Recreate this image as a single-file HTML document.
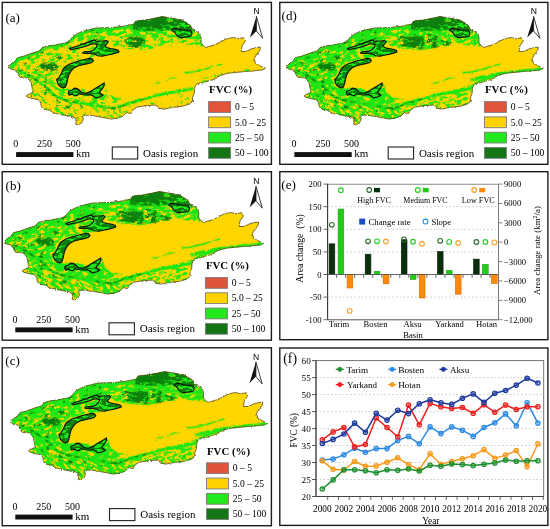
<!DOCTYPE html>
<html><head><meta charset="utf-8"><title>FVC figure</title>
<style>html,body{margin:0;padding:0;background:#fff;} body{width:550px;height:529px;overflow:hidden;} svg{display:block;}</style>
</head><body>
<svg width="550" height="529" viewBox="0 0 550 529">
<rect width="550" height="529" fill="#fff"/>
<rect x="2.2" y="2.4" width="269.2" height="161.9" fill="none" stroke="#1c1c1c" stroke-width="1.4"/>
<rect x="279.8" y="2.4" width="268.1" height="161.9" fill="none" stroke="#1c1c1c" stroke-width="1.4"/>
<rect x="2.2" y="171.7" width="269.2" height="168.5" fill="none" stroke="#1c1c1c" stroke-width="1.4"/>
<rect x="279.8" y="171.7" width="268.1" height="168.0" fill="none" stroke="#1c1c1c" stroke-width="1.4"/>
<rect x="2.2" y="347.8" width="269.2" height="177.9" fill="none" stroke="#1c1c1c" stroke-width="1.4"/>
<rect x="279.8" y="348.0" width="268.1" height="177.4" fill="none" stroke="#1c1c1c" stroke-width="1.4"/>
<defs><filter id="rough" x="-3%" y="-5%" width="106%" height="110%"><feTurbulence type="fractalNoise" baseFrequency="0.45" numOctaves="2" seed="2" result="t"/><feDisplacementMap in="SourceGraphic" in2="t" scale="2.4" xChannelSelector="R" yChannelSelector="G"/></filter>
<clipPath id="mclip" clipPathUnits="userSpaceOnUse"><polygon points="8.4,67.9 9.5,65.6 12.0,63.0 15.2,61.1 17.5,57.7 24.3,56.0 28.8,54.3 32.2,53.1 39.0,50.9 42.4,47.5 48.1,45.8 53.8,45.2 59.4,44.1 65.0,43.0 67.2,42.1 70.5,39.6 72.9,36.4 77.0,33.9 81.9,31.5 88.5,29.8 95.0,28.2 98.7,27.9 111.8,27.5 122.7,26.4 133.6,24.2 135.8,20.9 146.7,19.8 157.6,17.6 162.0,16.5 172.9,18.3 181.6,19.8 187.1,23.1 190.4,25.3 192.6,29.6 196.2,31.4 200.3,33.8 201.1,37.9 201.1,42.7 203.5,45.9 205.9,47.5 210.7,45.9 216.3,44.3 222.0,41.1 226.8,38.7 233.2,37.5 238.0,38.7 244.4,37.9 245.3,41.1 242.0,45.9 241.2,51.5 246.1,51.5 250.9,49.1 255.7,47.5 260.5,47.2 259.7,50.7 256.5,54.7 254.1,58.7 255.7,63.6 260.5,66.0 265.3,68.4 262.1,70.0 254.1,70.8 244.4,71.6 236.4,72.4 228.4,73.2 222.0,74.8 217.1,77.2 213.1,79.6 207.5,81.2 202.7,82.8 198.0,83.6 196.0,84.5 194.5,88.5 194.2,93.5 192.5,97.5 192.5,101.5 189.1,104.2 181.8,106.4 172.7,107.3 163.6,109.1 158.2,108.2 156.4,105.1 147.3,105.5 136.4,107.3 131.8,110.9 130.9,113.6 126.4,112.7 123.6,115.5 118.2,118.2 110.9,119.1 105.1,117.9 98.6,116.7 92.0,115.6 85.5,115.1 82.2,116.7 83.0,120.0 81.4,123.3 78.1,124.9 75.6,124.1 76.5,121.6 75.6,118.4 72.4,116.7 65.8,115.6 59.3,114.3 52.7,112.6 49.5,110.2 44.5,109.4 41.3,106.9 40.5,102.0 38.0,99.5 33.1,98.7 27.4,97.1 26.5,95.5 29.8,93.8 33.1,92.2 32.2,88.3 31.1,82.6 27.7,78.1 24.0,77.8 19.7,77.2 17.5,73.6 16.3,70.2 11.5,69.3"/></clipPath>
<filter id="s30" x="0" y="0" width="1" height="1" color-interpolation-filters="sRGB" filterUnits="objectBoundingBox">
<feTurbulence type="fractalNoise" baseFrequency="0.42" numOctaves="2" seed="3" result="n"/>
<feColorMatrix in="n" type="matrix" values="0 0 0 0 0  0 0 0 0 0  0 0 0 0 0  1 0 0 0 0" result="na"/>
<feComponentTransfer in="na" result="m"><feFuncA type="linear" slope="30" intercept="-16.30"/></feComponentTransfer>
<feComposite in="SourceGraphic" in2="m" operator="in"/>
</filter>
<filter id="s45" x="0" y="0" width="1" height="1" color-interpolation-filters="sRGB" filterUnits="objectBoundingBox">
<feTurbulence type="fractalNoise" baseFrequency="0.42" numOctaves="2" seed="5" result="n"/>
<feColorMatrix in="n" type="matrix" values="0 0 0 0 0  0 0 0 0 0  0 0 0 0 0  1 0 0 0 0" result="na"/>
<feComponentTransfer in="na" result="m"><feFuncA type="linear" slope="30" intercept="-14.80"/></feComponentTransfer>
<feComposite in="SourceGraphic" in2="m" operator="in"/>
</filter>
<filter id="s60" x="0" y="0" width="1" height="1" color-interpolation-filters="sRGB" filterUnits="objectBoundingBox">
<feTurbulence type="fractalNoise" baseFrequency="0.42" numOctaves="2" seed="7" result="n"/>
<feColorMatrix in="n" type="matrix" values="0 0 0 0 0  0 0 0 0 0  0 0 0 0 0  1 0 0 0 0" result="na"/>
<feComponentTransfer in="na" result="m"><feFuncA type="linear" slope="30" intercept="-13.60"/></feComponentTransfer>
<feComposite in="SourceGraphic" in2="m" operator="in"/>
</filter>
<filter id="s75" x="0" y="0" width="1" height="1" color-interpolation-filters="sRGB" filterUnits="objectBoundingBox">
<feTurbulence type="fractalNoise" baseFrequency="0.42" numOctaves="2" seed="9" result="n"/>
<feColorMatrix in="n" type="matrix" values="0 0 0 0 0  0 0 0 0 0  0 0 0 0 0  1 0 0 0 0" result="na"/>
<feComponentTransfer in="na" result="m"><feFuncA type="linear" slope="30" intercept="-12.40"/></feComponentTransfer>
<feComposite in="SourceGraphic" in2="m" operator="in"/>
</filter>
<filter id="d40" x="0" y="0" width="1" height="1" color-interpolation-filters="sRGB" filterUnits="objectBoundingBox">
<feTurbulence type="fractalNoise" baseFrequency="0.3" numOctaves="2" seed="11" result="n"/>
<feColorMatrix in="n" type="matrix" values="0 0 0 0 0  0 0 0 0 0  0 0 0 0 0  1 0 0 0 0" result="na"/>
<feComponentTransfer in="na" result="m"><feFuncA type="linear" slope="30" intercept="-15.40"/></feComponentTransfer>
<feComposite in="SourceGraphic" in2="m" operator="in"/>
</filter>
<filter id="d25" x="0" y="0" width="1" height="1" color-interpolation-filters="sRGB" filterUnits="objectBoundingBox">
<feTurbulence type="fractalNoise" baseFrequency="0.3" numOctaves="2" seed="13" result="n"/>
<feColorMatrix in="n" type="matrix" values="0 0 0 0 0  0 0 0 0 0  0 0 0 0 0  1 0 0 0 0" result="na"/>
<feComponentTransfer in="na" result="m"><feFuncA type="linear" slope="30" intercept="-16.60"/></feComponentTransfer>
<feComposite in="SourceGraphic" in2="m" operator="in"/>
</filter></defs>
<g transform="translate(0,0)"><g filter="url(#rough)">
<polygon points="8.4,67.9 9.5,65.6 12.0,63.0 15.2,61.1 17.5,57.7 24.3,56.0 28.8,54.3 32.2,53.1 39.0,50.9 42.4,47.5 48.1,45.8 53.8,45.2 59.4,44.1 65.0,43.0 67.2,42.1 70.5,39.6 72.9,36.4 77.0,33.9 81.9,31.5 88.5,29.8 95.0,28.2 98.7,27.9 111.8,27.5 122.7,26.4 133.6,24.2 135.8,20.9 146.7,19.8 157.6,17.6 162.0,16.5 172.9,18.3 181.6,19.8 187.1,23.1 190.4,25.3 192.6,29.6 196.2,31.4 200.3,33.8 201.1,37.9 201.1,42.7 203.5,45.9 205.9,47.5 210.7,45.9 216.3,44.3 222.0,41.1 226.8,38.7 233.2,37.5 238.0,38.7 244.4,37.9 245.3,41.1 242.0,45.9 241.2,51.5 246.1,51.5 250.9,49.1 255.7,47.5 260.5,47.2 259.7,50.7 256.5,54.7 254.1,58.7 255.7,63.6 260.5,66.0 265.3,68.4 262.1,70.0 254.1,70.8 244.4,71.6 236.4,72.4 228.4,73.2 222.0,74.8 217.1,77.2 213.1,79.6 207.5,81.2 202.7,82.8 198.0,83.6 196.0,84.5 194.5,88.5 194.2,93.5 192.5,97.5 192.5,101.5 189.1,104.2 181.8,106.4 172.7,107.3 163.6,109.1 158.2,108.2 156.4,105.1 147.3,105.5 136.4,107.3 131.8,110.9 130.9,113.6 126.4,112.7 123.6,115.5 118.2,118.2 110.9,119.1 105.1,117.9 98.6,116.7 92.0,115.6 85.5,115.1 82.2,116.7 83.0,120.0 81.4,123.3 78.1,124.9 75.6,124.1 76.5,121.6 75.6,118.4 72.4,116.7 65.8,115.6 59.3,114.3 52.7,112.6 49.5,110.2 44.5,109.4 41.3,106.9 40.5,102.0 38.0,99.5 33.1,98.7 27.4,97.1 26.5,95.5 29.8,93.8 33.1,92.2 32.2,88.3 31.1,82.6 27.7,78.1 24.0,77.8 19.7,77.2 17.5,73.6 16.3,70.2 11.5,69.3" fill="#ffd600"/>
<g clip-path="url(#mclip)">
<polygon points="-3.4,49.7 9.4,43.8 26.2,41.4 42.7,39.9 63.2,42.1 74.3,40.8 86.1,37.6 102.2,40.3 101.5,53.9 97.3,56.6 88.1,55.4 79.6,55.5 71.1,55.6 63.7,58.2 56.4,60.9 46.3,59.3 31.8,55.1 16.7,52.8 6.0,53.2" transform="rotate(-20.0 55.7 50.1)" fill="#1ee614" filter="url(#sp0)"/>
<polygon points="1.6,63.7 12.3,62.4 23.0,61.1 38.3,62.1 53.0,65.0 63.2,65.7 70.0,63.4 63.0,73.9 57.1,80.6 52.6,89.8 52.0,95.8 44.5,96.9 35.6,91.4 30.6,82.9 26.6,74.5 15.6,69.5" transform="rotate(-15.0 39.9 74.9)" fill="#1ee614" filter="url(#sp1)"/>
<g transform="rotate(-20.0 58.6 44.5)" filter="url(#sp2)"><polyline points="-0.5,50.1 3.2,49.7 7.1,48.4 11.6,45.7 15.9,43.3 20.9,43.9 27.9,43.8 30.8,43.1 38.6,43.4 41.7,41.9 47.7,42.3 54.4,43.0 61.6,44.7 67.5,45.2 71.5,44.0 74.8,41.8 79.5,40.8 84.9,40.3 91.7,40.9 98.4,41.6 102.0,42.6 114.4,46.7 125.0,49.4 136.0,51.1" fill="none" stroke="#1ee614" stroke-width="6" stroke-linecap="round" stroke-linejoin="round"/></g>
<polygon points="66.7,51.0 73.8,47.7 82.3,46.9 98.5,48.1 100.8,55.0 99.3,60.8 92.0,60.9 84.0,59.8 73.8,59.1 66.5,59.2 59.4,62.5" transform="rotate(-15.0 81.5 55.5)" fill="#1ee614" filter="url(#sp3)"/>
<polygon points="55.1,94.4 59.4,95.3 69.1,92.8 78.8,90.2 88.9,89.5 97.6,83.1 102.8,79.6 106.8,86.8 113.9,90.1 118.8,92.9 112.1,98.8 102.7,102.4 82.9,105.6 67.4,105.6 57.6,100.0" transform="rotate(15.0 87.6 93.8)" fill="#1ee614" filter="url(#sp4)"/>
<polygon points="-6.3,108.2 10.7,106.8 20.7,103.8 25.8,117.2 40.0,115.2 47.4,121.1 64.9,116.8 83.9,109.3 92.4,113.3 96.4,101.1 114.3,91.9 124.7,80.4 114.0,73.1 96.1,82.3 78.2,91.5 63.5,96.3 52.9,98.4 41.3,98.8 31.0,95.9 21.1,95.2 5.2,98.4" transform="rotate(33.0 58.0 100.7)" fill="#1ee614" filter="url(#sp5)"/>
<polygon points="107.9,121.5 134.3,113.1 149.5,113.2 151.3,100.3 130.9,101.5 115.6,102.3 100.5,102.2" transform="rotate(-8.0 127.1 107.7)" fill="#1ee614" filter="url(#sp6)"/>
<polygon points="150.5,89.1 171.1,89.5 192.0,88.8 203.2,85.6 207.5,88.9 200.6,95.3 193.6,110.0 156.3,106.2 147.1,101.7" transform="rotate(-15.0 180.2 95.0)" fill="#1ee614" filter="url(#sp7)"/>
<g transform="rotate(-10.0 102.6 94.5)" filter="url(#sp8)"><polyline points="24.0,56.3 37.2,65.9 48.1,77.1 55.5,87.7 68.8,95.5 86.3,101.4 100.2,106.6 112.4,110.5 125.0,108.1 142.6,106.1 162.8,104.4 179.4,104.5 191.7,104.2" fill="none" stroke="#1ee614" stroke-width="3.0" stroke-linecap="round" stroke-linejoin="round"/></g>
<g transform="rotate(-10.0 223.4 76.9)" filter="url(#sp9)"><polyline points="190.4,83.0 202.0,77.1 220.9,73.9 240.7,74.5 262.8,75.8" fill="none" stroke="#1ee614" stroke-width="2.6" stroke-linecap="round" stroke-linejoin="round"/></g>
<g transform="rotate(30.0 51.4 83.5)" filter="url(#sp10)"><polyline points="30.0,82.9 39.7,81.5 52.1,84.8 62.8,85.0 72.3,83.5" fill="none" stroke="#1ee614" stroke-width="2.2" stroke-linecap="round" stroke-linejoin="round"/></g>
<g transform="rotate(-5.0 114.1 98.1)" filter="url(#sp11)"><polyline points="102.5,95.8 115.0,98.7 124.9,99.9" fill="none" stroke="#1ee614" stroke-width="1.5" stroke-linecap="round" stroke-linejoin="round"/></g>
<g transform="rotate(-12.0 163.4 81.3)" filter="url(#sp12)"><polyline points="149.3,83.1 163.7,80.9 177.1,79.8" fill="none" stroke="#1ee614" stroke-width="1.6" stroke-linecap="round" stroke-linejoin="round"/></g>
<g transform="rotate(-12.0 202.3 69.3)" filter="url(#sp13)"><polyline points="184.6,69.3 194.3,70.2 207.6,69.6 222.7,68.2" fill="none" stroke="#1ee614" stroke-width="1.6" stroke-linecap="round" stroke-linejoin="round"/></g>
<polygon points="70.3,26.3 95.5,22.6 135.7,19.7 145.3,28.2 172.3,28.6 186.1,31.3 195.1,32.8 202.8,38.2 202.5,43.2 179.7,40.0 159.7,39.0 139.8,36.9 119.9,34.9 99.9,33.8 84.8,35.0 71.7,36.4" transform="rotate(-3.0 141.3 32.9)" fill="#1ee614" filter="url(#sp14)"/>
<polygon points="85.3,34.8 100.4,33.5 120.4,34.6 140.3,36.6 160.2,38.7 180.2,39.7 203.0,42.9 204.7,50.0 194.7,48.5 179.9,45.7 159.7,47.7 144.6,49.9 124.7,47.8 109.9,43.0 100.1,39.5" transform="rotate(-3.0 147.2 42.2)" fill="#1ee614" filter="url(#sp15)"/>
<polygon points="127.8,28.1 133.7,22.6 136.1,19.4 147.0,18.9 158.0,17.3 162.5,16.4 173.3,18.8 181.9,20.7 187.2,24.3 190.4,26.7 192.3,31.1 195.6,33.7 184.6,34.1 169.7,31.3 149.7,31.3 134.7,30.5" transform="rotate(-3.0 164.0 25.3)" fill="#1ee614" filter="url(#sp16)"/>
<g transform="rotate(-8.0 230.3 73.4)" filter="url(#sp17)"><polyline points="193.4,74.9 204.7,73.4 214.9,72.9 230.1,72.5 245.2,73.1 258.3,73.4 265.3,73.4" fill="none" stroke="#1ee614" stroke-width="3.4" stroke-linecap="round" stroke-linejoin="round"/></g>
<g transform="rotate(60.0 197.5 35.2)" filter="url(#sp18)"><polyline points="187.5,38.1 194.4,34.1 199.9,32.6 208.2,36.2" fill="none" stroke="#1ee614" stroke-width="3.0" stroke-linecap="round" stroke-linejoin="round"/></g>
<polygon points="133.0,24.4 136.5,15.6 160.6,13.9 178.5,15.8 192.1,23.5 194.7,31.7 185.7,32.2 171.8,29.5 159.7,30.8 144.7,29.6 132.8,28.4" transform="rotate(-3.0 162.7 25.0)" fill="#0c7f0c" filter="url(#sp19)"/>
<polygon points="132.8,25.0 136.3,16.2 160.4,14.4 166.3,15.8 168.0,22.9 164.7,27.2 149.7,27.4 134.7,27.1" transform="rotate(-3.0 151.6 22.0)" fill="#0c7f0c" filter="url(#sp20)"/>
<polygon points="124.5,38.0 131.0,36.1 140.8,37.9 146.2,41.9 144.2,47.6 134.9,48.0 126.4,44.5" transform="rotate(-10.0 135.4 42.0)" fill="#0c7f0c" filter="url(#sp21)"/>

<polygon points="39.2,64.3 42.6,62.3 47.7,62.2 52.6,63.6 57.2,65.9 57.7,69.0 54.2,71.5 48.2,71.2 42.5,68.9" transform="rotate(-10.0 49.1 66.5)" fill="#0c7f0c" filter="url(#sp22)"/>
<polygon points="-3.4,49.7 9.4,43.8 26.2,41.4 42.7,39.9 63.2,42.1 74.3,40.8 86.1,37.6 102.2,40.3 101.5,53.9 97.3,56.6 88.1,55.4 79.6,55.5 71.1,55.6 63.7,58.2 56.4,60.9 46.3,59.3 31.8,55.1 16.7,52.8 6.0,53.2" transform="rotate(-20.0 55.7 50.1)" fill="#0c7f0c" filter="url(#sp23)"/>
<polygon points="1.6,63.7 12.3,62.4 23.0,61.1 38.3,62.1 53.0,65.0 63.2,65.7 70.0,63.4 63.0,73.9 57.1,80.6 52.6,89.8 52.0,95.8 44.5,96.9 35.6,91.4 30.6,82.9 26.6,74.5 15.6,69.5" transform="rotate(-15.0 39.9 74.9)" fill="#0c7f0c" filter="url(#sp24)"/>
<polygon points="-6.3,108.2 10.7,106.8 20.7,103.8 25.8,117.2 40.0,115.2 47.4,121.1 64.9,116.8 83.9,109.3 92.4,113.3 96.4,101.1 114.3,91.9 124.7,80.4 114.0,73.1 96.1,82.3 78.2,91.5 63.5,96.3 52.9,98.4 41.3,98.8 31.0,95.9 21.1,95.2 5.2,98.4" transform="rotate(33.0 58.0 100.7)" fill="#0c7f0c" filter="url(#sp25)"/>
<g transform="rotate(-5.0 79.8 95.5)" filter="url(#sp26)"><polyline points="21.0,65.3 34.9,73.7 46.8,83.9 55.0,93.8 69.0,100.5 86.9,104.8 101.2,108.7 113.7,111.6 126.1,108.1 143.4,104.6" fill="none" stroke="#0c7f0c" stroke-width="1.4" stroke-linecap="round" stroke-linejoin="round"/></g>
</g>
<polygon points="8.4,67.9 9.5,65.6 12.0,63.0 15.2,61.1 17.5,57.7 24.3,56.0 28.8,54.3 32.2,53.1 39.0,50.9 42.4,47.5 48.1,45.8 53.8,45.2 59.4,44.1 65.0,43.0 67.2,42.1 70.5,39.6 72.9,36.4 77.0,33.9 81.9,31.5 88.5,29.8 95.0,28.2 98.7,27.9 111.8,27.5 122.7,26.4 133.6,24.2 135.8,20.9 146.7,19.8 157.6,17.6 162.0,16.5 172.9,18.3 181.6,19.8 187.1,23.1 190.4,25.3 192.6,29.6 196.2,31.4 200.3,33.8 201.1,37.9 201.1,42.7 203.5,45.9 205.9,47.5 210.7,45.9 216.3,44.3 222.0,41.1 226.8,38.7 233.2,37.5 238.0,38.7 244.4,37.9 245.3,41.1 242.0,45.9 241.2,51.5 246.1,51.5 250.9,49.1 255.7,47.5 260.5,47.2 259.7,50.7 256.5,54.7 254.1,58.7 255.7,63.6 260.5,66.0 265.3,68.4 262.1,70.0 254.1,70.8 244.4,71.6 236.4,72.4 228.4,73.2 222.0,74.8 217.1,77.2 213.1,79.6 207.5,81.2 202.7,82.8 198.0,83.6 196.0,84.5 194.5,88.5 194.2,93.5 192.5,97.5 192.5,101.5 189.1,104.2 181.8,106.4 172.7,107.3 163.6,109.1 158.2,108.2 156.4,105.1 147.3,105.5 136.4,107.3 131.8,110.9 130.9,113.6 126.4,112.7 123.6,115.5 118.2,118.2 110.9,119.1 105.1,117.9 98.6,116.7 92.0,115.6 85.5,115.1 82.2,116.7 83.0,120.0 81.4,123.3 78.1,124.9 75.6,124.1 76.5,121.6 75.6,118.4 72.4,116.7 65.8,115.6 59.3,114.3 52.7,112.6 49.5,110.2 44.5,109.4 41.3,106.9 40.5,102.0 38.0,99.5 33.1,98.7 27.4,97.1 26.5,95.5 29.8,93.8 33.1,92.2 32.2,88.3 31.1,82.6 27.7,78.1 24.0,77.8 19.7,77.2 17.5,73.6 16.3,70.2 11.5,69.3" fill="none" stroke="#5a4a22" stroke-width="0.8" stroke-linejoin="round"/>
</g>
<polygon points="69.4,48.6 75.9,46.5 82.4,44.3 87.9,42.1 92.3,40.5 94.4,39.9 96.6,41.5 98.8,41.0 103.2,41.0 106.4,40.5 108.1,41.5 107.0,43.7 105.3,45.4 106.4,47.5 110.8,48.6 115.2,49.2 118.4,50.3 119.0,51.9 116.3,53.0 111.9,54.1 106.4,55.2 102.1,56.3 97.7,55.7 94.4,54.1 90.1,53.5 84.6,53.5 82.4,53.0 84.1,51.9 90.1,51.4 93.9,49.7 96.6,47.0 97.2,44.8 94.4,43.7 91.2,44.3 86.8,45.9 81.4,47.5 75.9,48.6 71.0,49.7" fill="#0c7f0c"/>
<polygon points="69.4,48.6 75.9,46.5 82.4,44.3 87.9,42.1 92.3,40.5 94.4,39.9 96.6,41.5 98.8,41.0 103.2,41.0 106.4,40.5 108.1,41.5 107.0,43.7 105.3,45.4 106.4,47.5 110.8,48.6 115.2,49.2 118.4,50.3 119.0,51.9 116.3,53.0 111.9,54.1 106.4,55.2 102.1,56.3 97.7,55.7 94.4,54.1 90.1,53.5 84.6,53.5 82.4,53.0 84.1,51.9 90.1,51.4 93.9,49.7 96.6,47.0 97.2,44.8 94.4,43.7 91.2,44.3 86.8,45.9 81.4,47.5 75.9,48.6 71.0,49.7" fill="#1ee614" filter="url(#sp63)"/>
<polygon points="69.4,48.6 75.9,46.5 82.4,44.3 87.9,42.1 92.3,40.5 94.4,39.9 96.6,41.5 98.8,41.0 103.2,41.0 106.4,40.5 108.1,41.5 107.0,43.7 105.3,45.4 106.4,47.5 110.8,48.6 115.2,49.2 118.4,50.3 119.0,51.9 116.3,53.0 111.9,54.1 106.4,55.2 102.1,56.3 97.7,55.7 94.4,54.1 90.1,53.5 84.6,53.5 82.4,53.0 84.1,51.9 90.1,51.4 93.9,49.7 96.6,47.0 97.2,44.8 94.4,43.7 91.2,44.3 86.8,45.9 81.4,47.5 75.9,48.6 71.0,49.7" fill="none" stroke="#101010" stroke-width="1.15" stroke-linejoin="round"/>
<polygon points="92.2,58.7 93.5,60.7 91.8,62.4 87.7,63.6 82.8,64.8 77.9,66.0 73.8,68.1 71.4,70.5 68.9,74.6 67.7,78.7 66.9,82.8 65.6,86.9 63.2,88.1 60.7,86.9 58.3,84.5 56.6,79.5 58.7,77.9 61.1,73.8 63.2,68.9 65.6,66.5 69.7,64.0 74.6,62.4 79.5,60.7 84.5,59.5 89.4,58.4" fill="#0c7f0c"/>
<polygon points="92.2,58.7 93.5,60.7 91.8,62.4 87.7,63.6 82.8,64.8 77.9,66.0 73.8,68.1 71.4,70.5 68.9,74.6 67.7,78.7 66.9,82.8 65.6,86.9 63.2,88.1 60.7,86.9 58.3,84.5 56.6,79.5 58.7,77.9 61.1,73.8 63.2,68.9 65.6,66.5 69.7,64.0 74.6,62.4 79.5,60.7 84.5,59.5 89.4,58.4" fill="#1ee614" filter="url(#sp64)"/>
<polygon points="92.2,58.7 93.5,60.7 91.8,62.4 87.7,63.6 82.8,64.8 77.9,66.0 73.8,68.1 71.4,70.5 68.9,74.6 67.7,78.7 66.9,82.8 65.6,86.9 63.2,88.1 60.7,86.9 58.3,84.5 56.6,79.5 58.7,77.9 61.1,73.8 63.2,68.9 65.6,66.5 69.7,64.0 74.6,62.4 79.5,60.7 84.5,59.5 89.4,58.4" fill="none" stroke="#101010" stroke-width="1.15" stroke-linejoin="round"/>
<polygon points="68.5,93.0 68.7,91.4 72.0,90.3 74.2,88.1 77.4,88.6 79.6,90.3 81.8,92.6 86.2,93.3 90.5,91.4 96.0,88.1 101.4,84.8 104.2,82.9 104.2,85.4 102.0,89.2 99.3,92.4 100.9,93.5 103.1,95.2 100.3,96.8 96.0,97.9 92.7,95.7 91.1,94.6 86.2,95.0 81.8,94.5 78.5,93.8 76.4,95.7 74.2,95.2 72.0,94.1 69.3,95.2" fill="#0c7f0c"/>
<polygon points="68.5,93.0 68.7,91.4 72.0,90.3 74.2,88.1 77.4,88.6 79.6,90.3 81.8,92.6 86.2,93.3 90.5,91.4 96.0,88.1 101.4,84.8 104.2,82.9 104.2,85.4 102.0,89.2 99.3,92.4 100.9,93.5 103.1,95.2 100.3,96.8 96.0,97.9 92.7,95.7 91.1,94.6 86.2,95.0 81.8,94.5 78.5,93.8 76.4,95.7 74.2,95.2 72.0,94.1 69.3,95.2" fill="#1ee614" filter="url(#sp65)"/>
<polygon points="68.5,93.0 68.7,91.4 72.0,90.3 74.2,88.1 77.4,88.6 79.6,90.3 81.8,92.6 86.2,93.3 90.5,91.4 96.0,88.1 101.4,84.8 104.2,82.9 104.2,85.4 102.0,89.2 99.3,92.4 100.9,93.5 103.1,95.2 100.3,96.8 96.0,97.9 92.7,95.7 91.1,94.6 86.2,95.0 81.8,94.5 78.5,93.8 76.4,95.7 74.2,95.2 72.0,94.1 69.3,95.2" fill="none" stroke="#101010" stroke-width="1.15" stroke-linejoin="round"/>
<polygon points="171.4,30.0 174.5,28.4 177.7,28.7 180.9,29.6 184.1,30.3 187.9,30.0 190.5,30.3 191.7,32.2 191.7,34.7 190.5,36.3 187.3,37.0 184.1,37.3 181.5,37.9 179.0,37.0 176.8,35.4 175.2,33.1 173.3,31.2" fill="#0c7f0c"/>
<polygon points="171.4,30.0 174.5,28.4 177.7,28.7 180.9,29.6 184.1,30.3 187.9,30.0 190.5,30.3 191.7,32.2 191.7,34.7 190.5,36.3 187.3,37.0 184.1,37.3 181.5,37.9 179.0,37.0 176.8,35.4 175.2,33.1 173.3,31.2" fill="#1ee614" filter="url(#sp66)"/>
<polygon points="171.4,30.0 174.5,28.4 177.7,28.7 180.9,29.6 184.1,30.3 187.9,30.0 190.5,30.3 191.7,32.2 191.7,34.7 190.5,36.3 187.3,37.0 184.1,37.3 181.5,37.9 179.0,37.0 176.8,35.4 175.2,33.1 173.3,31.2" fill="none" stroke="#101010" stroke-width="1.15" stroke-linejoin="round"/>
</g>
<g transform="translate(277.9,0)"><g filter="url(#rough)">
<polygon points="8.4,67.9 9.5,65.6 12.0,63.0 15.2,61.1 17.5,57.7 24.3,56.0 28.8,54.3 32.2,53.1 39.0,50.9 42.4,47.5 48.1,45.8 53.8,45.2 59.4,44.1 65.0,43.0 67.2,42.1 70.5,39.6 72.9,36.4 77.0,33.9 81.9,31.5 88.5,29.8 95.0,28.2 98.7,27.9 111.8,27.5 122.7,26.4 133.6,24.2 135.8,20.9 146.7,19.8 157.6,17.6 162.0,16.5 172.9,18.3 181.6,19.8 187.1,23.1 190.4,25.3 192.6,29.6 196.2,31.4 200.3,33.8 201.1,37.9 201.1,42.7 203.5,45.9 205.9,47.5 210.7,45.9 216.3,44.3 222.0,41.1 226.8,38.7 233.2,37.5 238.0,38.7 244.4,37.9 245.3,41.1 242.0,45.9 241.2,51.5 246.1,51.5 250.9,49.1 255.7,47.5 260.5,47.2 259.7,50.7 256.5,54.7 254.1,58.7 255.7,63.6 260.5,66.0 265.3,68.4 262.1,70.0 254.1,70.8 244.4,71.6 236.4,72.4 228.4,73.2 222.0,74.8 217.1,77.2 213.1,79.6 207.5,81.2 202.7,82.8 198.0,83.6 196.0,84.5 194.5,88.5 194.2,93.5 192.5,97.5 192.5,101.5 189.1,104.2 181.8,106.4 172.7,107.3 163.6,109.1 158.2,108.2 156.4,105.1 147.3,105.5 136.4,107.3 131.8,110.9 130.9,113.6 126.4,112.7 123.6,115.5 118.2,118.2 110.9,119.1 105.1,117.9 98.6,116.7 92.0,115.6 85.5,115.1 82.2,116.7 83.0,120.0 81.4,123.3 78.1,124.9 75.6,124.1 76.5,121.6 75.6,118.4 72.4,116.7 65.8,115.6 59.3,114.3 52.7,112.6 49.5,110.2 44.5,109.4 41.3,106.9 40.5,102.0 38.0,99.5 33.1,98.7 27.4,97.1 26.5,95.5 29.8,93.8 33.1,92.2 32.2,88.3 31.1,82.6 27.7,78.1 24.0,77.8 19.7,77.2 17.5,73.6 16.3,70.2 11.5,69.3" fill="#ffd600"/>
<g clip-path="url(#mclip)">
<polygon points="-3.4,49.7 9.4,43.8 26.2,41.4 42.7,39.9 63.2,42.1 74.3,40.8 86.1,37.6 102.2,40.3 101.5,53.9 97.3,56.6 88.1,55.4 79.6,55.5 71.1,55.6 63.7,58.2 56.4,60.9 46.3,59.3 31.8,55.1 16.7,52.8 6.0,53.2" transform="rotate(-20.0 55.7 50.1)" fill="#1ee614" filter="url(#sp49)"/>
<polygon points="1.6,63.7 12.3,62.4 23.0,61.1 38.3,62.1 53.0,65.0 63.2,65.7 70.0,63.4 63.0,73.9 57.1,80.6 52.6,89.8 52.0,95.8 44.5,96.9 35.6,91.4 30.6,82.9 26.6,74.5 15.6,69.5" transform="rotate(-15.0 39.9 74.9)" fill="#1ee614" filter="url(#sp28)"/>
<g transform="rotate(-20.0 58.6 44.5)" filter="url(#sp29)"><polyline points="-0.5,50.1 3.2,49.7 7.1,48.4 11.6,45.7 15.9,43.3 20.9,43.9 27.9,43.8 30.8,43.1 38.6,43.4 41.7,41.9 47.7,42.3 54.4,43.0 61.6,44.7 67.5,45.2 71.5,44.0 74.8,41.8 79.5,40.8 84.9,40.3 91.7,40.9 98.4,41.6 102.0,42.6 114.4,46.7 125.0,49.4 136.0,51.1" fill="none" stroke="#1ee614" stroke-width="6" stroke-linecap="round" stroke-linejoin="round"/></g>
<polygon points="66.7,51.0 73.8,47.7 82.3,46.9 98.5,48.1 100.8,55.0 99.3,60.8 92.0,60.9 84.0,59.8 73.8,59.1 66.5,59.2 59.4,62.5" transform="rotate(-15.0 81.5 55.5)" fill="#1ee614" filter="url(#sp51)"/>
<polygon points="55.1,94.4 59.4,95.3 69.1,92.8 78.8,90.2 88.9,89.5 97.6,83.1 102.8,79.6 106.8,86.8 113.9,90.1 118.8,92.9 112.1,98.8 102.7,102.4 82.9,105.6 67.4,105.6 57.6,100.0" transform="rotate(15.0 87.6 93.8)" fill="#1ee614" filter="url(#sp52)"/>
<polygon points="-6.3,108.2 10.7,106.8 20.7,103.8 25.8,117.2 40.0,115.2 47.4,121.1 64.9,116.8 83.9,109.3 92.4,113.3 96.4,101.1 114.3,91.9 124.7,80.4 114.0,73.1 96.1,82.3 78.2,91.5 63.5,96.3 52.9,98.4 41.3,98.8 31.0,95.9 21.1,95.2 5.2,98.4" transform="rotate(33.0 58.0 100.7)" fill="#1ee614" filter="url(#sp60)"/>
<polygon points="107.9,121.5 134.3,113.1 149.5,113.2 151.3,100.3 130.9,101.5 115.6,102.3 100.5,102.2" transform="rotate(-8.0 127.1 107.7)" fill="#1ee614" filter="url(#sp61)"/>
<polygon points="150.5,89.1 171.1,89.5 192.0,88.8 203.2,85.6 207.5,88.9 200.6,95.3 193.6,110.0 156.3,106.2 147.1,101.7" transform="rotate(-15.0 180.2 95.0)" fill="#1ee614" filter="url(#sp62)"/>
<g transform="rotate(-10.0 102.6 94.5)" filter="url(#sp35)"><polyline points="24.0,56.3 37.2,65.9 48.1,77.1 55.5,87.7 68.8,95.5 86.3,101.4 100.2,106.6 112.4,110.5 125.0,108.1 142.6,106.1 162.8,104.4 179.4,104.5 191.7,104.2" fill="none" stroke="#1ee614" stroke-width="3.0" stroke-linecap="round" stroke-linejoin="round"/></g>
<g transform="rotate(-10.0 223.4 76.9)" filter="url(#sp36)"><polyline points="190.4,83.0 202.0,77.1 220.9,73.9 240.7,74.5 262.8,75.8" fill="none" stroke="#1ee614" stroke-width="2.6" stroke-linecap="round" stroke-linejoin="round"/></g>
<g transform="rotate(30.0 51.4 83.5)" filter="url(#sp37)"><polyline points="30.0,82.9 39.7,81.5 52.1,84.8 62.8,85.0 72.3,83.5" fill="none" stroke="#1ee614" stroke-width="2.2" stroke-linecap="round" stroke-linejoin="round"/></g>
<g transform="rotate(-5.0 114.1 98.1)" filter="url(#sp38)"><polyline points="102.5,95.8 115.0,98.7 124.9,99.9" fill="none" stroke="#1ee614" stroke-width="1.5" stroke-linecap="round" stroke-linejoin="round"/></g>
<g transform="rotate(-12.0 163.4 81.3)" filter="url(#sp39)"><polyline points="149.3,83.1 163.7,80.9 177.1,79.8" fill="none" stroke="#1ee614" stroke-width="1.6" stroke-linecap="round" stroke-linejoin="round"/></g>
<g transform="rotate(-12.0 202.3 69.3)" filter="url(#sp40)"><polyline points="184.6,69.3 194.3,70.2 207.6,69.6 222.7,68.2" fill="none" stroke="#1ee614" stroke-width="1.6" stroke-linecap="round" stroke-linejoin="round"/></g>
<polygon points="70.3,26.3 95.5,22.6 135.7,19.7 145.3,28.2 172.3,28.6 186.1,31.3 195.1,32.8 202.8,38.2 202.5,43.2 179.7,40.0 159.7,39.0 139.8,36.9 119.9,34.9 99.9,33.8 84.8,35.0 71.7,36.4" transform="rotate(-3.0 141.3 32.9)" fill="#1ee614" filter="url(#sp41)"/>
<polygon points="85.3,34.8 100.4,33.5 120.4,34.6 140.3,36.6 160.2,38.7 180.2,39.7 203.0,42.9 204.7,50.0 194.7,48.5 179.9,45.7 159.7,47.7 144.6,49.9 124.7,47.8 109.9,43.0 100.1,39.5" transform="rotate(-3.0 147.2 42.2)" fill="#1ee614" filter="url(#sp42)"/>
<polygon points="127.8,28.1 133.7,22.6 136.1,19.4 147.0,18.9 158.0,17.3 162.5,16.4 173.3,18.8 181.9,20.7 187.2,24.3 190.4,26.7 192.3,31.1 195.6,33.7 184.6,34.1 169.7,31.3 149.7,31.3 134.7,30.5" transform="rotate(-3.0 164.0 25.3)" fill="#1ee614" filter="url(#sp16)"/>
<g transform="rotate(-8.0 230.3 73.4)" filter="url(#sp58)"><polyline points="193.4,74.9 204.7,73.4 214.9,72.9 230.1,72.5 245.2,73.1 258.3,73.4 265.3,73.4" fill="none" stroke="#1ee614" stroke-width="3.4" stroke-linecap="round" stroke-linejoin="round"/></g>
<g transform="rotate(60.0 197.5 35.2)" filter="url(#sp18)"><polyline points="187.5,38.1 194.4,34.1 199.9,32.6 208.2,36.2" fill="none" stroke="#1ee614" stroke-width="3.0" stroke-linecap="round" stroke-linejoin="round"/></g>
<polygon points="133.0,24.4 136.5,15.6 160.6,13.9 178.5,15.8 192.1,23.5 194.7,31.7 185.7,32.2 171.8,29.5 159.7,30.8 144.7,29.6 132.8,28.4" transform="rotate(-3.0 162.7 25.0)" fill="#0c7f0c" filter="url(#sp19)"/>
<polygon points="132.8,25.0 136.3,16.2 160.4,14.4 166.3,15.8 168.0,22.9 164.7,27.2 149.7,27.4 134.7,27.1" transform="rotate(-3.0 151.6 22.0)" fill="#0c7f0c" filter="url(#sp20)"/>
<polygon points="124.5,38.0 131.0,36.1 140.8,37.9 146.2,41.9 144.2,47.6 134.9,48.0 126.4,44.5" transform="rotate(-10.0 135.4 42.0)" fill="#0c7f0c" filter="url(#sp21)"/>
<polygon points="118.5,35.1 128.8,32.0 150.7,33.9 170.3,39.7 179.9,44.5 177.5,48.3 164.5,48.2 144.4,48.4 124.6,45.7" transform="rotate(-5.0 151.0 41.8)" fill="#0c7f0c" filter="url(#sp59)"/>
<polygon points="39.2,64.3 42.6,62.3 47.7,62.2 52.6,63.6 57.2,65.9 57.7,69.0 54.2,71.5 48.2,71.2 42.5,68.9" transform="rotate(-10.0 49.1 66.5)" fill="#0c7f0c" filter="url(#sp22)"/>
<polygon points="-3.4,49.7 9.4,43.8 26.2,41.4 42.7,39.9 63.2,42.1 74.3,40.8 86.1,37.6 102.2,40.3 101.5,53.9 97.3,56.6 88.1,55.4 79.6,55.5 71.1,55.6 63.7,58.2 56.4,60.9 46.3,59.3 31.8,55.1 16.7,52.8 6.0,53.2" transform="rotate(-20.0 55.7 50.1)" fill="#0c7f0c" filter="url(#sp45)"/>
<polygon points="1.6,63.7 12.3,62.4 23.0,61.1 38.3,62.1 53.0,65.0 63.2,65.7 70.0,63.4 63.0,73.9 57.1,80.6 52.6,89.8 52.0,95.8 44.5,96.9 35.6,91.4 30.6,82.9 26.6,74.5 15.6,69.5" transform="rotate(-15.0 39.9 74.9)" fill="#0c7f0c" filter="url(#sp46)"/>
<polygon points="-6.3,108.2 10.7,106.8 20.7,103.8 25.8,117.2 40.0,115.2 47.4,121.1 64.9,116.8 83.9,109.3 92.4,113.3 96.4,101.1 114.3,91.9 124.7,80.4 114.0,73.1 96.1,82.3 78.2,91.5 63.5,96.3 52.9,98.4 41.3,98.8 31.0,95.9 21.1,95.2 5.2,98.4" transform="rotate(33.0 58.0 100.7)" fill="#0c7f0c" filter="url(#sp47)"/>
<g transform="rotate(-5.0 79.8 95.5)" filter="url(#sp48)"><polyline points="21.0,65.3 34.9,73.7 46.8,83.9 55.0,93.8 69.0,100.5 86.9,104.8 101.2,108.7 113.7,111.6 126.1,108.1 143.4,104.6" fill="none" stroke="#0c7f0c" stroke-width="1.4" stroke-linecap="round" stroke-linejoin="round"/></g>
</g>
<polygon points="8.4,67.9 9.5,65.6 12.0,63.0 15.2,61.1 17.5,57.7 24.3,56.0 28.8,54.3 32.2,53.1 39.0,50.9 42.4,47.5 48.1,45.8 53.8,45.2 59.4,44.1 65.0,43.0 67.2,42.1 70.5,39.6 72.9,36.4 77.0,33.9 81.9,31.5 88.5,29.8 95.0,28.2 98.7,27.9 111.8,27.5 122.7,26.4 133.6,24.2 135.8,20.9 146.7,19.8 157.6,17.6 162.0,16.5 172.9,18.3 181.6,19.8 187.1,23.1 190.4,25.3 192.6,29.6 196.2,31.4 200.3,33.8 201.1,37.9 201.1,42.7 203.5,45.9 205.9,47.5 210.7,45.9 216.3,44.3 222.0,41.1 226.8,38.7 233.2,37.5 238.0,38.7 244.4,37.9 245.3,41.1 242.0,45.9 241.2,51.5 246.1,51.5 250.9,49.1 255.7,47.5 260.5,47.2 259.7,50.7 256.5,54.7 254.1,58.7 255.7,63.6 260.5,66.0 265.3,68.4 262.1,70.0 254.1,70.8 244.4,71.6 236.4,72.4 228.4,73.2 222.0,74.8 217.1,77.2 213.1,79.6 207.5,81.2 202.7,82.8 198.0,83.6 196.0,84.5 194.5,88.5 194.2,93.5 192.5,97.5 192.5,101.5 189.1,104.2 181.8,106.4 172.7,107.3 163.6,109.1 158.2,108.2 156.4,105.1 147.3,105.5 136.4,107.3 131.8,110.9 130.9,113.6 126.4,112.7 123.6,115.5 118.2,118.2 110.9,119.1 105.1,117.9 98.6,116.7 92.0,115.6 85.5,115.1 82.2,116.7 83.0,120.0 81.4,123.3 78.1,124.9 75.6,124.1 76.5,121.6 75.6,118.4 72.4,116.7 65.8,115.6 59.3,114.3 52.7,112.6 49.5,110.2 44.5,109.4 41.3,106.9 40.5,102.0 38.0,99.5 33.1,98.7 27.4,97.1 26.5,95.5 29.8,93.8 33.1,92.2 32.2,88.3 31.1,82.6 27.7,78.1 24.0,77.8 19.7,77.2 17.5,73.6 16.3,70.2 11.5,69.3" fill="none" stroke="#5a4a22" stroke-width="0.8" stroke-linejoin="round"/>
</g>
<polygon points="69.4,48.6 75.9,46.5 82.4,44.3 87.9,42.1 92.3,40.5 94.4,39.9 96.6,41.5 98.8,41.0 103.2,41.0 106.4,40.5 108.1,41.5 107.0,43.7 105.3,45.4 106.4,47.5 110.8,48.6 115.2,49.2 118.4,50.3 119.0,51.9 116.3,53.0 111.9,54.1 106.4,55.2 102.1,56.3 97.7,55.7 94.4,54.1 90.1,53.5 84.6,53.5 82.4,53.0 84.1,51.9 90.1,51.4 93.9,49.7 96.6,47.0 97.2,44.8 94.4,43.7 91.2,44.3 86.8,45.9 81.4,47.5 75.9,48.6 71.0,49.7" fill="#0c7f0c"/>
<polygon points="69.4,48.6 75.9,46.5 82.4,44.3 87.9,42.1 92.3,40.5 94.4,39.9 96.6,41.5 98.8,41.0 103.2,41.0 106.4,40.5 108.1,41.5 107.0,43.7 105.3,45.4 106.4,47.5 110.8,48.6 115.2,49.2 118.4,50.3 119.0,51.9 116.3,53.0 111.9,54.1 106.4,55.2 102.1,56.3 97.7,55.7 94.4,54.1 90.1,53.5 84.6,53.5 82.4,53.0 84.1,51.9 90.1,51.4 93.9,49.7 96.6,47.0 97.2,44.8 94.4,43.7 91.2,44.3 86.8,45.9 81.4,47.5 75.9,48.6 71.0,49.7" fill="#1ee614" filter="url(#sp63)"/>
<polygon points="69.4,48.6 75.9,46.5 82.4,44.3 87.9,42.1 92.3,40.5 94.4,39.9 96.6,41.5 98.8,41.0 103.2,41.0 106.4,40.5 108.1,41.5 107.0,43.7 105.3,45.4 106.4,47.5 110.8,48.6 115.2,49.2 118.4,50.3 119.0,51.9 116.3,53.0 111.9,54.1 106.4,55.2 102.1,56.3 97.7,55.7 94.4,54.1 90.1,53.5 84.6,53.5 82.4,53.0 84.1,51.9 90.1,51.4 93.9,49.7 96.6,47.0 97.2,44.8 94.4,43.7 91.2,44.3 86.8,45.9 81.4,47.5 75.9,48.6 71.0,49.7" fill="none" stroke="#101010" stroke-width="1.15" stroke-linejoin="round"/>
<polygon points="92.2,58.7 93.5,60.7 91.8,62.4 87.7,63.6 82.8,64.8 77.9,66.0 73.8,68.1 71.4,70.5 68.9,74.6 67.7,78.7 66.9,82.8 65.6,86.9 63.2,88.1 60.7,86.9 58.3,84.5 56.6,79.5 58.7,77.9 61.1,73.8 63.2,68.9 65.6,66.5 69.7,64.0 74.6,62.4 79.5,60.7 84.5,59.5 89.4,58.4" fill="#0c7f0c"/>
<polygon points="92.2,58.7 93.5,60.7 91.8,62.4 87.7,63.6 82.8,64.8 77.9,66.0 73.8,68.1 71.4,70.5 68.9,74.6 67.7,78.7 66.9,82.8 65.6,86.9 63.2,88.1 60.7,86.9 58.3,84.5 56.6,79.5 58.7,77.9 61.1,73.8 63.2,68.9 65.6,66.5 69.7,64.0 74.6,62.4 79.5,60.7 84.5,59.5 89.4,58.4" fill="#1ee614" filter="url(#sp64)"/>
<polygon points="92.2,58.7 93.5,60.7 91.8,62.4 87.7,63.6 82.8,64.8 77.9,66.0 73.8,68.1 71.4,70.5 68.9,74.6 67.7,78.7 66.9,82.8 65.6,86.9 63.2,88.1 60.7,86.9 58.3,84.5 56.6,79.5 58.7,77.9 61.1,73.8 63.2,68.9 65.6,66.5 69.7,64.0 74.6,62.4 79.5,60.7 84.5,59.5 89.4,58.4" fill="none" stroke="#101010" stroke-width="1.15" stroke-linejoin="round"/>
<polygon points="68.5,93.0 68.7,91.4 72.0,90.3 74.2,88.1 77.4,88.6 79.6,90.3 81.8,92.6 86.2,93.3 90.5,91.4 96.0,88.1 101.4,84.8 104.2,82.9 104.2,85.4 102.0,89.2 99.3,92.4 100.9,93.5 103.1,95.2 100.3,96.8 96.0,97.9 92.7,95.7 91.1,94.6 86.2,95.0 81.8,94.5 78.5,93.8 76.4,95.7 74.2,95.2 72.0,94.1 69.3,95.2" fill="#0c7f0c"/>
<polygon points="68.5,93.0 68.7,91.4 72.0,90.3 74.2,88.1 77.4,88.6 79.6,90.3 81.8,92.6 86.2,93.3 90.5,91.4 96.0,88.1 101.4,84.8 104.2,82.9 104.2,85.4 102.0,89.2 99.3,92.4 100.9,93.5 103.1,95.2 100.3,96.8 96.0,97.9 92.7,95.7 91.1,94.6 86.2,95.0 81.8,94.5 78.5,93.8 76.4,95.7 74.2,95.2 72.0,94.1 69.3,95.2" fill="#1ee614" filter="url(#sp65)"/>
<polygon points="68.5,93.0 68.7,91.4 72.0,90.3 74.2,88.1 77.4,88.6 79.6,90.3 81.8,92.6 86.2,93.3 90.5,91.4 96.0,88.1 101.4,84.8 104.2,82.9 104.2,85.4 102.0,89.2 99.3,92.4 100.9,93.5 103.1,95.2 100.3,96.8 96.0,97.9 92.7,95.7 91.1,94.6 86.2,95.0 81.8,94.5 78.5,93.8 76.4,95.7 74.2,95.2 72.0,94.1 69.3,95.2" fill="none" stroke="#101010" stroke-width="1.15" stroke-linejoin="round"/>
<polygon points="171.4,30.0 174.5,28.4 177.7,28.7 180.9,29.6 184.1,30.3 187.9,30.0 190.5,30.3 191.7,32.2 191.7,34.7 190.5,36.3 187.3,37.0 184.1,37.3 181.5,37.9 179.0,37.0 176.8,35.4 175.2,33.1 173.3,31.2" fill="#0c7f0c"/>
<polygon points="171.4,30.0 174.5,28.4 177.7,28.7 180.9,29.6 184.1,30.3 187.9,30.0 190.5,30.3 191.7,32.2 191.7,34.7 190.5,36.3 187.3,37.0 184.1,37.3 181.5,37.9 179.0,37.0 176.8,35.4 175.2,33.1 173.3,31.2" fill="#1ee614" filter="url(#sp66)"/>
<polygon points="171.4,30.0 174.5,28.4 177.7,28.7 180.9,29.6 184.1,30.3 187.9,30.0 190.5,30.3 191.7,32.2 191.7,34.7 190.5,36.3 187.3,37.0 184.1,37.3 181.5,37.9 179.0,37.0 176.8,35.4 175.2,33.1 173.3,31.2" fill="none" stroke="#101010" stroke-width="1.15" stroke-linejoin="round"/>
</g>
<g transform="translate(-4.4,175.0) scale(1.01,1.0)"><g filter="url(#rough)">
<polygon points="8.4,67.9 9.5,65.6 12.0,63.0 15.2,61.1 17.5,57.7 24.3,56.0 28.8,54.3 32.2,53.1 39.0,50.9 42.4,47.5 48.1,45.8 53.8,45.2 59.4,44.1 65.0,43.0 67.2,42.1 70.5,39.6 72.9,36.4 77.0,33.9 81.9,31.5 88.5,29.8 95.0,28.2 98.7,27.9 111.8,27.5 122.7,26.4 133.6,24.2 135.8,20.9 146.7,19.8 157.6,17.6 162.0,16.5 172.9,18.3 181.6,19.8 187.1,23.1 190.4,25.3 192.6,29.6 196.2,31.4 200.3,33.8 201.1,37.9 201.1,42.7 203.5,45.9 205.9,47.5 210.7,45.9 216.3,44.3 222.0,41.1 226.8,38.7 233.2,37.5 238.0,38.7 244.4,37.9 245.3,41.1 242.0,45.9 241.2,51.5 246.1,51.5 250.9,49.1 255.7,47.5 260.5,47.2 259.7,50.7 256.5,54.7 254.1,58.7 255.7,63.6 260.5,66.0 265.3,68.4 262.1,70.0 254.1,70.8 244.4,71.6 236.4,72.4 228.4,73.2 222.0,74.8 217.1,77.2 213.1,79.6 207.5,81.2 202.7,82.8 198.0,83.6 196.0,84.5 194.5,88.5 194.2,93.5 192.5,97.5 192.5,101.5 189.1,104.2 181.8,106.4 172.7,107.3 163.6,109.1 158.2,108.2 156.4,105.1 147.3,105.5 136.4,107.3 131.8,110.9 130.9,113.6 126.4,112.7 123.6,115.5 118.2,118.2 110.9,119.1 105.1,117.9 98.6,116.7 92.0,115.6 85.5,115.1 82.2,116.7 83.0,120.0 81.4,123.3 78.1,124.9 75.6,124.1 76.5,121.6 75.6,118.4 72.4,116.7 65.8,115.6 59.3,114.3 52.7,112.6 49.5,110.2 44.5,109.4 41.3,106.9 40.5,102.0 38.0,99.5 33.1,98.7 27.4,97.1 26.5,95.5 29.8,93.8 33.1,92.2 32.2,88.3 31.1,82.6 27.7,78.1 24.0,77.8 19.7,77.2 17.5,73.6 16.3,70.2 11.5,69.3" fill="#ffd600"/>
<g clip-path="url(#mclip)">
<polygon points="-3.4,49.7 9.4,43.8 26.2,41.4 42.7,39.9 63.2,42.1 74.3,40.8 86.1,37.6 102.2,40.3 101.5,53.9 97.3,56.6 88.1,55.4 79.6,55.5 71.1,55.6 63.7,58.2 56.4,60.9 46.3,59.3 31.8,55.1 16.7,52.8 6.0,53.2" transform="rotate(-20.0 55.7 50.1)" fill="#1ee614" filter="url(#sp27)"/>
<polygon points="1.6,63.7 12.3,62.4 23.0,61.1 38.3,62.1 53.0,65.0 63.2,65.7 70.0,63.4 63.0,73.9 57.1,80.6 52.6,89.8 52.0,95.8 44.5,96.9 35.6,91.4 30.6,82.9 26.6,74.5 15.6,69.5" transform="rotate(-15.0 39.9 74.9)" fill="#1ee614" filter="url(#sp28)"/>
<g transform="rotate(-20.0 58.6 44.5)" filter="url(#sp29)"><polyline points="-0.5,50.1 3.2,49.7 7.1,48.4 11.6,45.7 15.9,43.3 20.9,43.9 27.9,43.8 30.8,43.1 38.6,43.4 41.7,41.9 47.7,42.3 54.4,43.0 61.6,44.7 67.5,45.2 71.5,44.0 74.8,41.8 79.5,40.8 84.9,40.3 91.7,40.9 98.4,41.6 102.0,42.6 114.4,46.7 125.0,49.4 136.0,51.1" fill="none" stroke="#1ee614" stroke-width="6" stroke-linecap="round" stroke-linejoin="round"/></g>
<polygon points="66.7,51.0 73.8,47.7 82.3,46.9 98.5,48.1 100.8,55.0 99.3,60.8 92.0,60.9 84.0,59.8 73.8,59.1 66.5,59.2 59.4,62.5" transform="rotate(-15.0 81.5 55.5)" fill="#1ee614" filter="url(#sp30)"/>
<polygon points="55.1,94.4 59.4,95.3 69.1,92.8 78.8,90.2 88.9,89.5 97.6,83.1 102.8,79.6 106.8,86.8 113.9,90.1 118.8,92.9 112.1,98.8 102.7,102.4 82.9,105.6 67.4,105.6 57.6,100.0" transform="rotate(15.0 87.6 93.8)" fill="#1ee614" filter="url(#sp31)"/>
<polygon points="-6.3,108.2 10.7,106.8 20.7,103.8 25.8,117.2 40.0,115.2 47.4,121.1 64.9,116.8 83.9,109.3 92.4,113.3 96.4,101.1 114.3,91.9 124.7,80.4 114.0,73.1 96.1,82.3 78.2,91.5 63.5,96.3 52.9,98.4 41.3,98.8 31.0,95.9 21.1,95.2 5.2,98.4" transform="rotate(33.0 58.0 100.7)" fill="#1ee614" filter="url(#sp32)"/>
<polygon points="107.9,121.5 134.3,113.1 149.5,113.2 151.3,100.3 130.9,101.5 115.6,102.3 100.5,102.2" transform="rotate(-8.0 127.1 107.7)" fill="#1ee614" filter="url(#sp33)"/>
<polygon points="150.5,89.1 171.1,89.5 192.0,88.8 203.2,85.6 207.5,88.9 200.6,95.3 193.6,110.0 156.3,106.2 147.1,101.7" transform="rotate(-15.0 180.2 95.0)" fill="#1ee614" filter="url(#sp34)"/>
<g transform="rotate(-10.0 102.6 94.5)" filter="url(#sp35)"><polyline points="24.0,56.3 37.2,65.9 48.1,77.1 55.5,87.7 68.8,95.5 86.3,101.4 100.2,106.6 112.4,110.5 125.0,108.1 142.6,106.1 162.8,104.4 179.4,104.5 191.7,104.2" fill="none" stroke="#1ee614" stroke-width="3.0" stroke-linecap="round" stroke-linejoin="round"/></g>
<g transform="rotate(-10.0 223.4 76.9)" filter="url(#sp36)"><polyline points="190.4,83.0 202.0,77.1 220.9,73.9 240.7,74.5 262.8,75.8" fill="none" stroke="#1ee614" stroke-width="2.6" stroke-linecap="round" stroke-linejoin="round"/></g>
<g transform="rotate(30.0 51.4 83.5)" filter="url(#sp37)"><polyline points="30.0,82.9 39.7,81.5 52.1,84.8 62.8,85.0 72.3,83.5" fill="none" stroke="#1ee614" stroke-width="2.2" stroke-linecap="round" stroke-linejoin="round"/></g>
<g transform="rotate(-5.0 114.1 98.1)" filter="url(#sp38)"><polyline points="102.5,95.8 115.0,98.7 124.9,99.9" fill="none" stroke="#1ee614" stroke-width="1.5" stroke-linecap="round" stroke-linejoin="round"/></g>
<g transform="rotate(-12.0 163.4 81.3)" filter="url(#sp39)"><polyline points="149.3,83.1 163.7,80.9 177.1,79.8" fill="none" stroke="#1ee614" stroke-width="1.6" stroke-linecap="round" stroke-linejoin="round"/></g>
<g transform="rotate(-12.0 202.3 69.3)" filter="url(#sp40)"><polyline points="184.6,69.3 194.3,70.2 207.6,69.6 222.7,68.2" fill="none" stroke="#1ee614" stroke-width="1.6" stroke-linecap="round" stroke-linejoin="round"/></g>
<polygon points="70.3,26.3 95.5,22.6 135.7,19.7 145.3,28.2 172.3,28.6 186.1,31.3 195.1,32.8 202.8,38.2 202.5,43.2 179.7,40.0 159.7,39.0 139.8,36.9 119.9,34.9 99.9,33.8 84.8,35.0 71.7,36.4" transform="rotate(-3.0 141.3 32.9)" fill="#1ee614" filter="url(#sp41)"/>
<polygon points="85.3,34.8 100.4,33.5 120.4,34.6 140.3,36.6 160.2,38.7 180.2,39.7 203.0,42.9 204.7,50.0 194.7,48.5 179.9,45.7 159.7,47.7 144.6,49.9 124.7,47.8 109.9,43.0 100.1,39.5" transform="rotate(-3.0 147.2 42.2)" fill="#1ee614" filter="url(#sp42)"/>
<polygon points="127.8,28.1 133.7,22.6 136.1,19.4 147.0,18.9 158.0,17.3 162.5,16.4 173.3,18.8 181.9,20.7 187.2,24.3 190.4,26.7 192.3,31.1 195.6,33.7 184.6,34.1 169.7,31.3 149.7,31.3 134.7,30.5" transform="rotate(-3.0 164.0 25.3)" fill="#1ee614" filter="url(#sp16)"/>
<g transform="rotate(-8.0 230.3 73.4)" filter="url(#sp43)"><polyline points="193.4,74.9 204.7,73.4 214.9,72.9 230.1,72.5 245.2,73.1 258.3,73.4 265.3,73.4" fill="none" stroke="#1ee614" stroke-width="3.4" stroke-linecap="round" stroke-linejoin="round"/></g>
<g transform="rotate(60.0 197.5 35.2)" filter="url(#sp18)"><polyline points="187.5,38.1 194.4,34.1 199.9,32.6 208.2,36.2" fill="none" stroke="#1ee614" stroke-width="3.0" stroke-linecap="round" stroke-linejoin="round"/></g>
<polygon points="133.0,24.4 136.5,15.6 160.6,13.9 178.5,15.8 192.1,23.5 194.7,31.7 185.7,32.2 171.8,29.5 159.7,30.8 144.7,29.6 132.8,28.4" transform="rotate(-3.0 162.7 25.0)" fill="#0c7f0c" filter="url(#sp19)"/>
<polygon points="132.8,25.0 136.3,16.2 160.4,14.4 166.3,15.8 168.0,22.9 164.7,27.2 149.7,27.4 134.7,27.1" transform="rotate(-3.0 151.6 22.0)" fill="#0c7f0c" filter="url(#sp20)"/>
<polygon points="124.5,38.0 131.0,36.1 140.8,37.9 146.2,41.9 144.2,47.6 134.9,48.0 126.4,44.5" transform="rotate(-10.0 135.4 42.0)" fill="#0c7f0c" filter="url(#sp21)"/>
<polygon points="118.5,35.1 128.8,32.0 150.7,33.9 170.3,39.7 179.9,44.5 177.5,48.3 164.5,48.2 144.4,48.4 124.6,45.7" transform="rotate(-5.0 151.0 41.8)" fill="#0c7f0c" filter="url(#sp44)"/>
<polygon points="39.2,64.3 42.6,62.3 47.7,62.2 52.6,63.6 57.2,65.9 57.7,69.0 54.2,71.5 48.2,71.2 42.5,68.9" transform="rotate(-10.0 49.1 66.5)" fill="#0c7f0c" filter="url(#sp22)"/>
<polygon points="-3.4,49.7 9.4,43.8 26.2,41.4 42.7,39.9 63.2,42.1 74.3,40.8 86.1,37.6 102.2,40.3 101.5,53.9 97.3,56.6 88.1,55.4 79.6,55.5 71.1,55.6 63.7,58.2 56.4,60.9 46.3,59.3 31.8,55.1 16.7,52.8 6.0,53.2" transform="rotate(-20.0 55.7 50.1)" fill="#0c7f0c" filter="url(#sp45)"/>
<polygon points="1.6,63.7 12.3,62.4 23.0,61.1 38.3,62.1 53.0,65.0 63.2,65.7 70.0,63.4 63.0,73.9 57.1,80.6 52.6,89.8 52.0,95.8 44.5,96.9 35.6,91.4 30.6,82.9 26.6,74.5 15.6,69.5" transform="rotate(-15.0 39.9 74.9)" fill="#0c7f0c" filter="url(#sp46)"/>
<polygon points="-6.3,108.2 10.7,106.8 20.7,103.8 25.8,117.2 40.0,115.2 47.4,121.1 64.9,116.8 83.9,109.3 92.4,113.3 96.4,101.1 114.3,91.9 124.7,80.4 114.0,73.1 96.1,82.3 78.2,91.5 63.5,96.3 52.9,98.4 41.3,98.8 31.0,95.9 21.1,95.2 5.2,98.4" transform="rotate(33.0 58.0 100.7)" fill="#0c7f0c" filter="url(#sp47)"/>
<g transform="rotate(-5.0 79.8 95.5)" filter="url(#sp48)"><polyline points="21.0,65.3 34.9,73.7 46.8,83.9 55.0,93.8 69.0,100.5 86.9,104.8 101.2,108.7 113.7,111.6 126.1,108.1 143.4,104.6" fill="none" stroke="#0c7f0c" stroke-width="1.4" stroke-linecap="round" stroke-linejoin="round"/></g>
</g>
<polygon points="8.4,67.9 9.5,65.6 12.0,63.0 15.2,61.1 17.5,57.7 24.3,56.0 28.8,54.3 32.2,53.1 39.0,50.9 42.4,47.5 48.1,45.8 53.8,45.2 59.4,44.1 65.0,43.0 67.2,42.1 70.5,39.6 72.9,36.4 77.0,33.9 81.9,31.5 88.5,29.8 95.0,28.2 98.7,27.9 111.8,27.5 122.7,26.4 133.6,24.2 135.8,20.9 146.7,19.8 157.6,17.6 162.0,16.5 172.9,18.3 181.6,19.8 187.1,23.1 190.4,25.3 192.6,29.6 196.2,31.4 200.3,33.8 201.1,37.9 201.1,42.7 203.5,45.9 205.9,47.5 210.7,45.9 216.3,44.3 222.0,41.1 226.8,38.7 233.2,37.5 238.0,38.7 244.4,37.9 245.3,41.1 242.0,45.9 241.2,51.5 246.1,51.5 250.9,49.1 255.7,47.5 260.5,47.2 259.7,50.7 256.5,54.7 254.1,58.7 255.7,63.6 260.5,66.0 265.3,68.4 262.1,70.0 254.1,70.8 244.4,71.6 236.4,72.4 228.4,73.2 222.0,74.8 217.1,77.2 213.1,79.6 207.5,81.2 202.7,82.8 198.0,83.6 196.0,84.5 194.5,88.5 194.2,93.5 192.5,97.5 192.5,101.5 189.1,104.2 181.8,106.4 172.7,107.3 163.6,109.1 158.2,108.2 156.4,105.1 147.3,105.5 136.4,107.3 131.8,110.9 130.9,113.6 126.4,112.7 123.6,115.5 118.2,118.2 110.9,119.1 105.1,117.9 98.6,116.7 92.0,115.6 85.5,115.1 82.2,116.7 83.0,120.0 81.4,123.3 78.1,124.9 75.6,124.1 76.5,121.6 75.6,118.4 72.4,116.7 65.8,115.6 59.3,114.3 52.7,112.6 49.5,110.2 44.5,109.4 41.3,106.9 40.5,102.0 38.0,99.5 33.1,98.7 27.4,97.1 26.5,95.5 29.8,93.8 33.1,92.2 32.2,88.3 31.1,82.6 27.7,78.1 24.0,77.8 19.7,77.2 17.5,73.6 16.3,70.2 11.5,69.3" fill="none" stroke="#5a4a22" stroke-width="0.8" stroke-linejoin="round"/>
</g>
<polygon points="69.4,48.6 75.9,46.5 82.4,44.3 87.9,42.1 92.3,40.5 94.4,39.9 96.6,41.5 98.8,41.0 103.2,41.0 106.4,40.5 108.1,41.5 107.0,43.7 105.3,45.4 106.4,47.5 110.8,48.6 115.2,49.2 118.4,50.3 119.0,51.9 116.3,53.0 111.9,54.1 106.4,55.2 102.1,56.3 97.7,55.7 94.4,54.1 90.1,53.5 84.6,53.5 82.4,53.0 84.1,51.9 90.1,51.4 93.9,49.7 96.6,47.0 97.2,44.8 94.4,43.7 91.2,44.3 86.8,45.9 81.4,47.5 75.9,48.6 71.0,49.7" fill="#0c7f0c"/>
<polygon points="69.4,48.6 75.9,46.5 82.4,44.3 87.9,42.1 92.3,40.5 94.4,39.9 96.6,41.5 98.8,41.0 103.2,41.0 106.4,40.5 108.1,41.5 107.0,43.7 105.3,45.4 106.4,47.5 110.8,48.6 115.2,49.2 118.4,50.3 119.0,51.9 116.3,53.0 111.9,54.1 106.4,55.2 102.1,56.3 97.7,55.7 94.4,54.1 90.1,53.5 84.6,53.5 82.4,53.0 84.1,51.9 90.1,51.4 93.9,49.7 96.6,47.0 97.2,44.8 94.4,43.7 91.2,44.3 86.8,45.9 81.4,47.5 75.9,48.6 71.0,49.7" fill="#1ee614" filter="url(#sp63)"/>
<polygon points="69.4,48.6 75.9,46.5 82.4,44.3 87.9,42.1 92.3,40.5 94.4,39.9 96.6,41.5 98.8,41.0 103.2,41.0 106.4,40.5 108.1,41.5 107.0,43.7 105.3,45.4 106.4,47.5 110.8,48.6 115.2,49.2 118.4,50.3 119.0,51.9 116.3,53.0 111.9,54.1 106.4,55.2 102.1,56.3 97.7,55.7 94.4,54.1 90.1,53.5 84.6,53.5 82.4,53.0 84.1,51.9 90.1,51.4 93.9,49.7 96.6,47.0 97.2,44.8 94.4,43.7 91.2,44.3 86.8,45.9 81.4,47.5 75.9,48.6 71.0,49.7" fill="none" stroke="#101010" stroke-width="1.15" stroke-linejoin="round"/>
<polygon points="92.2,58.7 93.5,60.7 91.8,62.4 87.7,63.6 82.8,64.8 77.9,66.0 73.8,68.1 71.4,70.5 68.9,74.6 67.7,78.7 66.9,82.8 65.6,86.9 63.2,88.1 60.7,86.9 58.3,84.5 56.6,79.5 58.7,77.9 61.1,73.8 63.2,68.9 65.6,66.5 69.7,64.0 74.6,62.4 79.5,60.7 84.5,59.5 89.4,58.4" fill="#0c7f0c"/>
<polygon points="92.2,58.7 93.5,60.7 91.8,62.4 87.7,63.6 82.8,64.8 77.9,66.0 73.8,68.1 71.4,70.5 68.9,74.6 67.7,78.7 66.9,82.8 65.6,86.9 63.2,88.1 60.7,86.9 58.3,84.5 56.6,79.5 58.7,77.9 61.1,73.8 63.2,68.9 65.6,66.5 69.7,64.0 74.6,62.4 79.5,60.7 84.5,59.5 89.4,58.4" fill="#1ee614" filter="url(#sp64)"/>
<polygon points="92.2,58.7 93.5,60.7 91.8,62.4 87.7,63.6 82.8,64.8 77.9,66.0 73.8,68.1 71.4,70.5 68.9,74.6 67.7,78.7 66.9,82.8 65.6,86.9 63.2,88.1 60.7,86.9 58.3,84.5 56.6,79.5 58.7,77.9 61.1,73.8 63.2,68.9 65.6,66.5 69.7,64.0 74.6,62.4 79.5,60.7 84.5,59.5 89.4,58.4" fill="none" stroke="#101010" stroke-width="1.15" stroke-linejoin="round"/>
<polygon points="68.5,93.0 68.7,91.4 72.0,90.3 74.2,88.1 77.4,88.6 79.6,90.3 81.8,92.6 86.2,93.3 90.5,91.4 96.0,88.1 101.4,84.8 104.2,82.9 104.2,85.4 102.0,89.2 99.3,92.4 100.9,93.5 103.1,95.2 100.3,96.8 96.0,97.9 92.7,95.7 91.1,94.6 86.2,95.0 81.8,94.5 78.5,93.8 76.4,95.7 74.2,95.2 72.0,94.1 69.3,95.2" fill="#0c7f0c"/>
<polygon points="68.5,93.0 68.7,91.4 72.0,90.3 74.2,88.1 77.4,88.6 79.6,90.3 81.8,92.6 86.2,93.3 90.5,91.4 96.0,88.1 101.4,84.8 104.2,82.9 104.2,85.4 102.0,89.2 99.3,92.4 100.9,93.5 103.1,95.2 100.3,96.8 96.0,97.9 92.7,95.7 91.1,94.6 86.2,95.0 81.8,94.5 78.5,93.8 76.4,95.7 74.2,95.2 72.0,94.1 69.3,95.2" fill="#1ee614" filter="url(#sp65)"/>
<polygon points="68.5,93.0 68.7,91.4 72.0,90.3 74.2,88.1 77.4,88.6 79.6,90.3 81.8,92.6 86.2,93.3 90.5,91.4 96.0,88.1 101.4,84.8 104.2,82.9 104.2,85.4 102.0,89.2 99.3,92.4 100.9,93.5 103.1,95.2 100.3,96.8 96.0,97.9 92.7,95.7 91.1,94.6 86.2,95.0 81.8,94.5 78.5,93.8 76.4,95.7 74.2,95.2 72.0,94.1 69.3,95.2" fill="none" stroke="#101010" stroke-width="1.15" stroke-linejoin="round"/>
<polygon points="171.4,30.0 174.5,28.4 177.7,28.7 180.9,29.6 184.1,30.3 187.9,30.0 190.5,30.3 191.7,32.2 191.7,34.7 190.5,36.3 187.3,37.0 184.1,37.3 181.5,37.9 179.0,37.0 176.8,35.4 175.2,33.1 173.3,31.2" fill="#0c7f0c"/>
<polygon points="171.4,30.0 174.5,28.4 177.7,28.7 180.9,29.6 184.1,30.3 187.9,30.0 190.5,30.3 191.7,32.2 191.7,34.7 190.5,36.3 187.3,37.0 184.1,37.3 181.5,37.9 179.0,37.0 176.8,35.4 175.2,33.1 173.3,31.2" fill="#1ee614" filter="url(#sp66)"/>
<polygon points="171.4,30.0 174.5,28.4 177.7,28.7 180.9,29.6 184.1,30.3 187.9,30.0 190.5,30.3 191.7,32.2 191.7,34.7 190.5,36.3 187.3,37.0 184.1,37.3 181.5,37.9 179.0,37.0 176.8,35.4 175.2,33.1 173.3,31.2" fill="none" stroke="#101010" stroke-width="1.15" stroke-linejoin="round"/>
</g>
<g transform="translate(2.3,355.0)"><g filter="url(#rough)">
<polygon points="8.4,67.9 9.5,65.6 12.0,63.0 15.2,61.1 17.5,57.7 24.3,56.0 28.8,54.3 32.2,53.1 39.0,50.9 42.4,47.5 48.1,45.8 53.8,45.2 59.4,44.1 65.0,43.0 67.2,42.1 70.5,39.6 72.9,36.4 77.0,33.9 81.9,31.5 88.5,29.8 95.0,28.2 98.7,27.9 111.8,27.5 122.7,26.4 133.6,24.2 135.8,20.9 146.7,19.8 157.6,17.6 162.0,16.5 172.9,18.3 181.6,19.8 187.1,23.1 190.4,25.3 192.6,29.6 196.2,31.4 200.3,33.8 201.1,37.9 201.1,42.7 203.5,45.9 205.9,47.5 210.7,45.9 216.3,44.3 222.0,41.1 226.8,38.7 233.2,37.5 238.0,38.7 244.4,37.9 245.3,41.1 242.0,45.9 241.2,51.5 246.1,51.5 250.9,49.1 255.7,47.5 260.5,47.2 259.7,50.7 256.5,54.7 254.1,58.7 255.7,63.6 260.5,66.0 265.3,68.4 262.1,70.0 254.1,70.8 244.4,71.6 236.4,72.4 228.4,73.2 222.0,74.8 217.1,77.2 213.1,79.6 207.5,81.2 202.7,82.8 198.0,83.6 196.0,84.5 194.5,88.5 194.2,93.5 192.5,97.5 192.5,101.5 189.1,104.2 181.8,106.4 172.7,107.3 163.6,109.1 158.2,108.2 156.4,105.1 147.3,105.5 136.4,107.3 131.8,110.9 130.9,113.6 126.4,112.7 123.6,115.5 118.2,118.2 110.9,119.1 105.1,117.9 98.6,116.7 92.0,115.6 85.5,115.1 82.2,116.7 83.0,120.0 81.4,123.3 78.1,124.9 75.6,124.1 76.5,121.6 75.6,118.4 72.4,116.7 65.8,115.6 59.3,114.3 52.7,112.6 49.5,110.2 44.5,109.4 41.3,106.9 40.5,102.0 38.0,99.5 33.1,98.7 27.4,97.1 26.5,95.5 29.8,93.8 33.1,92.2 32.2,88.3 31.1,82.6 27.7,78.1 24.0,77.8 19.7,77.2 17.5,73.6 16.3,70.2 11.5,69.3" fill="#ffd600"/>
<g clip-path="url(#mclip)">
<polygon points="-3.4,49.7 9.4,43.8 26.2,41.4 42.7,39.9 63.2,42.1 74.3,40.8 86.1,37.6 102.2,40.3 101.5,53.9 97.3,56.6 88.1,55.4 79.6,55.5 71.1,55.6 63.7,58.2 56.4,60.9 46.3,59.3 31.8,55.1 16.7,52.8 6.0,53.2" transform="rotate(-20.0 55.7 50.1)" fill="#1ee614" filter="url(#sp49)"/>
<polygon points="1.6,63.7 12.3,62.4 23.0,61.1 38.3,62.1 53.0,65.0 63.2,65.7 70.0,63.4 63.0,73.9 57.1,80.6 52.6,89.8 52.0,95.8 44.5,96.9 35.6,91.4 30.6,82.9 26.6,74.5 15.6,69.5" transform="rotate(-15.0 39.9 74.9)" fill="#1ee614" filter="url(#sp50)"/>
<g transform="rotate(-20.0 58.6 44.5)" filter="url(#sp29)"><polyline points="-0.5,50.1 3.2,49.7 7.1,48.4 11.6,45.7 15.9,43.3 20.9,43.9 27.9,43.8 30.8,43.1 38.6,43.4 41.7,41.9 47.7,42.3 54.4,43.0 61.6,44.7 67.5,45.2 71.5,44.0 74.8,41.8 79.5,40.8 84.9,40.3 91.7,40.9 98.4,41.6 102.0,42.6 114.4,46.7 125.0,49.4 136.0,51.1" fill="none" stroke="#1ee614" stroke-width="6" stroke-linecap="round" stroke-linejoin="round"/></g>
<polygon points="66.7,51.0 73.8,47.7 82.3,46.9 98.5,48.1 100.8,55.0 99.3,60.8 92.0,60.9 84.0,59.8 73.8,59.1 66.5,59.2 59.4,62.5" transform="rotate(-15.0 81.5 55.5)" fill="#1ee614" filter="url(#sp51)"/>
<polygon points="55.1,94.4 59.4,95.3 69.1,92.8 78.8,90.2 88.9,89.5 97.6,83.1 102.8,79.6 106.8,86.8 113.9,90.1 118.8,92.9 112.1,98.8 102.7,102.4 82.9,105.6 67.4,105.6 57.6,100.0" transform="rotate(15.0 87.6 93.8)" fill="#1ee614" filter="url(#sp52)"/>
<polygon points="-6.3,108.2 10.7,106.8 20.7,103.8 25.8,117.2 40.0,115.2 47.4,121.1 64.9,116.8 83.9,109.3 92.4,113.3 96.4,101.1 114.3,91.9 124.7,80.4 114.0,73.1 96.1,82.3 78.2,91.5 63.5,96.3 52.9,98.4 41.3,98.8 31.0,95.9 21.1,95.2 5.2,98.4" transform="rotate(33.0 58.0 100.7)" fill="#1ee614" filter="url(#sp53)"/>
<polygon points="107.9,121.5 134.3,113.1 149.5,113.2 151.3,100.3 130.9,101.5 115.6,102.3 100.5,102.2" transform="rotate(-8.0 127.1 107.7)" fill="#1ee614" filter="url(#sp54)"/>
<polygon points="150.5,89.1 171.1,89.5 192.0,88.8 203.2,85.6 207.5,88.9 200.6,95.3 193.6,110.0 156.3,106.2 147.1,101.7" transform="rotate(-15.0 180.2 95.0)" fill="#1ee614" filter="url(#sp55)"/>
<g transform="rotate(-10.0 102.6 94.5)" filter="url(#sp35)"><polyline points="24.0,56.3 37.2,65.9 48.1,77.1 55.5,87.7 68.8,95.5 86.3,101.4 100.2,106.6 112.4,110.5 125.0,108.1 142.6,106.1 162.8,104.4 179.4,104.5 191.7,104.2" fill="none" stroke="#1ee614" stroke-width="3.0" stroke-linecap="round" stroke-linejoin="round"/></g>
<g transform="rotate(-10.0 223.4 76.9)" filter="url(#sp36)"><polyline points="190.4,83.0 202.0,77.1 220.9,73.9 240.7,74.5 262.8,75.8" fill="none" stroke="#1ee614" stroke-width="2.6" stroke-linecap="round" stroke-linejoin="round"/></g>
<g transform="rotate(30.0 51.4 83.5)" filter="url(#sp37)"><polyline points="30.0,82.9 39.7,81.5 52.1,84.8 62.8,85.0 72.3,83.5" fill="none" stroke="#1ee614" stroke-width="2.2" stroke-linecap="round" stroke-linejoin="round"/></g>
<g transform="rotate(-5.0 114.1 98.1)" filter="url(#sp38)"><polyline points="102.5,95.8 115.0,98.7 124.9,99.9" fill="none" stroke="#1ee614" stroke-width="1.5" stroke-linecap="round" stroke-linejoin="round"/></g>
<g transform="rotate(-12.0 163.4 81.3)" filter="url(#sp39)"><polyline points="149.3,83.1 163.7,80.9 177.1,79.8" fill="none" stroke="#1ee614" stroke-width="1.6" stroke-linecap="round" stroke-linejoin="round"/></g>
<g transform="rotate(-12.0 202.3 69.3)" filter="url(#sp40)"><polyline points="184.6,69.3 194.3,70.2 207.6,69.6 222.7,68.2" fill="none" stroke="#1ee614" stroke-width="1.6" stroke-linecap="round" stroke-linejoin="round"/></g>
<polygon points="70.3,26.3 95.5,22.6 135.7,19.7 145.3,28.2 172.3,28.6 186.1,31.3 195.1,32.8 202.8,38.2 202.5,43.2 179.7,40.0 159.7,39.0 139.8,36.9 119.9,34.9 99.9,33.8 84.8,35.0 71.7,36.4" transform="rotate(-3.0 141.3 32.9)" fill="#1ee614" filter="url(#sp56)"/>
<polygon points="85.3,34.8 100.4,33.5 120.4,34.6 140.3,36.6 160.2,38.7 180.2,39.7 203.0,42.9 204.7,50.0 194.7,48.5 179.9,45.7 159.7,47.7 144.6,49.9 124.7,47.8 109.9,43.0 100.1,39.5" transform="rotate(-3.0 147.2 42.2)" fill="#1ee614" filter="url(#sp57)"/>
<polygon points="127.8,28.1 133.7,22.6 136.1,19.4 147.0,18.9 158.0,17.3 162.5,16.4 173.3,18.8 181.9,20.7 187.2,24.3 190.4,26.7 192.3,31.1 195.6,33.7 184.6,34.1 169.7,31.3 149.7,31.3 134.7,30.5" transform="rotate(-3.0 164.0 25.3)" fill="#1ee614" filter="url(#sp16)"/>
<g transform="rotate(-8.0 230.3 73.4)" filter="url(#sp58)"><polyline points="193.4,74.9 204.7,73.4 214.9,72.9 230.1,72.5 245.2,73.1 258.3,73.4 265.3,73.4" fill="none" stroke="#1ee614" stroke-width="3.4" stroke-linecap="round" stroke-linejoin="round"/></g>
<g transform="rotate(60.0 197.5 35.2)" filter="url(#sp18)"><polyline points="187.5,38.1 194.4,34.1 199.9,32.6 208.2,36.2" fill="none" stroke="#1ee614" stroke-width="3.0" stroke-linecap="round" stroke-linejoin="round"/></g>
<polygon points="133.0,24.4 136.5,15.6 160.6,13.9 178.5,15.8 192.1,23.5 194.7,31.7 185.7,32.2 171.8,29.5 159.7,30.8 144.7,29.6 132.8,28.4" transform="rotate(-3.0 162.7 25.0)" fill="#0c7f0c" filter="url(#sp19)"/>
<polygon points="132.8,25.0 136.3,16.2 160.4,14.4 166.3,15.8 168.0,22.9 164.7,27.2 149.7,27.4 134.7,27.1" transform="rotate(-3.0 151.6 22.0)" fill="#0c7f0c" filter="url(#sp20)"/>
<polygon points="124.5,38.0 131.0,36.1 140.8,37.9 146.2,41.9 144.2,47.6 134.9,48.0 126.4,44.5" transform="rotate(-10.0 135.4 42.0)" fill="#0c7f0c" filter="url(#sp21)"/>
<polygon points="118.5,35.1 128.8,32.0 150.7,33.9 170.3,39.7 179.9,44.5 177.5,48.3 164.5,48.2 144.4,48.4 124.6,45.7" transform="rotate(-5.0 151.0 41.8)" fill="#0c7f0c" filter="url(#sp59)"/>
<polygon points="39.2,64.3 42.6,62.3 47.7,62.2 52.6,63.6 57.2,65.9 57.7,69.0 54.2,71.5 48.2,71.2 42.5,68.9" transform="rotate(-10.0 49.1 66.5)" fill="#0c7f0c" filter="url(#sp22)"/>
<polygon points="-3.4,49.7 9.4,43.8 26.2,41.4 42.7,39.9 63.2,42.1 74.3,40.8 86.1,37.6 102.2,40.3 101.5,53.9 97.3,56.6 88.1,55.4 79.6,55.5 71.1,55.6 63.7,58.2 56.4,60.9 46.3,59.3 31.8,55.1 16.7,52.8 6.0,53.2" transform="rotate(-20.0 55.7 50.1)" fill="#0c7f0c" filter="url(#sp45)"/>
<polygon points="1.6,63.7 12.3,62.4 23.0,61.1 38.3,62.1 53.0,65.0 63.2,65.7 70.0,63.4 63.0,73.9 57.1,80.6 52.6,89.8 52.0,95.8 44.5,96.9 35.6,91.4 30.6,82.9 26.6,74.5 15.6,69.5" transform="rotate(-15.0 39.9 74.9)" fill="#0c7f0c" filter="url(#sp46)"/>
<polygon points="-6.3,108.2 10.7,106.8 20.7,103.8 25.8,117.2 40.0,115.2 47.4,121.1 64.9,116.8 83.9,109.3 92.4,113.3 96.4,101.1 114.3,91.9 124.7,80.4 114.0,73.1 96.1,82.3 78.2,91.5 63.5,96.3 52.9,98.4 41.3,98.8 31.0,95.9 21.1,95.2 5.2,98.4" transform="rotate(33.0 58.0 100.7)" fill="#0c7f0c" filter="url(#sp47)"/>
<g transform="rotate(-5.0 79.8 95.5)" filter="url(#sp48)"><polyline points="21.0,65.3 34.9,73.7 46.8,83.9 55.0,93.8 69.0,100.5 86.9,104.8 101.2,108.7 113.7,111.6 126.1,108.1 143.4,104.6" fill="none" stroke="#0c7f0c" stroke-width="1.4" stroke-linecap="round" stroke-linejoin="round"/></g>
</g>
<polygon points="8.4,67.9 9.5,65.6 12.0,63.0 15.2,61.1 17.5,57.7 24.3,56.0 28.8,54.3 32.2,53.1 39.0,50.9 42.4,47.5 48.1,45.8 53.8,45.2 59.4,44.1 65.0,43.0 67.2,42.1 70.5,39.6 72.9,36.4 77.0,33.9 81.9,31.5 88.5,29.8 95.0,28.2 98.7,27.9 111.8,27.5 122.7,26.4 133.6,24.2 135.8,20.9 146.7,19.8 157.6,17.6 162.0,16.5 172.9,18.3 181.6,19.8 187.1,23.1 190.4,25.3 192.6,29.6 196.2,31.4 200.3,33.8 201.1,37.9 201.1,42.7 203.5,45.9 205.9,47.5 210.7,45.9 216.3,44.3 222.0,41.1 226.8,38.7 233.2,37.5 238.0,38.7 244.4,37.9 245.3,41.1 242.0,45.9 241.2,51.5 246.1,51.5 250.9,49.1 255.7,47.5 260.5,47.2 259.7,50.7 256.5,54.7 254.1,58.7 255.7,63.6 260.5,66.0 265.3,68.4 262.1,70.0 254.1,70.8 244.4,71.6 236.4,72.4 228.4,73.2 222.0,74.8 217.1,77.2 213.1,79.6 207.5,81.2 202.7,82.8 198.0,83.6 196.0,84.5 194.5,88.5 194.2,93.5 192.5,97.5 192.5,101.5 189.1,104.2 181.8,106.4 172.7,107.3 163.6,109.1 158.2,108.2 156.4,105.1 147.3,105.5 136.4,107.3 131.8,110.9 130.9,113.6 126.4,112.7 123.6,115.5 118.2,118.2 110.9,119.1 105.1,117.9 98.6,116.7 92.0,115.6 85.5,115.1 82.2,116.7 83.0,120.0 81.4,123.3 78.1,124.9 75.6,124.1 76.5,121.6 75.6,118.4 72.4,116.7 65.8,115.6 59.3,114.3 52.7,112.6 49.5,110.2 44.5,109.4 41.3,106.9 40.5,102.0 38.0,99.5 33.1,98.7 27.4,97.1 26.5,95.5 29.8,93.8 33.1,92.2 32.2,88.3 31.1,82.6 27.7,78.1 24.0,77.8 19.7,77.2 17.5,73.6 16.3,70.2 11.5,69.3" fill="none" stroke="#5a4a22" stroke-width="0.8" stroke-linejoin="round"/>
</g>
<polygon points="69.4,48.6 75.9,46.5 82.4,44.3 87.9,42.1 92.3,40.5 94.4,39.9 96.6,41.5 98.8,41.0 103.2,41.0 106.4,40.5 108.1,41.5 107.0,43.7 105.3,45.4 106.4,47.5 110.8,48.6 115.2,49.2 118.4,50.3 119.0,51.9 116.3,53.0 111.9,54.1 106.4,55.2 102.1,56.3 97.7,55.7 94.4,54.1 90.1,53.5 84.6,53.5 82.4,53.0 84.1,51.9 90.1,51.4 93.9,49.7 96.6,47.0 97.2,44.8 94.4,43.7 91.2,44.3 86.8,45.9 81.4,47.5 75.9,48.6 71.0,49.7" fill="#0c7f0c"/>
<polygon points="69.4,48.6 75.9,46.5 82.4,44.3 87.9,42.1 92.3,40.5 94.4,39.9 96.6,41.5 98.8,41.0 103.2,41.0 106.4,40.5 108.1,41.5 107.0,43.7 105.3,45.4 106.4,47.5 110.8,48.6 115.2,49.2 118.4,50.3 119.0,51.9 116.3,53.0 111.9,54.1 106.4,55.2 102.1,56.3 97.7,55.7 94.4,54.1 90.1,53.5 84.6,53.5 82.4,53.0 84.1,51.9 90.1,51.4 93.9,49.7 96.6,47.0 97.2,44.8 94.4,43.7 91.2,44.3 86.8,45.9 81.4,47.5 75.9,48.6 71.0,49.7" fill="#1ee614" filter="url(#sp63)"/>
<polygon points="69.4,48.6 75.9,46.5 82.4,44.3 87.9,42.1 92.3,40.5 94.4,39.9 96.6,41.5 98.8,41.0 103.2,41.0 106.4,40.5 108.1,41.5 107.0,43.7 105.3,45.4 106.4,47.5 110.8,48.6 115.2,49.2 118.4,50.3 119.0,51.9 116.3,53.0 111.9,54.1 106.4,55.2 102.1,56.3 97.7,55.7 94.4,54.1 90.1,53.5 84.6,53.5 82.4,53.0 84.1,51.9 90.1,51.4 93.9,49.7 96.6,47.0 97.2,44.8 94.4,43.7 91.2,44.3 86.8,45.9 81.4,47.5 75.9,48.6 71.0,49.7" fill="none" stroke="#101010" stroke-width="1.15" stroke-linejoin="round"/>
<polygon points="92.2,58.7 93.5,60.7 91.8,62.4 87.7,63.6 82.8,64.8 77.9,66.0 73.8,68.1 71.4,70.5 68.9,74.6 67.7,78.7 66.9,82.8 65.6,86.9 63.2,88.1 60.7,86.9 58.3,84.5 56.6,79.5 58.7,77.9 61.1,73.8 63.2,68.9 65.6,66.5 69.7,64.0 74.6,62.4 79.5,60.7 84.5,59.5 89.4,58.4" fill="#0c7f0c"/>
<polygon points="92.2,58.7 93.5,60.7 91.8,62.4 87.7,63.6 82.8,64.8 77.9,66.0 73.8,68.1 71.4,70.5 68.9,74.6 67.7,78.7 66.9,82.8 65.6,86.9 63.2,88.1 60.7,86.9 58.3,84.5 56.6,79.5 58.7,77.9 61.1,73.8 63.2,68.9 65.6,66.5 69.7,64.0 74.6,62.4 79.5,60.7 84.5,59.5 89.4,58.4" fill="#1ee614" filter="url(#sp64)"/>
<polygon points="92.2,58.7 93.5,60.7 91.8,62.4 87.7,63.6 82.8,64.8 77.9,66.0 73.8,68.1 71.4,70.5 68.9,74.6 67.7,78.7 66.9,82.8 65.6,86.9 63.2,88.1 60.7,86.9 58.3,84.5 56.6,79.5 58.7,77.9 61.1,73.8 63.2,68.9 65.6,66.5 69.7,64.0 74.6,62.4 79.5,60.7 84.5,59.5 89.4,58.4" fill="none" stroke="#101010" stroke-width="1.15" stroke-linejoin="round"/>
<polygon points="68.5,93.0 68.7,91.4 72.0,90.3 74.2,88.1 77.4,88.6 79.6,90.3 81.8,92.6 86.2,93.3 90.5,91.4 96.0,88.1 101.4,84.8 104.2,82.9 104.2,85.4 102.0,89.2 99.3,92.4 100.9,93.5 103.1,95.2 100.3,96.8 96.0,97.9 92.7,95.7 91.1,94.6 86.2,95.0 81.8,94.5 78.5,93.8 76.4,95.7 74.2,95.2 72.0,94.1 69.3,95.2" fill="#0c7f0c"/>
<polygon points="68.5,93.0 68.7,91.4 72.0,90.3 74.2,88.1 77.4,88.6 79.6,90.3 81.8,92.6 86.2,93.3 90.5,91.4 96.0,88.1 101.4,84.8 104.2,82.9 104.2,85.4 102.0,89.2 99.3,92.4 100.9,93.5 103.1,95.2 100.3,96.8 96.0,97.9 92.7,95.7 91.1,94.6 86.2,95.0 81.8,94.5 78.5,93.8 76.4,95.7 74.2,95.2 72.0,94.1 69.3,95.2" fill="#1ee614" filter="url(#sp65)"/>
<polygon points="68.5,93.0 68.7,91.4 72.0,90.3 74.2,88.1 77.4,88.6 79.6,90.3 81.8,92.6 86.2,93.3 90.5,91.4 96.0,88.1 101.4,84.8 104.2,82.9 104.2,85.4 102.0,89.2 99.3,92.4 100.9,93.5 103.1,95.2 100.3,96.8 96.0,97.9 92.7,95.7 91.1,94.6 86.2,95.0 81.8,94.5 78.5,93.8 76.4,95.7 74.2,95.2 72.0,94.1 69.3,95.2" fill="none" stroke="#101010" stroke-width="1.15" stroke-linejoin="round"/>
<polygon points="171.4,30.0 174.5,28.4 177.7,28.7 180.9,29.6 184.1,30.3 187.9,30.0 190.5,30.3 191.7,32.2 191.7,34.7 190.5,36.3 187.3,37.0 184.1,37.3 181.5,37.9 179.0,37.0 176.8,35.4 175.2,33.1 173.3,31.2" fill="#0c7f0c"/>
<polygon points="171.4,30.0 174.5,28.4 177.7,28.7 180.9,29.6 184.1,30.3 187.9,30.0 190.5,30.3 191.7,32.2 191.7,34.7 190.5,36.3 187.3,37.0 184.1,37.3 181.5,37.9 179.0,37.0 176.8,35.4 175.2,33.1 173.3,31.2" fill="#1ee614" filter="url(#sp66)"/>
<polygon points="171.4,30.0 174.5,28.4 177.7,28.7 180.9,29.6 184.1,30.3 187.9,30.0 190.5,30.3 191.7,32.2 191.7,34.7 190.5,36.3 187.3,37.0 184.1,37.3 181.5,37.9 179.0,37.0 176.8,35.4 175.2,33.1 173.3,31.2" fill="none" stroke="#101010" stroke-width="1.15" stroke-linejoin="round"/>
</g>
<text x="5.4" y="22.0" font-size="13" text-anchor="start" font-weight="normal" fill="#000" font-family="'Liberation Serif', 'Times New Roman', serif" >(a)</text>
<text x="256.7" y="13.9" font-size="8.6" text-anchor="middle" font-weight="normal" fill="#000" font-family="'Liberation Sans', Arial, sans-serif" >N</text>
<polygon points="256.4,16.4 250.0,37.6 256.4,31.0" fill="#111"/>
<polygon points="256.4,16.4 256.4,31.0 262.7,38.3" fill="none" stroke="#111" stroke-width="0.8" stroke-linejoin="miter"/>
<text x="209.1" y="93.3" font-size="11" text-anchor="start" font-weight="bold" fill="#000" font-family="'Liberation Serif', 'Times New Roman', serif" textLength="43" lengthAdjust="spacingAndGlyphs" >FVC (%)</text>
<rect x="208.6" y="101.6" width="22" height="10.8" fill="#e0553a" stroke="#7a7a7a" stroke-width="0.9"/>
<text x="234.9" y="110.19999999999999" font-size="9.6" text-anchor="start" font-weight="normal" fill="#000" font-family="'Liberation Serif', 'Times New Roman', serif" >0 – 5</text>
<rect x="208.6" y="116.9" width="22" height="10.8" fill="#ffd200" stroke="#7a7a7a" stroke-width="0.9"/>
<text x="234.9" y="125.49999999999999" font-size="9.6" text-anchor="start" font-weight="normal" fill="#000" font-family="'Liberation Serif', 'Times New Roman', serif" >5.0 – 25</text>
<rect x="208.6" y="132.2" width="22" height="10.8" fill="#22e81e" stroke="#7a7a7a" stroke-width="0.9"/>
<text x="234.9" y="140.79999999999998" font-size="9.6" text-anchor="start" font-weight="normal" fill="#000" font-family="'Liberation Serif', 'Times New Roman', serif" >25 – 50</text>
<rect x="208.6" y="147.5" width="22" height="10.8" fill="#137513" stroke="#7a7a7a" stroke-width="0.9"/>
<text x="234.9" y="156.1" font-size="9.6" text-anchor="start" font-weight="normal" fill="#000" font-family="'Liberation Serif', 'Times New Roman', serif" >50 – 100</text>
<text x="15.7" y="147.2" font-size="10" text-anchor="middle" font-weight="normal" fill="#000" font-family="'Liberation Serif', 'Times New Roman', serif" >0</text>
<text x="44.6" y="147.2" font-size="10" text-anchor="middle" font-weight="normal" fill="#000" font-family="'Liberation Serif', 'Times New Roman', serif" >250</text>
<text x="73.2" y="147.2" font-size="10" text-anchor="middle" font-weight="normal" fill="#000" font-family="'Liberation Serif', 'Times New Roman', serif" >500</text>
<rect x="16.1" y="152.1" width="57.3" height="4.9" fill="#111"/>
<text x="76.0" y="157.2" font-size="11" text-anchor="start" font-weight="normal" fill="#000" font-family="'Liberation Serif', 'Times New Roman', serif" >km</text>
<rect x="112.3" y="147.0" width="25.4" height="12.0" fill="#fff" stroke="#222" stroke-width="1.1"/>
<text x="143.0" y="156.6" font-size="11" text-anchor="start" font-weight="normal" fill="#000" font-family="'Liberation Serif', 'Times New Roman', serif" textLength="55.3" lengthAdjust="spacingAndGlyphs" >Oasis region</text>
<text x="281.6" y="19.9" font-size="13" text-anchor="start" font-weight="normal" fill="#000" font-family="'Liberation Serif', 'Times New Roman', serif" >(d)</text>
<text x="533.9" y="13.9" font-size="8.6" text-anchor="middle" font-weight="normal" fill="#000" font-family="'Liberation Sans', Arial, sans-serif" >N</text>
<polygon points="533.5999999999999,16.4 527.2,37.6 533.5999999999999,31.0" fill="#111"/>
<polygon points="533.5999999999999,16.4 533.5999999999999,31.0 539.9,38.3" fill="none" stroke="#111" stroke-width="0.8" stroke-linejoin="miter"/>
<text x="484.9" y="93.3" font-size="11" text-anchor="start" font-weight="bold" fill="#000" font-family="'Liberation Serif', 'Times New Roman', serif" textLength="43" lengthAdjust="spacingAndGlyphs" >FVC (%)</text>
<rect x="484.4" y="101.6" width="22" height="10.8" fill="#e0553a" stroke="#7a7a7a" stroke-width="0.9"/>
<text x="510.70000000000005" y="110.19999999999999" font-size="9.6" text-anchor="start" font-weight="normal" fill="#000" font-family="'Liberation Serif', 'Times New Roman', serif" >0 – 5</text>
<rect x="484.4" y="116.9" width="22" height="10.8" fill="#ffd200" stroke="#7a7a7a" stroke-width="0.9"/>
<text x="510.70000000000005" y="125.49999999999999" font-size="9.6" text-anchor="start" font-weight="normal" fill="#000" font-family="'Liberation Serif', 'Times New Roman', serif" >5.0 – 25</text>
<rect x="484.4" y="132.2" width="22" height="10.8" fill="#22e81e" stroke="#7a7a7a" stroke-width="0.9"/>
<text x="510.70000000000005" y="140.79999999999998" font-size="9.6" text-anchor="start" font-weight="normal" fill="#000" font-family="'Liberation Serif', 'Times New Roman', serif" >25 – 50</text>
<rect x="484.4" y="147.5" width="22" height="10.8" fill="#137513" stroke="#7a7a7a" stroke-width="0.9"/>
<text x="510.70000000000005" y="156.1" font-size="9.6" text-anchor="start" font-weight="normal" fill="#000" font-family="'Liberation Serif', 'Times New Roman', serif" >50 – 100</text>
<text x="294.0" y="147.2" font-size="10" text-anchor="middle" font-weight="normal" fill="#000" font-family="'Liberation Serif', 'Times New Roman', serif" >0</text>
<text x="322.90000000000003" y="147.2" font-size="10" text-anchor="middle" font-weight="normal" fill="#000" font-family="'Liberation Serif', 'Times New Roman', serif" >250</text>
<text x="351.5" y="147.2" font-size="10" text-anchor="middle" font-weight="normal" fill="#000" font-family="'Liberation Serif', 'Times New Roman', serif" >500</text>
<rect x="294.40000000000003" y="152.1" width="57.3" height="4.9" fill="#111"/>
<text x="354.3" y="157.2" font-size="11" text-anchor="start" font-weight="normal" fill="#000" font-family="'Liberation Serif', 'Times New Roman', serif" >km</text>
<rect x="388.2" y="147.0" width="25.4" height="12.0" fill="#fff" stroke="#222" stroke-width="1.1"/>
<text x="418.9" y="156.6" font-size="11" text-anchor="start" font-weight="normal" fill="#000" font-family="'Liberation Serif', 'Times New Roman', serif" textLength="55.3" lengthAdjust="spacingAndGlyphs" >Oasis region</text>
<text x="5.6" y="189.5" font-size="13" text-anchor="start" font-weight="normal" fill="#000" font-family="'Liberation Serif', 'Times New Roman', serif" >(b)</text>
<text x="256.3" y="183.8" font-size="8.6" text-anchor="middle" font-weight="normal" fill="#000" font-family="'Liberation Sans', Arial, sans-serif" >N</text>
<polygon points="255.99999999999997,186.3 249.6,207.5 255.99999999999997,200.9" fill="#111"/>
<polygon points="255.99999999999997,186.3 255.99999999999997,200.9 262.3,208.2" fill="none" stroke="#111" stroke-width="0.8" stroke-linejoin="miter"/>
<text x="205.9" y="269.2" font-size="11" text-anchor="start" font-weight="bold" fill="#000" font-family="'Liberation Serif', 'Times New Roman', serif" textLength="43" lengthAdjust="spacingAndGlyphs" >FVC (%)</text>
<rect x="205.4" y="277.5" width="22" height="10.8" fill="#e0553a" stroke="#7a7a7a" stroke-width="0.9"/>
<text x="231.70000000000002" y="286.1" font-size="9.6" text-anchor="start" font-weight="normal" fill="#000" font-family="'Liberation Serif', 'Times New Roman', serif" >0 – 5</text>
<rect x="205.4" y="292.8" width="22" height="10.8" fill="#ffd200" stroke="#7a7a7a" stroke-width="0.9"/>
<text x="231.70000000000002" y="301.40000000000003" font-size="9.6" text-anchor="start" font-weight="normal" fill="#000" font-family="'Liberation Serif', 'Times New Roman', serif" >5.0 – 25</text>
<rect x="205.4" y="308.1" width="22" height="10.8" fill="#22e81e" stroke="#7a7a7a" stroke-width="0.9"/>
<text x="231.70000000000002" y="316.70000000000005" font-size="9.6" text-anchor="start" font-weight="normal" fill="#000" font-family="'Liberation Serif', 'Times New Roman', serif" >25 – 50</text>
<rect x="205.4" y="323.4" width="22" height="10.8" fill="#137513" stroke="#7a7a7a" stroke-width="0.9"/>
<text x="231.70000000000002" y="332.0" font-size="9.6" text-anchor="start" font-weight="normal" fill="#000" font-family="'Liberation Serif', 'Times New Roman', serif" >50 – 100</text>
<text x="14.899999999999999" y="322.5" font-size="10" text-anchor="middle" font-weight="normal" fill="#000" font-family="'Liberation Serif', 'Times New Roman', serif" >0</text>
<text x="43.800000000000004" y="322.5" font-size="10" text-anchor="middle" font-weight="normal" fill="#000" font-family="'Liberation Serif', 'Times New Roman', serif" >250</text>
<text x="72.4" y="322.5" font-size="10" text-anchor="middle" font-weight="normal" fill="#000" font-family="'Liberation Serif', 'Times New Roman', serif" >500</text>
<rect x="15.3" y="327.4" width="57.3" height="4.9" fill="#111"/>
<text x="75.2" y="332.5" font-size="11" text-anchor="start" font-weight="normal" fill="#000" font-family="'Liberation Serif', 'Times New Roman', serif" >km</text>
<rect x="109.0" y="322.8" width="25.4" height="12.0" fill="#fff" stroke="#222" stroke-width="1.1"/>
<text x="139.7" y="332.4" font-size="11" text-anchor="start" font-weight="normal" fill="#000" font-family="'Liberation Serif', 'Times New Roman', serif" textLength="55.3" lengthAdjust="spacingAndGlyphs" >Oasis region</text>
<text x="5.3" y="365.3" font-size="13" text-anchor="start" font-weight="normal" fill="#000" font-family="'Liberation Serif', 'Times New Roman', serif" >(c)</text>
<text x="256.2" y="359.5" font-size="8.6" text-anchor="middle" font-weight="normal" fill="#000" font-family="'Liberation Sans', Arial, sans-serif" >N</text>
<polygon points="255.89999999999998,362.0 249.5,383.20000000000005 255.89999999999998,376.6" fill="#111"/>
<polygon points="255.89999999999998,362.0 255.89999999999998,376.6 262.2,383.90000000000003" fill="none" stroke="#111" stroke-width="0.8" stroke-linejoin="miter"/>
<text x="207.0" y="454.5" font-size="11" text-anchor="start" font-weight="bold" fill="#000" font-family="'Liberation Serif', 'Times New Roman', serif" textLength="43" lengthAdjust="spacingAndGlyphs" >FVC (%)</text>
<rect x="206.5" y="462.8" width="22" height="10.8" fill="#e0553a" stroke="#7a7a7a" stroke-width="0.9"/>
<text x="232.8" y="471.4" font-size="9.6" text-anchor="start" font-weight="normal" fill="#000" font-family="'Liberation Serif', 'Times New Roman', serif" >0 – 5</text>
<rect x="206.5" y="478.1" width="22" height="10.8" fill="#ffd200" stroke="#7a7a7a" stroke-width="0.9"/>
<text x="232.8" y="486.7" font-size="9.6" text-anchor="start" font-weight="normal" fill="#000" font-family="'Liberation Serif', 'Times New Roman', serif" >5.0 – 25</text>
<rect x="206.5" y="493.4" width="22" height="10.8" fill="#22e81e" stroke="#7a7a7a" stroke-width="0.9"/>
<text x="232.8" y="502.0" font-size="9.6" text-anchor="start" font-weight="normal" fill="#000" font-family="'Liberation Serif', 'Times New Roman', serif" >25 – 50</text>
<rect x="206.5" y="508.7" width="22" height="10.8" fill="#137513" stroke="#7a7a7a" stroke-width="0.9"/>
<text x="232.8" y="517.3" font-size="9.6" text-anchor="start" font-weight="normal" fill="#000" font-family="'Liberation Serif', 'Times New Roman', serif" >50 – 100</text>
<text x="14.899999999999999" y="509.7" font-size="10" text-anchor="middle" font-weight="normal" fill="#000" font-family="'Liberation Serif', 'Times New Roman', serif" >0</text>
<text x="43.800000000000004" y="509.7" font-size="10" text-anchor="middle" font-weight="normal" fill="#000" font-family="'Liberation Serif', 'Times New Roman', serif" >250</text>
<text x="72.4" y="509.7" font-size="10" text-anchor="middle" font-weight="normal" fill="#000" font-family="'Liberation Serif', 'Times New Roman', serif" >500</text>
<rect x="15.3" y="514.6" width="57.3" height="4.9" fill="#111"/>
<text x="75.2" y="519.7" font-size="11" text-anchor="start" font-weight="normal" fill="#000" font-family="'Liberation Serif', 'Times New Roman', serif" >km</text>
<rect x="109.5" y="508.6" width="25.4" height="12.0" fill="#fff" stroke="#222" stroke-width="1.1"/>
<text x="140.2" y="518.2" font-size="11" text-anchor="start" font-weight="normal" fill="#000" font-family="'Liberation Serif', 'Times New Roman', serif" textLength="55.3" lengthAdjust="spacingAndGlyphs" >Oasis region</text>
<defs><filter id="sp0" filterUnits="userSpaceOnUse" x="-120" y="-120" width="520" height="380" color-interpolation-filters="sRGB">
<feTurbulence type="fractalNoise" baseFrequency="0.15 0.38" numOctaves="3" seed="3" result="n"/>
<feColorMatrix in="n" type="matrix" values="0 0 0 0 0  0 0 0 0 0  0 0 0 0 0  1 0 0 0 0" result="na"/>
<feComponentTransfer in="na" result="m"><feFuncA type="linear" slope="30" intercept="-16.115"/></feComponentTransfer>
<feComposite in="SourceGraphic" in2="m" operator="in"/><feGaussianBlur stdDeviation="0.3"/></filter>
<filter id="sp1" filterUnits="userSpaceOnUse" x="-120" y="-120" width="520" height="380" color-interpolation-filters="sRGB">
<feTurbulence type="fractalNoise" baseFrequency="0.15 0.38" numOctaves="3" seed="4" result="n"/>
<feColorMatrix in="n" type="matrix" values="0 0 0 0 0  0 0 0 0 0  0 0 0 0 0  1 0 0 0 0" result="na"/>
<feComponentTransfer in="na" result="m"><feFuncA type="linear" slope="30" intercept="-17.269"/></feComponentTransfer>
<feComposite in="SourceGraphic" in2="m" operator="in"/><feGaussianBlur stdDeviation="0.3"/></filter>
<filter id="sp2" filterUnits="userSpaceOnUse" x="-120" y="-120" width="520" height="380" color-interpolation-filters="sRGB">
<feTurbulence type="fractalNoise" baseFrequency="0.15 0.38" numOctaves="3" seed="31" result="n"/>
<feColorMatrix in="n" type="matrix" values="0 0 0 0 0  0 0 0 0 0  0 0 0 0 0  1 0 0 0 0" result="na"/>
<feComponentTransfer in="na" result="m"><feFuncA type="linear" slope="30" intercept="-8.500"/></feComponentTransfer>
<feComposite in="SourceGraphic" in2="m" operator="in"/><feGaussianBlur stdDeviation="0.3"/></filter>
<filter id="sp3" filterUnits="userSpaceOnUse" x="-120" y="-120" width="520" height="380" color-interpolation-filters="sRGB">
<feTurbulence type="fractalNoise" baseFrequency="0.15 0.38" numOctaves="3" seed="5" result="n"/>
<feColorMatrix in="n" type="matrix" values="0 0 0 0 0  0 0 0 0 0  0 0 0 0 0  1 0 0 0 0" result="na"/>
<feComponentTransfer in="na" result="m"><feFuncA type="linear" slope="30" intercept="-16.923"/></feComponentTransfer>
<feComposite in="SourceGraphic" in2="m" operator="in"/><feGaussianBlur stdDeviation="0.3"/></filter>
<filter id="sp4" filterUnits="userSpaceOnUse" x="-120" y="-120" width="520" height="380" color-interpolation-filters="sRGB">
<feTurbulence type="fractalNoise" baseFrequency="0.15 0.38" numOctaves="3" seed="7" result="n"/>
<feColorMatrix in="n" type="matrix" values="0 0 0 0 0  0 0 0 0 0  0 0 0 0 0  1 0 0 0 0" result="na"/>
<feComponentTransfer in="na" result="m"><feFuncA type="linear" slope="30" intercept="-16.346"/></feComponentTransfer>
<feComposite in="SourceGraphic" in2="m" operator="in"/><feGaussianBlur stdDeviation="0.3"/></filter>
<filter id="sp5" filterUnits="userSpaceOnUse" x="-120" y="-120" width="520" height="380" color-interpolation-filters="sRGB">
<feTurbulence type="fractalNoise" baseFrequency="0.15 0.38" numOctaves="3" seed="6" result="n"/>
<feColorMatrix in="n" type="matrix" values="0 0 0 0 0  0 0 0 0 0  0 0 0 0 0  1 0 0 0 0" result="na"/>
<feComponentTransfer in="na" result="m"><feFuncA type="linear" slope="30" intercept="-17.500"/></feComponentTransfer>
<feComposite in="SourceGraphic" in2="m" operator="in"/><feGaussianBlur stdDeviation="0.3"/></filter>
<filter id="sp6" filterUnits="userSpaceOnUse" x="-120" y="-120" width="520" height="380" color-interpolation-filters="sRGB">
<feTurbulence type="fractalNoise" baseFrequency="0.18 0.4" numOctaves="3" seed="8" result="n"/>
<feColorMatrix in="n" type="matrix" values="0 0 0 0 0  0 0 0 0 0  0 0 0 0 0  1 0 0 0 0" result="na"/>
<feComponentTransfer in="na" result="m"><feFuncA type="linear" slope="30" intercept="-20.264"/></feComponentTransfer>
<feComposite in="SourceGraphic" in2="m" operator="in"/><feGaussianBlur stdDeviation="0.3"/></filter>
<filter id="sp7" filterUnits="userSpaceOnUse" x="-120" y="-120" width="520" height="380" color-interpolation-filters="sRGB">
<feTurbulence type="fractalNoise" baseFrequency="0.18 0.4" numOctaves="3" seed="17" result="n"/>
<feColorMatrix in="n" type="matrix" values="0 0 0 0 0  0 0 0 0 0  0 0 0 0 0  1 0 0 0 0" result="na"/>
<feComponentTransfer in="na" result="m"><feFuncA type="linear" slope="30" intercept="-20.543"/></feComponentTransfer>
<feComposite in="SourceGraphic" in2="m" operator="in"/><feGaussianBlur stdDeviation="0.3"/></filter>
<filter id="sp8" filterUnits="userSpaceOnUse" x="-120" y="-120" width="520" height="380" color-interpolation-filters="sRGB">
<feTurbulence type="fractalNoise" baseFrequency="0.15 0.38" numOctaves="3" seed="9" result="n"/>
<feColorMatrix in="n" type="matrix" values="0 0 0 0 0  0 0 0 0 0  0 0 0 0 0  1 0 0 0 0" result="na"/>
<feComponentTransfer in="na" result="m"><feFuncA type="linear" slope="30" intercept="-10.625"/></feComponentTransfer>
<feComposite in="SourceGraphic" in2="m" operator="in"/><feGaussianBlur stdDeviation="0.3"/></filter>
<filter id="sp9" filterUnits="userSpaceOnUse" x="-120" y="-120" width="520" height="380" color-interpolation-filters="sRGB">
<feTurbulence type="fractalNoise" baseFrequency="0.15 0.38" numOctaves="3" seed="32" result="n"/>
<feColorMatrix in="n" type="matrix" values="0 0 0 0 0  0 0 0 0 0  0 0 0 0 0  1 0 0 0 0" result="na"/>
<feComponentTransfer in="na" result="m"><feFuncA type="linear" slope="30" intercept="-19.000"/></feComponentTransfer>
<feComposite in="SourceGraphic" in2="m" operator="in"/><feGaussianBlur stdDeviation="0.3"/></filter>
<filter id="sp10" filterUnits="userSpaceOnUse" x="-120" y="-120" width="520" height="380" color-interpolation-filters="sRGB">
<feTurbulence type="fractalNoise" baseFrequency="0.15 0.38" numOctaves="3" seed="10" result="n"/>
<feColorMatrix in="n" type="matrix" values="0 0 0 0 0  0 0 0 0 0  0 0 0 0 0  1 0 0 0 0" result="na"/>
<feComponentTransfer in="na" result="m"><feFuncA type="linear" slope="30" intercept="-12.750"/></feComponentTransfer>
<feComposite in="SourceGraphic" in2="m" operator="in"/><feGaussianBlur stdDeviation="0.3"/></filter>
<filter id="sp11" filterUnits="userSpaceOnUse" x="-120" y="-120" width="520" height="380" color-interpolation-filters="sRGB">
<feTurbulence type="fractalNoise" baseFrequency="0.15 0.38" numOctaves="3" seed="19" result="n"/>
<feColorMatrix in="n" type="matrix" values="0 0 0 0 0  0 0 0 0 0  0 0 0 0 0  1 0 0 0 0" result="na"/>
<feComponentTransfer in="na" result="m"><feFuncA type="linear" slope="30" intercept="-12.750"/></feComponentTransfer>
<feComposite in="SourceGraphic" in2="m" operator="in"/><feGaussianBlur stdDeviation="0.3"/></filter>
<filter id="sp12" filterUnits="userSpaceOnUse" x="-120" y="-120" width="520" height="380" color-interpolation-filters="sRGB">
<feTurbulence type="fractalNoise" baseFrequency="0.15 0.38" numOctaves="3" seed="11" result="n"/>
<feColorMatrix in="n" type="matrix" values="0 0 0 0 0  0 0 0 0 0  0 0 0 0 0  1 0 0 0 0" result="na"/>
<feComponentTransfer in="na" result="m"><feFuncA type="linear" slope="30" intercept="-12.750"/></feComponentTransfer>
<feComposite in="SourceGraphic" in2="m" operator="in"/><feGaussianBlur stdDeviation="0.3"/></filter>
<filter id="sp13" filterUnits="userSpaceOnUse" x="-120" y="-120" width="520" height="380" color-interpolation-filters="sRGB">
<feTurbulence type="fractalNoise" baseFrequency="0.15 0.38" numOctaves="3" seed="12" result="n"/>
<feColorMatrix in="n" type="matrix" values="0 0 0 0 0  0 0 0 0 0  0 0 0 0 0  1 0 0 0 0" result="na"/>
<feComponentTransfer in="na" result="m"><feFuncA type="linear" slope="30" intercept="-12.750"/></feComponentTransfer>
<feComposite in="SourceGraphic" in2="m" operator="in"/><feGaussianBlur stdDeviation="0.3"/></filter>
<filter id="sp14" filterUnits="userSpaceOnUse" x="-120" y="-120" width="520" height="380" color-interpolation-filters="sRGB">
<feTurbulence type="fractalNoise" baseFrequency="0.15 0.38" numOctaves="3" seed="13" result="n"/>
<feColorMatrix in="n" type="matrix" values="0 0 0 0 0  0 0 0 0 0  0 0 0 0 0  1 0 0 0 0" result="na"/>
<feComponentTransfer in="na" result="m"><feFuncA type="linear" slope="30" intercept="-14.031"/></feComponentTransfer>
<feComposite in="SourceGraphic" in2="m" operator="in"/><feGaussianBlur stdDeviation="0.3"/></filter>
<filter id="sp15" filterUnits="userSpaceOnUse" x="-120" y="-120" width="520" height="380" color-interpolation-filters="sRGB">
<feTurbulence type="fractalNoise" baseFrequency="0.15 0.38" numOctaves="3" seed="16" result="n"/>
<feColorMatrix in="n" type="matrix" values="0 0 0 0 0  0 0 0 0 0  0 0 0 0 0  1 0 0 0 0" result="na"/>
<feComponentTransfer in="na" result="m"><feFuncA type="linear" slope="30" intercept="-15.824"/></feComponentTransfer>
<feComposite in="SourceGraphic" in2="m" operator="in"/><feGaussianBlur stdDeviation="0.3"/></filter>
<filter id="sp16" filterUnits="userSpaceOnUse" x="-120" y="-120" width="520" height="380" color-interpolation-filters="sRGB">
<feTurbulence type="fractalNoise" baseFrequency="0.15 0.38" numOctaves="3" seed="18" result="n"/>
<feColorMatrix in="n" type="matrix" values="0 0 0 0 0  0 0 0 0 0  0 0 0 0 0  1 0 0 0 0" result="na"/>
<feComponentTransfer in="na" result="m"><feFuncA type="linear" slope="30" intercept="-8.500"/></feComponentTransfer>
<feComposite in="SourceGraphic" in2="m" operator="in"/><feGaussianBlur stdDeviation="0.3"/></filter>
<filter id="sp17" filterUnits="userSpaceOnUse" x="-120" y="-120" width="520" height="380" color-interpolation-filters="sRGB">
<feTurbulence type="fractalNoise" baseFrequency="0.15 0.38" numOctaves="3" seed="14" result="n"/>
<feColorMatrix in="n" type="matrix" values="0 0 0 0 0  0 0 0 0 0  0 0 0 0 0  1 0 0 0 0" result="na"/>
<feComponentTransfer in="na" result="m"><feFuncA type="linear" slope="30" intercept="-19.707"/></feComponentTransfer>
<feComposite in="SourceGraphic" in2="m" operator="in"/><feGaussianBlur stdDeviation="0.3"/></filter>
<filter id="sp18" filterUnits="userSpaceOnUse" x="-120" y="-120" width="520" height="380" color-interpolation-filters="sRGB">
<feTurbulence type="fractalNoise" baseFrequency="0.15 0.38" numOctaves="3" seed="15" result="n"/>
<feColorMatrix in="n" type="matrix" values="0 0 0 0 0  0 0 0 0 0  0 0 0 0 0  1 0 0 0 0" result="na"/>
<feComponentTransfer in="na" result="m"><feFuncA type="linear" slope="30" intercept="-12.500"/></feComponentTransfer>
<feComposite in="SourceGraphic" in2="m" operator="in"/><feGaussianBlur stdDeviation="0.3"/></filter>
<filter id="sp19" filterUnits="userSpaceOnUse" x="-120" y="-120" width="520" height="380" color-interpolation-filters="sRGB">
<feTurbulence type="fractalNoise" baseFrequency="0.15 0.38" numOctaves="3" seed="21" result="n"/>
<feColorMatrix in="n" type="matrix" values="0 0 0 0 0  0 0 0 0 0  0 0 0 0 0  1 0 0 0 0" result="na"/>
<feComponentTransfer in="na" result="m"><feFuncA type="linear" slope="30" intercept="-13.094"/></feComponentTransfer>
<feComposite in="SourceGraphic" in2="m" operator="in"/><feGaussianBlur stdDeviation="0.3"/></filter>
<filter id="sp20" filterUnits="userSpaceOnUse" x="-120" y="-120" width="520" height="380" color-interpolation-filters="sRGB">
<feTurbulence type="fractalNoise" baseFrequency="0.15 0.38" numOctaves="3" seed="29" result="n"/>
<feColorMatrix in="n" type="matrix" values="0 0 0 0 0  0 0 0 0 0  0 0 0 0 0  1 0 0 0 0" result="na"/>
<feComponentTransfer in="na" result="m"><feFuncA type="linear" slope="30" intercept="-10.000"/></feComponentTransfer>
<feComposite in="SourceGraphic" in2="m" operator="in"/><feGaussianBlur stdDeviation="0.3"/></filter>
<filter id="sp21" filterUnits="userSpaceOnUse" x="-120" y="-120" width="520" height="380" color-interpolation-filters="sRGB">
<feTurbulence type="fractalNoise" baseFrequency="0.15 0.38" numOctaves="3" seed="22" result="n"/>
<feColorMatrix in="n" type="matrix" values="0 0 0 0 0  0 0 0 0 0  0 0 0 0 0  1 0 0 0 0" result="na"/>
<feComponentTransfer in="na" result="m"><feFuncA type="linear" slope="30" intercept="-11.875"/></feComponentTransfer>
<feComposite in="SourceGraphic" in2="m" operator="in"/><feGaussianBlur stdDeviation="0.3"/></filter>
<filter id="sp22" filterUnits="userSpaceOnUse" x="-120" y="-120" width="520" height="380" color-interpolation-filters="sRGB">
<feTurbulence type="fractalNoise" baseFrequency="0.15 0.38" numOctaves="3" seed="23" result="n"/>
<feColorMatrix in="n" type="matrix" values="0 0 0 0 0  0 0 0 0 0  0 0 0 0 0  1 0 0 0 0" result="na"/>
<feComponentTransfer in="na" result="m"><feFuncA type="linear" slope="30" intercept="-10.250"/></feComponentTransfer>
<feComposite in="SourceGraphic" in2="m" operator="in"/><feGaussianBlur stdDeviation="0.3"/></filter>
<filter id="sp23" filterUnits="userSpaceOnUse" x="-120" y="-120" width="520" height="380" color-interpolation-filters="sRGB">
<feTurbulence type="fractalNoise" baseFrequency="0.15 0.38" numOctaves="3" seed="24" result="n"/>
<feColorMatrix in="n" type="matrix" values="0 0 0 0 0  0 0 0 0 0  0 0 0 0 0  1 0 0 0 0" result="na"/>
<feComponentTransfer in="na" result="m"><feFuncA type="linear" slope="30" intercept="-21.100"/></feComponentTransfer>
<feComposite in="SourceGraphic" in2="m" operator="in"/><feGaussianBlur stdDeviation="0.3"/></filter>
<filter id="sp24" filterUnits="userSpaceOnUse" x="-120" y="-120" width="520" height="380" color-interpolation-filters="sRGB">
<feTurbulence type="fractalNoise" baseFrequency="0.15 0.38" numOctaves="3" seed="27" result="n"/>
<feColorMatrix in="n" type="matrix" values="0 0 0 0 0  0 0 0 0 0  0 0 0 0 0  1 0 0 0 0" result="na"/>
<feComponentTransfer in="na" result="m"><feFuncA type="linear" slope="30" intercept="-21.100"/></feComponentTransfer>
<feComposite in="SourceGraphic" in2="m" operator="in"/><feGaussianBlur stdDeviation="0.3"/></filter>
<filter id="sp25" filterUnits="userSpaceOnUse" x="-120" y="-120" width="520" height="380" color-interpolation-filters="sRGB">
<feTurbulence type="fractalNoise" baseFrequency="0.15 0.38" numOctaves="3" seed="25" result="n"/>
<feColorMatrix in="n" type="matrix" values="0 0 0 0 0  0 0 0 0 0  0 0 0 0 0  1 0 0 0 0" result="na"/>
<feComponentTransfer in="na" result="m"><feFuncA type="linear" slope="30" intercept="-21.100"/></feComponentTransfer>
<feComposite in="SourceGraphic" in2="m" operator="in"/><feGaussianBlur stdDeviation="0.3"/></filter>
<filter id="sp26" filterUnits="userSpaceOnUse" x="-120" y="-120" width="520" height="380" color-interpolation-filters="sRGB">
<feTurbulence type="fractalNoise" baseFrequency="0.15 0.38" numOctaves="3" seed="26" result="n"/>
<feColorMatrix in="n" type="matrix" values="0 0 0 0 0  0 0 0 0 0  0 0 0 0 0  1 0 0 0 0" result="na"/>
<feComponentTransfer in="na" result="m"><feFuncA type="linear" slope="30" intercept="-15.824"/></feComponentTransfer>
<feComposite in="SourceGraphic" in2="m" operator="in"/><feGaussianBlur stdDeviation="0.3"/></filter>
<filter id="sp27" filterUnits="userSpaceOnUse" x="-120" y="-120" width="520" height="380" color-interpolation-filters="sRGB">
<feTurbulence type="fractalNoise" baseFrequency="0.15 0.38" numOctaves="3" seed="3" result="n"/>
<feColorMatrix in="n" type="matrix" values="0 0 0 0 0  0 0 0 0 0  0 0 0 0 0  1 0 0 0 0" result="na"/>
<feComponentTransfer in="na" result="m"><feFuncA type="linear" slope="30" intercept="-11.750"/></feComponentTransfer>
<feComposite in="SourceGraphic" in2="m" operator="in"/><feGaussianBlur stdDeviation="0.3"/></filter>
<filter id="sp28" filterUnits="userSpaceOnUse" x="-120" y="-120" width="520" height="380" color-interpolation-filters="sRGB">
<feTurbulence type="fractalNoise" baseFrequency="0.15 0.38" numOctaves="3" seed="4" result="n"/>
<feColorMatrix in="n" type="matrix" values="0 0 0 0 0  0 0 0 0 0  0 0 0 0 0  1 0 0 0 0" result="na"/>
<feComponentTransfer in="na" result="m"><feFuncA type="linear" slope="30" intercept="-13.188"/></feComponentTransfer>
<feComposite in="SourceGraphic" in2="m" operator="in"/><feGaussianBlur stdDeviation="0.3"/></filter>
<filter id="sp29" filterUnits="userSpaceOnUse" x="-120" y="-120" width="520" height="380" color-interpolation-filters="sRGB">
<feTurbulence type="fractalNoise" baseFrequency="0.15 0.38" numOctaves="3" seed="31" result="n"/>
<feColorMatrix in="n" type="matrix" values="0 0 0 0 0  0 0 0 0 0  0 0 0 0 0  1 0 0 0 0" result="na"/>
<feComponentTransfer in="na" result="m"><feFuncA type="linear" slope="30" intercept="-10.000"/></feComponentTransfer>
<feComposite in="SourceGraphic" in2="m" operator="in"/><feGaussianBlur stdDeviation="0.3"/></filter>
<filter id="sp30" filterUnits="userSpaceOnUse" x="-120" y="-120" width="520" height="380" color-interpolation-filters="sRGB">
<feTurbulence type="fractalNoise" baseFrequency="0.15 0.38" numOctaves="3" seed="5" result="n"/>
<feColorMatrix in="n" type="matrix" values="0 0 0 0 0  0 0 0 0 0  0 0 0 0 0  1 0 0 0 0" result="na"/>
<feComponentTransfer in="na" result="m"><feFuncA type="linear" slope="30" intercept="-13.094"/></feComponentTransfer>
<feComposite in="SourceGraphic" in2="m" operator="in"/><feGaussianBlur stdDeviation="0.3"/></filter>
<filter id="sp31" filterUnits="userSpaceOnUse" x="-120" y="-120" width="520" height="380" color-interpolation-filters="sRGB">
<feTurbulence type="fractalNoise" baseFrequency="0.15 0.38" numOctaves="3" seed="7" result="n"/>
<feColorMatrix in="n" type="matrix" values="0 0 0 0 0  0 0 0 0 0  0 0 0 0 0  1 0 0 0 0" result="na"/>
<feComponentTransfer in="na" result="m"><feFuncA type="linear" slope="30" intercept="-11.250"/></feComponentTransfer>
<feComposite in="SourceGraphic" in2="m" operator="in"/><feGaussianBlur stdDeviation="0.3"/></filter>
<filter id="sp32" filterUnits="userSpaceOnUse" x="-120" y="-120" width="520" height="380" color-interpolation-filters="sRGB">
<feTurbulence type="fractalNoise" baseFrequency="0.15 0.38" numOctaves="3" seed="6" result="n"/>
<feColorMatrix in="n" type="matrix" values="0 0 0 0 0  0 0 0 0 0  0 0 0 0 0  1 0 0 0 0" result="na"/>
<feComponentTransfer in="na" result="m"><feFuncA type="linear" slope="30" intercept="-13.562"/></feComponentTransfer>
<feComposite in="SourceGraphic" in2="m" operator="in"/><feGaussianBlur stdDeviation="0.3"/></filter>
<filter id="sp33" filterUnits="userSpaceOnUse" x="-120" y="-120" width="520" height="380" color-interpolation-filters="sRGB">
<feTurbulence type="fractalNoise" baseFrequency="0.18 0.4" numOctaves="3" seed="8" result="n"/>
<feColorMatrix in="n" type="matrix" values="0 0 0 0 0  0 0 0 0 0  0 0 0 0 0  1 0 0 0 0" result="na"/>
<feComponentTransfer in="na" result="m"><feFuncA type="linear" slope="30" intercept="-15.559"/></feComponentTransfer>
<feComposite in="SourceGraphic" in2="m" operator="in"/><feGaussianBlur stdDeviation="0.3"/></filter>
<filter id="sp34" filterUnits="userSpaceOnUse" x="-120" y="-120" width="520" height="380" color-interpolation-filters="sRGB">
<feTurbulence type="fractalNoise" baseFrequency="0.18 0.4" numOctaves="3" seed="17" result="n"/>
<feColorMatrix in="n" type="matrix" values="0 0 0 0 0  0 0 0 0 0  0 0 0 0 0  1 0 0 0 0" result="na"/>
<feComponentTransfer in="na" result="m"><feFuncA type="linear" slope="30" intercept="-15.559"/></feComponentTransfer>
<feComposite in="SourceGraphic" in2="m" operator="in"/><feGaussianBlur stdDeviation="0.3"/></filter>
<filter id="sp35" filterUnits="userSpaceOnUse" x="-120" y="-120" width="520" height="380" color-interpolation-filters="sRGB">
<feTurbulence type="fractalNoise" baseFrequency="0.15 0.38" numOctaves="3" seed="9" result="n"/>
<feColorMatrix in="n" type="matrix" values="0 0 0 0 0  0 0 0 0 0  0 0 0 0 0  1 0 0 0 0" result="na"/>
<feComponentTransfer in="na" result="m"><feFuncA type="linear" slope="30" intercept="-8.500"/></feComponentTransfer>
<feComposite in="SourceGraphic" in2="m" operator="in"/><feGaussianBlur stdDeviation="0.3"/></filter>
<filter id="sp36" filterUnits="userSpaceOnUse" x="-120" y="-120" width="520" height="380" color-interpolation-filters="sRGB">
<feTurbulence type="fractalNoise" baseFrequency="0.15 0.38" numOctaves="3" seed="32" result="n"/>
<feColorMatrix in="n" type="matrix" values="0 0 0 0 0  0 0 0 0 0  0 0 0 0 0  1 0 0 0 0" result="na"/>
<feComponentTransfer in="na" result="m"><feFuncA type="linear" slope="30" intercept="-10.000"/></feComponentTransfer>
<feComposite in="SourceGraphic" in2="m" operator="in"/><feGaussianBlur stdDeviation="0.3"/></filter>
<filter id="sp37" filterUnits="userSpaceOnUse" x="-120" y="-120" width="520" height="380" color-interpolation-filters="sRGB">
<feTurbulence type="fractalNoise" baseFrequency="0.15 0.38" numOctaves="3" seed="10" result="n"/>
<feColorMatrix in="n" type="matrix" values="0 0 0 0 0  0 0 0 0 0  0 0 0 0 0  1 0 0 0 0" result="na"/>
<feComponentTransfer in="na" result="m"><feFuncA type="linear" slope="30" intercept="-11.750"/></feComponentTransfer>
<feComposite in="SourceGraphic" in2="m" operator="in"/><feGaussianBlur stdDeviation="0.3"/></filter>
<filter id="sp38" filterUnits="userSpaceOnUse" x="-120" y="-120" width="520" height="380" color-interpolation-filters="sRGB">
<feTurbulence type="fractalNoise" baseFrequency="0.15 0.38" numOctaves="3" seed="19" result="n"/>
<feColorMatrix in="n" type="matrix" values="0 0 0 0 0  0 0 0 0 0  0 0 0 0 0  1 0 0 0 0" result="na"/>
<feComponentTransfer in="na" result="m"><feFuncA type="linear" slope="30" intercept="-11.750"/></feComponentTransfer>
<feComposite in="SourceGraphic" in2="m" operator="in"/><feGaussianBlur stdDeviation="0.3"/></filter>
<filter id="sp39" filterUnits="userSpaceOnUse" x="-120" y="-120" width="520" height="380" color-interpolation-filters="sRGB">
<feTurbulence type="fractalNoise" baseFrequency="0.15 0.38" numOctaves="3" seed="11" result="n"/>
<feColorMatrix in="n" type="matrix" values="0 0 0 0 0  0 0 0 0 0  0 0 0 0 0  1 0 0 0 0" result="na"/>
<feComponentTransfer in="na" result="m"><feFuncA type="linear" slope="30" intercept="-11.750"/></feComponentTransfer>
<feComposite in="SourceGraphic" in2="m" operator="in"/><feGaussianBlur stdDeviation="0.3"/></filter>
<filter id="sp40" filterUnits="userSpaceOnUse" x="-120" y="-120" width="520" height="380" color-interpolation-filters="sRGB">
<feTurbulence type="fractalNoise" baseFrequency="0.15 0.38" numOctaves="3" seed="12" result="n"/>
<feColorMatrix in="n" type="matrix" values="0 0 0 0 0  0 0 0 0 0  0 0 0 0 0  1 0 0 0 0" result="na"/>
<feComponentTransfer in="na" result="m"><feFuncA type="linear" slope="30" intercept="-11.750"/></feComponentTransfer>
<feComposite in="SourceGraphic" in2="m" operator="in"/><feGaussianBlur stdDeviation="0.3"/></filter>
<filter id="sp41" filterUnits="userSpaceOnUse" x="-120" y="-120" width="520" height="380" color-interpolation-filters="sRGB">
<feTurbulence type="fractalNoise" baseFrequency="0.15 0.38" numOctaves="3" seed="13" result="n"/>
<feColorMatrix in="n" type="matrix" values="0 0 0 0 0  0 0 0 0 0  0 0 0 0 0  1 0 0 0 0" result="na"/>
<feComponentTransfer in="na" result="m"><feFuncA type="linear" slope="30" intercept="-12.250"/></feComponentTransfer>
<feComposite in="SourceGraphic" in2="m" operator="in"/><feGaussianBlur stdDeviation="0.3"/></filter>
<filter id="sp42" filterUnits="userSpaceOnUse" x="-120" y="-120" width="520" height="380" color-interpolation-filters="sRGB">
<feTurbulence type="fractalNoise" baseFrequency="0.15 0.38" numOctaves="3" seed="16" result="n"/>
<feColorMatrix in="n" type="matrix" values="0 0 0 0 0  0 0 0 0 0  0 0 0 0 0  1 0 0 0 0" result="na"/>
<feComponentTransfer in="na" result="m"><feFuncA type="linear" slope="30" intercept="-13.375"/></feComponentTransfer>
<feComposite in="SourceGraphic" in2="m" operator="in"/><feGaussianBlur stdDeviation="0.3"/></filter>
<filter id="sp43" filterUnits="userSpaceOnUse" x="-120" y="-120" width="520" height="380" color-interpolation-filters="sRGB">
<feTurbulence type="fractalNoise" baseFrequency="0.15 0.38" numOctaves="3" seed="14" result="n"/>
<feColorMatrix in="n" type="matrix" values="0 0 0 0 0  0 0 0 0 0  0 0 0 0 0  1 0 0 0 0" result="na"/>
<feComponentTransfer in="na" result="m"><feFuncA type="linear" slope="30" intercept="-12.500"/></feComponentTransfer>
<feComposite in="SourceGraphic" in2="m" operator="in"/><feGaussianBlur stdDeviation="0.3"/></filter>
<filter id="sp44" filterUnits="userSpaceOnUse" x="-120" y="-120" width="520" height="380" color-interpolation-filters="sRGB">
<feTurbulence type="fractalNoise" baseFrequency="0.15 0.38" numOctaves="3" seed="28" result="n"/>
<feColorMatrix in="n" type="matrix" values="0 0 0 0 0  0 0 0 0 0  0 0 0 0 0  1 0 0 0 0" result="na"/>
<feComponentTransfer in="na" result="m"><feFuncA type="linear" slope="30" intercept="-15.382"/></feComponentTransfer>
<feComposite in="SourceGraphic" in2="m" operator="in"/><feGaussianBlur stdDeviation="0.3"/></filter>
<filter id="sp45" filterUnits="userSpaceOnUse" x="-120" y="-120" width="520" height="380" color-interpolation-filters="sRGB">
<feTurbulence type="fractalNoise" baseFrequency="0.15 0.38" numOctaves="3" seed="24" result="n"/>
<feColorMatrix in="n" type="matrix" values="0 0 0 0 0  0 0 0 0 0  0 0 0 0 0  1 0 0 0 0" result="na"/>
<feComponentTransfer in="na" result="m"><feFuncA type="linear" slope="30" intercept="-19.986"/></feComponentTransfer>
<feComposite in="SourceGraphic" in2="m" operator="in"/><feGaussianBlur stdDeviation="0.3"/></filter>
<filter id="sp46" filterUnits="userSpaceOnUse" x="-120" y="-120" width="520" height="380" color-interpolation-filters="sRGB">
<feTurbulence type="fractalNoise" baseFrequency="0.15 0.38" numOctaves="3" seed="27" result="n"/>
<feColorMatrix in="n" type="matrix" values="0 0 0 0 0  0 0 0 0 0  0 0 0 0 0  1 0 0 0 0" result="na"/>
<feComponentTransfer in="na" result="m"><feFuncA type="linear" slope="30" intercept="-19.986"/></feComponentTransfer>
<feComposite in="SourceGraphic" in2="m" operator="in"/><feGaussianBlur stdDeviation="0.3"/></filter>
<filter id="sp47" filterUnits="userSpaceOnUse" x="-120" y="-120" width="520" height="380" color-interpolation-filters="sRGB">
<feTurbulence type="fractalNoise" baseFrequency="0.15 0.38" numOctaves="3" seed="25" result="n"/>
<feColorMatrix in="n" type="matrix" values="0 0 0 0 0  0 0 0 0 0  0 0 0 0 0  1 0 0 0 0" result="na"/>
<feComponentTransfer in="na" result="m"><feFuncA type="linear" slope="30" intercept="-20.376"/></feComponentTransfer>
<feComposite in="SourceGraphic" in2="m" operator="in"/><feGaussianBlur stdDeviation="0.3"/></filter>
<filter id="sp48" filterUnits="userSpaceOnUse" x="-120" y="-120" width="520" height="380" color-interpolation-filters="sRGB">
<feTurbulence type="fractalNoise" baseFrequency="0.15 0.38" numOctaves="3" seed="26" result="n"/>
<feColorMatrix in="n" type="matrix" values="0 0 0 0 0  0 0 0 0 0  0 0 0 0 0  1 0 0 0 0" result="na"/>
<feComponentTransfer in="na" result="m"><feFuncA type="linear" slope="30" intercept="-14.500"/></feComponentTransfer>
<feComposite in="SourceGraphic" in2="m" operator="in"/><feGaussianBlur stdDeviation="0.3"/></filter>
<filter id="sp49" filterUnits="userSpaceOnUse" x="-120" y="-120" width="520" height="380" color-interpolation-filters="sRGB">
<feTurbulence type="fractalNoise" baseFrequency="0.15 0.38" numOctaves="3" seed="3" result="n"/>
<feColorMatrix in="n" type="matrix" values="0 0 0 0 0  0 0 0 0 0  0 0 0 0 0  1 0 0 0 0" result="na"/>
<feComponentTransfer in="na" result="m"><feFuncA type="linear" slope="30" intercept="-11.250"/></feComponentTransfer>
<feComposite in="SourceGraphic" in2="m" operator="in"/><feGaussianBlur stdDeviation="0.3"/></filter>
<filter id="sp50" filterUnits="userSpaceOnUse" x="-120" y="-120" width="520" height="380" color-interpolation-filters="sRGB">
<feTurbulence type="fractalNoise" baseFrequency="0.15 0.38" numOctaves="3" seed="4" result="n"/>
<feColorMatrix in="n" type="matrix" values="0 0 0 0 0  0 0 0 0 0  0 0 0 0 0  1 0 0 0 0" result="na"/>
<feComponentTransfer in="na" result="m"><feFuncA type="linear" slope="30" intercept="-12.750"/></feComponentTransfer>
<feComposite in="SourceGraphic" in2="m" operator="in"/><feGaussianBlur stdDeviation="0.3"/></filter>
<filter id="sp51" filterUnits="userSpaceOnUse" x="-120" y="-120" width="520" height="380" color-interpolation-filters="sRGB">
<feTurbulence type="fractalNoise" baseFrequency="0.15 0.38" numOctaves="3" seed="5" result="n"/>
<feColorMatrix in="n" type="matrix" values="0 0 0 0 0  0 0 0 0 0  0 0 0 0 0  1 0 0 0 0" result="na"/>
<feComponentTransfer in="na" result="m"><feFuncA type="linear" slope="30" intercept="-12.500"/></feComponentTransfer>
<feComposite in="SourceGraphic" in2="m" operator="in"/><feGaussianBlur stdDeviation="0.3"/></filter>
<filter id="sp52" filterUnits="userSpaceOnUse" x="-120" y="-120" width="520" height="380" color-interpolation-filters="sRGB">
<feTurbulence type="fractalNoise" baseFrequency="0.15 0.38" numOctaves="3" seed="7" result="n"/>
<feColorMatrix in="n" type="matrix" values="0 0 0 0 0  0 0 0 0 0  0 0 0 0 0  1 0 0 0 0" result="na"/>
<feComponentTransfer in="na" result="m"><feFuncA type="linear" slope="30" intercept="-11.000"/></feComponentTransfer>
<feComposite in="SourceGraphic" in2="m" operator="in"/><feGaussianBlur stdDeviation="0.3"/></filter>
<filter id="sp53" filterUnits="userSpaceOnUse" x="-120" y="-120" width="520" height="380" color-interpolation-filters="sRGB">
<feTurbulence type="fractalNoise" baseFrequency="0.15 0.38" numOctaves="3" seed="6" result="n"/>
<feColorMatrix in="n" type="matrix" values="0 0 0 0 0  0 0 0 0 0  0 0 0 0 0  1 0 0 0 0" result="na"/>
<feComponentTransfer in="na" result="m"><feFuncA type="linear" slope="30" intercept="-12.500"/></feComponentTransfer>
<feComposite in="SourceGraphic" in2="m" operator="in"/><feGaussianBlur stdDeviation="0.3"/></filter>
<filter id="sp54" filterUnits="userSpaceOnUse" x="-120" y="-120" width="520" height="380" color-interpolation-filters="sRGB">
<feTurbulence type="fractalNoise" baseFrequency="0.18 0.4" numOctaves="3" seed="8" result="n"/>
<feColorMatrix in="n" type="matrix" values="0 0 0 0 0  0 0 0 0 0  0 0 0 0 0  1 0 0 0 0" result="na"/>
<feComponentTransfer in="na" result="m"><feFuncA type="linear" slope="30" intercept="-14.676"/></feComponentTransfer>
<feComposite in="SourceGraphic" in2="m" operator="in"/><feGaussianBlur stdDeviation="0.3"/></filter>
<filter id="sp55" filterUnits="userSpaceOnUse" x="-120" y="-120" width="520" height="380" color-interpolation-filters="sRGB">
<feTurbulence type="fractalNoise" baseFrequency="0.18 0.4" numOctaves="3" seed="17" result="n"/>
<feColorMatrix in="n" type="matrix" values="0 0 0 0 0  0 0 0 0 0  0 0 0 0 0  1 0 0 0 0" result="na"/>
<feComponentTransfer in="na" result="m"><feFuncA type="linear" slope="30" intercept="-14.676"/></feComponentTransfer>
<feComposite in="SourceGraphic" in2="m" operator="in"/><feGaussianBlur stdDeviation="0.3"/></filter>
<filter id="sp56" filterUnits="userSpaceOnUse" x="-120" y="-120" width="520" height="380" color-interpolation-filters="sRGB">
<feTurbulence type="fractalNoise" baseFrequency="0.15 0.38" numOctaves="3" seed="13" result="n"/>
<feColorMatrix in="n" type="matrix" values="0 0 0 0 0  0 0 0 0 0  0 0 0 0 0  1 0 0 0 0" result="na"/>
<feComponentTransfer in="na" result="m"><feFuncA type="linear" slope="30" intercept="-10.625"/></feComponentTransfer>
<feComposite in="SourceGraphic" in2="m" operator="in"/><feGaussianBlur stdDeviation="0.3"/></filter>
<filter id="sp57" filterUnits="userSpaceOnUse" x="-120" y="-120" width="520" height="380" color-interpolation-filters="sRGB">
<feTurbulence type="fractalNoise" baseFrequency="0.15 0.38" numOctaves="3" seed="16" result="n"/>
<feColorMatrix in="n" type="matrix" values="0 0 0 0 0  0 0 0 0 0  0 0 0 0 0  1 0 0 0 0" result="na"/>
<feComponentTransfer in="na" result="m"><feFuncA type="linear" slope="30" intercept="-12.250"/></feComponentTransfer>
<feComposite in="SourceGraphic" in2="m" operator="in"/><feGaussianBlur stdDeviation="0.3"/></filter>
<filter id="sp58" filterUnits="userSpaceOnUse" x="-120" y="-120" width="520" height="380" color-interpolation-filters="sRGB">
<feTurbulence type="fractalNoise" baseFrequency="0.15 0.38" numOctaves="3" seed="14" result="n"/>
<feColorMatrix in="n" type="matrix" values="0 0 0 0 0  0 0 0 0 0  0 0 0 0 0  1 0 0 0 0" result="na"/>
<feComponentTransfer in="na" result="m"><feFuncA type="linear" slope="30" intercept="-11.875"/></feComponentTransfer>
<feComposite in="SourceGraphic" in2="m" operator="in"/><feGaussianBlur stdDeviation="0.3"/></filter>
<filter id="sp59" filterUnits="userSpaceOnUse" x="-120" y="-120" width="520" height="380" color-interpolation-filters="sRGB">
<feTurbulence type="fractalNoise" baseFrequency="0.15 0.38" numOctaves="3" seed="28" result="n"/>
<feColorMatrix in="n" type="matrix" values="0 0 0 0 0  0 0 0 0 0  0 0 0 0 0  1 0 0 0 0" result="na"/>
<feComponentTransfer in="na" result="m"><feFuncA type="linear" slope="30" intercept="-15.824"/></feComponentTransfer>
<feComposite in="SourceGraphic" in2="m" operator="in"/><feGaussianBlur stdDeviation="0.3"/></filter>
<filter id="sp60" filterUnits="userSpaceOnUse" x="-120" y="-120" width="520" height="380" color-interpolation-filters="sRGB">
<feTurbulence type="fractalNoise" baseFrequency="0.15 0.38" numOctaves="3" seed="6" result="n"/>
<feColorMatrix in="n" type="matrix" values="0 0 0 0 0  0 0 0 0 0  0 0 0 0 0  1 0 0 0 0" result="na"/>
<feComponentTransfer in="na" result="m"><feFuncA type="linear" slope="30" intercept="-13.188"/></feComponentTransfer>
<feComposite in="SourceGraphic" in2="m" operator="in"/><feGaussianBlur stdDeviation="0.3"/></filter>
<filter id="sp61" filterUnits="userSpaceOnUse" x="-120" y="-120" width="520" height="380" color-interpolation-filters="sRGB">
<feTurbulence type="fractalNoise" baseFrequency="0.18 0.4" numOctaves="3" seed="8" result="n"/>
<feColorMatrix in="n" type="matrix" values="0 0 0 0 0  0 0 0 0 0  0 0 0 0 0  1 0 0 0 0" result="na"/>
<feComponentTransfer in="na" result="m"><feFuncA type="linear" slope="30" intercept="-15.206"/></feComponentTransfer>
<feComposite in="SourceGraphic" in2="m" operator="in"/><feGaussianBlur stdDeviation="0.3"/></filter>
<filter id="sp62" filterUnits="userSpaceOnUse" x="-120" y="-120" width="520" height="380" color-interpolation-filters="sRGB">
<feTurbulence type="fractalNoise" baseFrequency="0.18 0.4" numOctaves="3" seed="17" result="n"/>
<feColorMatrix in="n" type="matrix" values="0 0 0 0 0  0 0 0 0 0  0 0 0 0 0  1 0 0 0 0" result="na"/>
<feComponentTransfer in="na" result="m"><feFuncA type="linear" slope="30" intercept="-15.206"/></feComponentTransfer>
<feComposite in="SourceGraphic" in2="m" operator="in"/><feGaussianBlur stdDeviation="0.3"/></filter>
<filter id="sp63" filterUnits="userSpaceOnUse" x="-120" y="-120" width="520" height="380" color-interpolation-filters="sRGB">
<feTurbulence type="fractalNoise" baseFrequency="0.15 0.38" numOctaves="3" seed="41" result="n"/>
<feColorMatrix in="n" type="matrix" values="0 0 0 0 0  0 0 0 0 0  0 0 0 0 0  1 0 0 0 0" result="na"/>
<feComponentTransfer in="na" result="m"><feFuncA type="linear" slope="30" intercept="-14.941"/></feComponentTransfer>
<feComposite in="SourceGraphic" in2="m" operator="in"/><feGaussianBlur stdDeviation="0.3"/></filter>
<filter id="sp64" filterUnits="userSpaceOnUse" x="-120" y="-120" width="520" height="380" color-interpolation-filters="sRGB">
<feTurbulence type="fractalNoise" baseFrequency="0.15 0.38" numOctaves="3" seed="42" result="n"/>
<feColorMatrix in="n" type="matrix" values="0 0 0 0 0  0 0 0 0 0  0 0 0 0 0  1 0 0 0 0" result="na"/>
<feComponentTransfer in="na" result="m"><feFuncA type="linear" slope="30" intercept="-16.346"/></feComponentTransfer>
<feComposite in="SourceGraphic" in2="m" operator="in"/><feGaussianBlur stdDeviation="0.3"/></filter>
<filter id="sp65" filterUnits="userSpaceOnUse" x="-120" y="-120" width="520" height="380" color-interpolation-filters="sRGB">
<feTurbulence type="fractalNoise" baseFrequency="0.15 0.38" numOctaves="3" seed="43" result="n"/>
<feColorMatrix in="n" type="matrix" values="0 0 0 0 0  0 0 0 0 0  0 0 0 0 0  1 0 0 0 0" result="na"/>
<feComponentTransfer in="na" result="m"><feFuncA type="linear" slope="30" intercept="-14.941"/></feComponentTransfer>
<feComposite in="SourceGraphic" in2="m" operator="in"/><feGaussianBlur stdDeviation="0.3"/></filter>
<filter id="sp66" filterUnits="userSpaceOnUse" x="-120" y="-120" width="520" height="380" color-interpolation-filters="sRGB">
<feTurbulence type="fractalNoise" baseFrequency="0.15 0.38" numOctaves="3" seed="44" result="n"/>
<feColorMatrix in="n" type="matrix" values="0 0 0 0 0  0 0 0 0 0  0 0 0 0 0  1 0 0 0 0" result="na"/>
<feComponentTransfer in="na" result="m"><feFuncA type="linear" slope="30" intercept="-15.824"/></feComponentTransfer>
<feComposite in="SourceGraphic" in2="m" operator="in"/><feGaussianBlur stdDeviation="0.3"/></filter></defs>
<line x1="327.6" y1="206.7" x2="498.5" y2="206.7" stroke="#bdbdbd" stroke-width="0.8" stroke-dasharray="1.6,2.2"/>
<line x1="327.6" y1="229.3" x2="498.5" y2="229.3" stroke="#bdbdbd" stroke-width="0.8" stroke-dasharray="1.6,2.2"/>
<line x1="327.6" y1="251.9" x2="498.5" y2="251.9" stroke="#bdbdbd" stroke-width="0.8" stroke-dasharray="1.6,2.2"/>
<line x1="327.6" y1="297.1" x2="498.5" y2="297.1" stroke="#bdbdbd" stroke-width="0.8" stroke-dasharray="1.6,2.2"/>
<line x1="327.6" y1="184.2" x2="498.5" y2="184.2" stroke="#8a8a8a" stroke-width="1.1"/>
<rect x="329.1" y="243.8" width="5.7" height="30.7" fill="#0b2e0b" stroke="#0a1f0a" stroke-width="0.6"/>
<rect x="338.1" y="209.0" width="5.7" height="65.5" fill="#22cc16" stroke="#18a818" stroke-width="0.6"/>
<rect x="347.1" y="274.5" width="5.7" height="13.5" fill="#ff8a0a" stroke="#d06a00" stroke-width="0.6"/>
<rect x="365.2" y="254.2" width="5.7" height="20.3" fill="#0b2e0b" stroke="#0a1f0a" stroke-width="0.6"/>
<rect x="374.2" y="271.3" width="5.7" height="3.2" fill="#22cc16" stroke="#18a818" stroke-width="0.6"/>
<rect x="383.2" y="274.5" width="5.7" height="9.3" fill="#ff8a0a" stroke="#d06a00" stroke-width="0.6"/>
<rect x="401.3" y="239.7" width="5.7" height="34.8" fill="#0b2e0b" stroke="#0a1f0a" stroke-width="0.6"/>
<rect x="410.3" y="274.5" width="5.7" height="5.0" fill="#22cc16" stroke="#18a818" stroke-width="0.6"/>
<rect x="419.3" y="274.5" width="5.7" height="23.5" fill="#ff8a0a" stroke="#d06a00" stroke-width="0.6"/>
<rect x="437.4" y="251.6" width="5.7" height="22.9" fill="#0b2e0b" stroke="#0a1f0a" stroke-width="0.6"/>
<rect x="446.4" y="270.4" width="5.7" height="4.1" fill="#22cc16" stroke="#18a818" stroke-width="0.6"/>
<rect x="455.4" y="274.5" width="5.7" height="19.7" fill="#ff8a0a" stroke="#d06a00" stroke-width="0.6"/>
<rect x="473.5" y="259.1" width="5.7" height="15.4" fill="#0b2e0b" stroke="#0a1f0a" stroke-width="0.6"/>
<rect x="482.5" y="264.3" width="5.7" height="10.2" fill="#22cc16" stroke="#18a818" stroke-width="0.6"/>
<rect x="491.5" y="274.5" width="5.7" height="9.0" fill="#ff8a0a" stroke="#d06a00" stroke-width="0.6"/>
<line x1="327.6" y1="274.5" x2="498.5" y2="274.5" stroke="#555" stroke-width="0.9"/>
<line x1="336.6" y1="274.5" x2="336.6" y2="277.9" stroke="#444" stroke-width="0.8"/>
<line x1="345.6" y1="274.5" x2="345.6" y2="277.9" stroke="#444" stroke-width="0.8"/>
<line x1="354.7" y1="274.5" x2="354.7" y2="277.9" stroke="#444" stroke-width="0.8"/>
<line x1="363.7" y1="274.5" x2="363.7" y2="277.9" stroke="#444" stroke-width="0.8"/>
<line x1="372.7" y1="274.5" x2="372.7" y2="277.9" stroke="#444" stroke-width="0.8"/>
<line x1="381.8" y1="274.5" x2="381.8" y2="277.9" stroke="#444" stroke-width="0.8"/>
<line x1="390.8" y1="274.5" x2="390.8" y2="277.9" stroke="#444" stroke-width="0.8"/>
<line x1="399.8" y1="274.5" x2="399.8" y2="277.9" stroke="#444" stroke-width="0.8"/>
<line x1="408.8" y1="274.5" x2="408.8" y2="277.9" stroke="#444" stroke-width="0.8"/>
<line x1="417.9" y1="274.5" x2="417.9" y2="277.9" stroke="#444" stroke-width="0.8"/>
<line x1="426.9" y1="274.5" x2="426.9" y2="277.9" stroke="#444" stroke-width="0.8"/>
<line x1="435.9" y1="274.5" x2="435.9" y2="277.9" stroke="#444" stroke-width="0.8"/>
<line x1="445.0" y1="274.5" x2="445.0" y2="277.9" stroke="#444" stroke-width="0.8"/>
<line x1="454.0" y1="274.5" x2="454.0" y2="277.9" stroke="#444" stroke-width="0.8"/>
<line x1="463.0" y1="274.5" x2="463.0" y2="277.9" stroke="#444" stroke-width="0.8"/>
<line x1="472.1" y1="274.5" x2="472.1" y2="277.9" stroke="#444" stroke-width="0.8"/>
<line x1="481.1" y1="274.5" x2="481.1" y2="277.9" stroke="#444" stroke-width="0.8"/>
<line x1="490.1" y1="274.5" x2="490.1" y2="277.9" stroke="#444" stroke-width="0.8"/>
<circle cx="331.8" cy="224.8" r="2.35" fill="none" stroke="#2e6b2e" stroke-width="1.1"/>
<circle cx="340.9" cy="190.2" r="2.35" fill="none" stroke="#1fd01f" stroke-width="1.1"/>
<circle cx="349.7" cy="310.9" r="2.35" fill="none" stroke="#f5a030" stroke-width="1.1"/>
<circle cx="368.0" cy="241.3" r="2.35" fill="none" stroke="#2e6b2e" stroke-width="1.1"/>
<circle cx="377.0" cy="241.3" r="2.35" fill="none" stroke="#1fd01f" stroke-width="1.1"/>
<circle cx="385.9" cy="241.5" r="2.35" fill="none" stroke="#f5a030" stroke-width="1.1"/>
<circle cx="403.9" cy="239.4" r="2.35" fill="none" stroke="#2e6b2e" stroke-width="1.1"/>
<circle cx="413.0" cy="241.7" r="2.35" fill="none" stroke="#1fd01f" stroke-width="1.1"/>
<circle cx="422.0" cy="243.7" r="2.35" fill="none" stroke="#f5a030" stroke-width="1.1"/>
<circle cx="440.2" cy="240.8" r="2.35" fill="none" stroke="#2e6b2e" stroke-width="1.1"/>
<circle cx="449.2" cy="241.9" r="2.35" fill="none" stroke="#1fd01f" stroke-width="1.1"/>
<circle cx="458.2" cy="243.0" r="2.35" fill="none" stroke="#f5a030" stroke-width="1.1"/>
<circle cx="476.4" cy="242.0" r="2.35" fill="none" stroke="#2e6b2e" stroke-width="1.1"/>
<circle cx="485.4" cy="242.0" r="2.35" fill="none" stroke="#1fd01f" stroke-width="1.1"/>
<circle cx="494.4" cy="242.4" r="2.35" fill="none" stroke="#f5a030" stroke-width="1.1"/>
<line x1="327.6" y1="183.7" x2="327.6" y2="319.8" stroke="#333" stroke-width="1.1"/>
<line x1="327.6" y1="319.8" x2="498.5" y2="319.8" stroke="#555" stroke-width="1.0"/>
<line x1="498.5" y1="184.2" x2="498.5" y2="319.8" stroke="#777" stroke-width="1.0"/>
<line x1="323.6" y1="184.1" x2="327.6" y2="184.1" stroke="#555" stroke-width="0.9"/>
<text x="321.5" y="187.1" font-size="8.6" text-anchor="end" font-weight="normal" fill="#000" font-family="'Liberation Serif', 'Times New Roman', serif" >200</text>
<line x1="323.6" y1="206.7" x2="327.6" y2="206.7" stroke="#555" stroke-width="0.9"/>
<text x="321.5" y="209.7" font-size="8.6" text-anchor="end" font-weight="normal" fill="#000" font-family="'Liberation Serif', 'Times New Roman', serif" >150</text>
<line x1="323.6" y1="229.3" x2="327.6" y2="229.3" stroke="#555" stroke-width="0.9"/>
<text x="321.5" y="232.3" font-size="8.6" text-anchor="end" font-weight="normal" fill="#000" font-family="'Liberation Serif', 'Times New Roman', serif" >100</text>
<line x1="323.6" y1="251.9" x2="327.6" y2="251.9" stroke="#555" stroke-width="0.9"/>
<text x="321.5" y="254.9" font-size="8.6" text-anchor="end" font-weight="normal" fill="#000" font-family="'Liberation Serif', 'Times New Roman', serif" >50</text>
<line x1="323.6" y1="274.5" x2="327.6" y2="274.5" stroke="#555" stroke-width="0.9"/>
<text x="321.5" y="277.5" font-size="8.6" text-anchor="end" font-weight="normal" fill="#000" font-family="'Liberation Serif', 'Times New Roman', serif" >0</text>
<line x1="323.6" y1="297.1" x2="327.6" y2="297.1" stroke="#555" stroke-width="0.9"/>
<text x="321.5" y="300.1" font-size="8.6" text-anchor="end" font-weight="normal" fill="#000" font-family="'Liberation Serif', 'Times New Roman', serif" >-50</text>
<line x1="323.6" y1="319.7" x2="327.6" y2="319.7" stroke="#555" stroke-width="0.9"/>
<text x="321.5" y="322.7" font-size="8.6" text-anchor="end" font-weight="normal" fill="#000" font-family="'Liberation Serif', 'Times New Roman', serif" >-100</text>
<line x1="498.5" y1="184.1" x2="502.5" y2="184.1" stroke="#777" stroke-width="0.9"/>
<text x="504.0" y="187.08999999999997" font-size="8.6" text-anchor="start" font-weight="normal" fill="#000" font-family="'Liberation Serif', 'Times New Roman', serif" >9000</text>
<line x1="498.5" y1="203.5" x2="502.5" y2="203.5" stroke="#777" stroke-width="0.9"/>
<text x="504.0" y="206.45999999999998" font-size="8.6" text-anchor="start" font-weight="normal" fill="#000" font-family="'Liberation Serif', 'Times New Roman', serif" >6000</text>
<line x1="498.5" y1="222.8" x2="502.5" y2="222.8" stroke="#777" stroke-width="0.9"/>
<text x="504.0" y="225.82999999999998" font-size="8.6" text-anchor="start" font-weight="normal" fill="#000" font-family="'Liberation Serif', 'Times New Roman', serif" >3000</text>
<line x1="498.5" y1="242.2" x2="502.5" y2="242.2" stroke="#777" stroke-width="0.9"/>
<text x="504.0" y="245.2" font-size="8.6" text-anchor="start" font-weight="normal" fill="#000" font-family="'Liberation Serif', 'Times New Roman', serif" >0</text>
<line x1="498.5" y1="261.6" x2="502.5" y2="261.6" stroke="#777" stroke-width="0.9"/>
<text x="504.0" y="264.57" font-size="8.6" text-anchor="start" font-weight="normal" fill="#000" font-family="'Liberation Serif', 'Times New Roman', serif" >−3000</text>
<line x1="498.5" y1="280.9" x2="502.5" y2="280.9" stroke="#777" stroke-width="0.9"/>
<text x="504.0" y="283.94" font-size="8.6" text-anchor="start" font-weight="normal" fill="#000" font-family="'Liberation Serif', 'Times New Roman', serif" >−6000</text>
<line x1="498.5" y1="300.3" x2="502.5" y2="300.3" stroke="#777" stroke-width="0.9"/>
<text x="504.0" y="303.31" font-size="8.6" text-anchor="start" font-weight="normal" fill="#000" font-family="'Liberation Serif', 'Times New Roman', serif" >−9000</text>
<line x1="498.5" y1="319.7" x2="502.5" y2="319.7" stroke="#777" stroke-width="0.9"/>
<text x="504.0" y="322.68" font-size="8.6" text-anchor="start" font-weight="normal" fill="#000" font-family="'Liberation Serif', 'Times New Roman', serif" >−12,000</text>
<text x="339.1" y="327.1" font-size="8.6" text-anchor="middle" font-weight="normal" fill="#000" font-family="'Liberation Serif', 'Times New Roman', serif" >Tarim</text>
<text x="375.5" y="327.1" font-size="8.6" text-anchor="middle" font-weight="normal" fill="#000" font-family="'Liberation Serif', 'Times New Roman', serif" >Bosten</text>
<text x="412.5" y="327.1" font-size="8.6" text-anchor="middle" font-weight="normal" fill="#000" font-family="'Liberation Serif', 'Times New Roman', serif" >Aksu</text>
<text x="449.5" y="327.1" font-size="8.6" text-anchor="middle" font-weight="normal" fill="#000" font-family="'Liberation Serif', 'Times New Roman', serif" >Yarkand</text>
<text x="486.6" y="327.1" font-size="8.6" text-anchor="middle" font-weight="normal" fill="#000" font-family="'Liberation Serif', 'Times New Roman', serif" >Hotan</text>
<text x="413.0" y="337.5" font-size="8.6" text-anchor="middle" font-weight="normal" fill="#000" font-family="'Liberation Serif', 'Times New Roman', serif" >Basin</text>
<text transform="translate(302.6,248.4) rotate(-90)" font-size="9.6" text-anchor="middle" fill="#000" font-family="'Liberation Serif', 'Times New Roman', serif" textLength="68.5" lengthAdjust="spacingAndGlyphs" xml:space="preserve">Area change  (%)</text>
<text transform="translate(540.3,250.6) rotate(-90)" font-size="8.9" text-anchor="middle" fill="#000" font-family="'Liberation Serif', 'Times New Roman', serif">Area change rate (km<tspan font-size="5.8" dy="-3.1">2</tspan><tspan dy="3.1">/a)</tspan></text>
<circle cx="369.2" cy="190.0" r="2.35" fill="none" stroke="#2e6b2e" stroke-width="1.1"/>
<rect x="374.0" y="187.9" width="6" height="4.4" fill="#0b2e0b"/>
<text x="374.0" y="202.5" font-size="8.8" text-anchor="middle" font-weight="normal" fill="#000" font-family="'Liberation Serif', 'Times New Roman', serif" textLength="33.6" lengthAdjust="spacingAndGlyphs" >High FVC</text>
<circle cx="417.8" cy="190.0" r="2.35" fill="none" stroke="#1fd01f" stroke-width="1.1"/>
<rect x="422.7" y="187.9" width="6" height="4.4" fill="#22cc16"/>
<text x="425.5" y="202.5" font-size="8.8" text-anchor="middle" font-weight="normal" fill="#000" font-family="'Liberation Serif', 'Times New Roman', serif" textLength="44.3" lengthAdjust="spacingAndGlyphs" >Medium FVC</text>
<circle cx="474.2" cy="190.0" r="2.35" fill="none" stroke="#f5a030" stroke-width="1.1"/>
<rect x="479.2" y="187.9" width="6" height="4.4" fill="#ff8a0a"/>
<text x="478.3" y="202.5" font-size="8.8" text-anchor="middle" font-weight="normal" fill="#000" font-family="'Liberation Serif', 'Times New Roman', serif" textLength="33.0" lengthAdjust="spacingAndGlyphs" >Low FVC</text>
<rect x="359.2" y="218.6" width="6" height="6" fill="#1d4fc4"/>
<text x="368.5" y="225.0" font-size="8.8" text-anchor="start" font-weight="normal" fill="#000" font-family="'Liberation Serif', 'Times New Roman', serif" textLength="42.1" lengthAdjust="spacingAndGlyphs" >Change rate</text>
<circle cx="425.5" cy="221.6" r="2.45" fill="none" stroke="#2e8ee8" stroke-width="1.1"/>
<text x="431.4" y="225.0" font-size="8.8" text-anchor="start" font-weight="normal" fill="#000" font-family="'Liberation Serif', 'Times New Roman', serif" textLength="19.6" lengthAdjust="spacingAndGlyphs" >Slope</text>
<text x="281.3" y="188.6" font-size="13.2" text-anchor="start" font-weight="normal" fill="#000" font-family="'Liberation Serif', 'Times New Roman', serif" >(e)</text>
<line x1="316.0" y1="377.6" x2="543.7" y2="377.6" stroke="#bdbdbd" stroke-width="0.8" stroke-dasharray="1.6,2.2"/>
<line x1="316.0" y1="394.6" x2="543.7" y2="394.6" stroke="#bdbdbd" stroke-width="0.8" stroke-dasharray="1.6,2.2"/>
<line x1="316.0" y1="411.6" x2="543.7" y2="411.6" stroke="#bdbdbd" stroke-width="0.8" stroke-dasharray="1.6,2.2"/>
<line x1="316.0" y1="428.6" x2="543.7" y2="428.6" stroke="#bdbdbd" stroke-width="0.8" stroke-dasharray="1.6,2.2"/>
<line x1="316.0" y1="445.5" x2="543.7" y2="445.5" stroke="#bdbdbd" stroke-width="0.8" stroke-dasharray="1.6,2.2"/>
<line x1="316.0" y1="462.5" x2="543.7" y2="462.5" stroke="#bdbdbd" stroke-width="0.8" stroke-dasharray="1.6,2.2"/>
<line x1="316.0" y1="479.5" x2="543.7" y2="479.5" stroke="#bdbdbd" stroke-width="0.8" stroke-dasharray="1.6,2.2"/>
<rect x="316.0" y="360.6" width="227.7" height="135.9" fill="none" stroke="#666" stroke-width="0.9"/>
<line x1="316.0" y1="360.6" x2="316.0" y2="496.5" stroke="#444" stroke-width="1.1"/>
<line x1="316.0" y1="496.5" x2="543.7" y2="496.5" stroke="#444" stroke-width="1.1"/>
<line x1="312.0" y1="360.6" x2="316.0" y2="360.6" stroke="#444" stroke-width="0.9"/>
<text x="310.8" y="363.8" font-size="9.2" text-anchor="end" font-weight="normal" fill="#000" font-family="'Liberation Serif', 'Times New Roman', serif" >60</text>
<line x1="312.0" y1="377.6" x2="316.0" y2="377.6" stroke="#444" stroke-width="0.9"/>
<text x="310.8" y="380.78749999999997" font-size="9.2" text-anchor="end" font-weight="normal" fill="#000" font-family="'Liberation Serif', 'Times New Roman', serif" >55</text>
<line x1="312.0" y1="394.6" x2="316.0" y2="394.6" stroke="#444" stroke-width="0.9"/>
<text x="310.8" y="397.775" font-size="9.2" text-anchor="end" font-weight="normal" fill="#000" font-family="'Liberation Serif', 'Times New Roman', serif" >50</text>
<line x1="312.0" y1="411.6" x2="316.0" y2="411.6" stroke="#444" stroke-width="0.9"/>
<text x="310.8" y="414.7625" font-size="9.2" text-anchor="end" font-weight="normal" fill="#000" font-family="'Liberation Serif', 'Times New Roman', serif" >45</text>
<line x1="312.0" y1="428.6" x2="316.0" y2="428.6" stroke="#444" stroke-width="0.9"/>
<text x="310.8" y="431.75" font-size="9.2" text-anchor="end" font-weight="normal" fill="#000" font-family="'Liberation Serif', 'Times New Roman', serif" >40</text>
<line x1="312.0" y1="445.5" x2="316.0" y2="445.5" stroke="#444" stroke-width="0.9"/>
<text x="310.8" y="448.7375" font-size="9.2" text-anchor="end" font-weight="normal" fill="#000" font-family="'Liberation Serif', 'Times New Roman', serif" >35</text>
<line x1="312.0" y1="462.5" x2="316.0" y2="462.5" stroke="#444" stroke-width="0.9"/>
<text x="310.8" y="465.72499999999997" font-size="9.2" text-anchor="end" font-weight="normal" fill="#000" font-family="'Liberation Serif', 'Times New Roman', serif" >30</text>
<line x1="312.0" y1="479.5" x2="316.0" y2="479.5" stroke="#444" stroke-width="0.9"/>
<text x="310.8" y="482.7125" font-size="9.2" text-anchor="end" font-weight="normal" fill="#000" font-family="'Liberation Serif', 'Times New Roman', serif" >25</text>
<line x1="312.0" y1="496.5" x2="316.0" y2="496.5" stroke="#444" stroke-width="0.9"/>
<text x="310.8" y="499.7" font-size="9.2" text-anchor="end" font-weight="normal" fill="#000" font-family="'Liberation Serif', 'Times New Roman', serif" >20</text>
<line x1="327.7" y1="496.5" x2="327.7" y2="500.0" stroke="#444" stroke-width="0.8"/>
<line x1="338.5" y1="496.5" x2="338.5" y2="500.0" stroke="#444" stroke-width="0.8"/>
<line x1="349.2" y1="496.5" x2="349.2" y2="500.0" stroke="#444" stroke-width="0.8"/>
<line x1="360.0" y1="496.5" x2="360.0" y2="500.0" stroke="#444" stroke-width="0.8"/>
<line x1="370.8" y1="496.5" x2="370.8" y2="500.0" stroke="#444" stroke-width="0.8"/>
<line x1="381.6" y1="496.5" x2="381.6" y2="500.0" stroke="#444" stroke-width="0.8"/>
<line x1="392.4" y1="496.5" x2="392.4" y2="500.0" stroke="#444" stroke-width="0.8"/>
<line x1="403.2" y1="496.5" x2="403.2" y2="500.0" stroke="#444" stroke-width="0.8"/>
<line x1="413.9" y1="496.5" x2="413.9" y2="500.0" stroke="#444" stroke-width="0.8"/>
<line x1="424.7" y1="496.5" x2="424.7" y2="500.0" stroke="#444" stroke-width="0.8"/>
<line x1="435.5" y1="496.5" x2="435.5" y2="500.0" stroke="#444" stroke-width="0.8"/>
<line x1="446.3" y1="496.5" x2="446.3" y2="500.0" stroke="#444" stroke-width="0.8"/>
<line x1="457.1" y1="496.5" x2="457.1" y2="500.0" stroke="#444" stroke-width="0.8"/>
<line x1="467.8" y1="496.5" x2="467.8" y2="500.0" stroke="#444" stroke-width="0.8"/>
<line x1="478.6" y1="496.5" x2="478.6" y2="500.0" stroke="#444" stroke-width="0.8"/>
<line x1="489.4" y1="496.5" x2="489.4" y2="500.0" stroke="#444" stroke-width="0.8"/>
<line x1="500.2" y1="496.5" x2="500.2" y2="500.0" stroke="#444" stroke-width="0.8"/>
<line x1="511.0" y1="496.5" x2="511.0" y2="500.0" stroke="#444" stroke-width="0.8"/>
<line x1="521.7" y1="496.5" x2="521.7" y2="500.0" stroke="#444" stroke-width="0.8"/>
<line x1="532.5" y1="496.5" x2="532.5" y2="500.0" stroke="#444" stroke-width="0.8"/>
<line x1="543.3" y1="496.5" x2="543.3" y2="500.0" stroke="#444" stroke-width="0.8"/>
<text x="322.3" y="511.9" font-size="9.3" text-anchor="middle" font-weight="normal" fill="#000" font-family="'Liberation Serif', 'Times New Roman', serif" >2000</text>
<text x="343.86" y="511.9" font-size="9.3" text-anchor="middle" font-weight="normal" fill="#000" font-family="'Liberation Serif', 'Times New Roman', serif" >2002</text>
<text x="365.42" y="511.9" font-size="9.3" text-anchor="middle" font-weight="normal" fill="#000" font-family="'Liberation Serif', 'Times New Roman', serif" >2004</text>
<text x="386.98" y="511.9" font-size="9.3" text-anchor="middle" font-weight="normal" fill="#000" font-family="'Liberation Serif', 'Times New Roman', serif" >2006</text>
<text x="408.54" y="511.9" font-size="9.3" text-anchor="middle" font-weight="normal" fill="#000" font-family="'Liberation Serif', 'Times New Roman', serif" >2008</text>
<text x="430.1" y="511.9" font-size="9.3" text-anchor="middle" font-weight="normal" fill="#000" font-family="'Liberation Serif', 'Times New Roman', serif" >2010</text>
<text x="451.65999999999997" y="511.9" font-size="9.3" text-anchor="middle" font-weight="normal" fill="#000" font-family="'Liberation Serif', 'Times New Roman', serif" >2012</text>
<text x="473.22" y="511.9" font-size="9.3" text-anchor="middle" font-weight="normal" fill="#000" font-family="'Liberation Serif', 'Times New Roman', serif" >2014</text>
<text x="494.78" y="511.9" font-size="9.3" text-anchor="middle" font-weight="normal" fill="#000" font-family="'Liberation Serif', 'Times New Roman', serif" >2016</text>
<text x="516.34" y="511.9" font-size="9.3" text-anchor="middle" font-weight="normal" fill="#000" font-family="'Liberation Serif', 'Times New Roman', serif" >2018</text>
<text x="537.9" y="511.9" font-size="9.3" text-anchor="middle" font-weight="normal" fill="#000" font-family="'Liberation Serif', 'Times New Roman', serif" >2020</text>
<text x="430.8" y="524.1" font-size="9.3" text-anchor="middle" font-weight="normal" fill="#000" font-family="'Liberation Serif', 'Times New Roman', serif" >Year</text>
<text transform="translate(297.4,430.3) rotate(-90)" font-size="9.3" text-anchor="middle" fill="#000" font-family="'Liberation Serif', 'Times New Roman', serif">FVC (%)</text>
<text x="283.2" y="363.0" font-size="13.8" text-anchor="start" font-weight="normal" fill="#000" font-family="'Liberation Serif', 'Times New Roman', serif" >(f)</text>
<polyline points="322.3,460.1 333.1,459.1 343.9,454.7 354.6,448.3 365.4,452.3 376.2,448.6 387.0,448.6 397.8,440.4 408.5,436.4 419.3,443.8 430.1,426.9 440.9,433.6 451.7,426.9 462.4,430.2 473.2,436.4 484.0,427.5 494.8,422.8 505.6,413.9 516.3,425.8 527.1,402.7 537.9,423.1" fill="none" stroke="#2b8ae6" stroke-width="1.5" stroke-linejoin="round"/>
<circle cx="322.3" cy="460.1" r="2.2" fill="#2b8ae6" fill-opacity="0.4" stroke="#2b8ae6" stroke-width="1.2"/>
<circle cx="333.1" cy="459.1" r="2.2" fill="#2b8ae6" fill-opacity="0.4" stroke="#2b8ae6" stroke-width="1.2"/>
<circle cx="343.9" cy="454.7" r="2.2" fill="#2b8ae6" fill-opacity="0.4" stroke="#2b8ae6" stroke-width="1.2"/>
<circle cx="354.6" cy="448.3" r="2.2" fill="#2b8ae6" fill-opacity="0.4" stroke="#2b8ae6" stroke-width="1.2"/>
<circle cx="365.4" cy="452.3" r="2.2" fill="#2b8ae6" fill-opacity="0.4" stroke="#2b8ae6" stroke-width="1.2"/>
<circle cx="376.2" cy="448.6" r="2.2" fill="#2b8ae6" fill-opacity="0.4" stroke="#2b8ae6" stroke-width="1.2"/>
<circle cx="387.0" cy="448.6" r="2.2" fill="#2b8ae6" fill-opacity="0.4" stroke="#2b8ae6" stroke-width="1.2"/>
<circle cx="397.8" cy="440.4" r="2.2" fill="#2b8ae6" fill-opacity="0.4" stroke="#2b8ae6" stroke-width="1.2"/>
<circle cx="408.5" cy="436.4" r="2.2" fill="#2b8ae6" fill-opacity="0.4" stroke="#2b8ae6" stroke-width="1.2"/>
<circle cx="419.3" cy="443.8" r="2.2" fill="#2b8ae6" fill-opacity="0.4" stroke="#2b8ae6" stroke-width="1.2"/>
<circle cx="430.1" cy="426.9" r="2.2" fill="#2b8ae6" fill-opacity="0.4" stroke="#2b8ae6" stroke-width="1.2"/>
<circle cx="440.9" cy="433.6" r="2.2" fill="#2b8ae6" fill-opacity="0.4" stroke="#2b8ae6" stroke-width="1.2"/>
<circle cx="451.7" cy="426.9" r="2.2" fill="#2b8ae6" fill-opacity="0.4" stroke="#2b8ae6" stroke-width="1.2"/>
<circle cx="462.4" cy="430.2" r="2.2" fill="#2b8ae6" fill-opacity="0.4" stroke="#2b8ae6" stroke-width="1.2"/>
<circle cx="473.2" cy="436.4" r="2.2" fill="#2b8ae6" fill-opacity="0.4" stroke="#2b8ae6" stroke-width="1.2"/>
<circle cx="484.0" cy="427.5" r="2.2" fill="#2b8ae6" fill-opacity="0.4" stroke="#2b8ae6" stroke-width="1.2"/>
<circle cx="494.8" cy="422.8" r="2.2" fill="#2b8ae6" fill-opacity="0.4" stroke="#2b8ae6" stroke-width="1.2"/>
<circle cx="505.6" cy="413.9" r="2.2" fill="#2b8ae6" fill-opacity="0.4" stroke="#2b8ae6" stroke-width="1.2"/>
<circle cx="516.3" cy="425.8" r="2.2" fill="#2b8ae6" fill-opacity="0.4" stroke="#2b8ae6" stroke-width="1.2"/>
<circle cx="527.1" cy="402.7" r="2.2" fill="#2b8ae6" fill-opacity="0.4" stroke="#2b8ae6" stroke-width="1.2"/>
<circle cx="537.9" cy="423.1" r="2.2" fill="#2b8ae6" fill-opacity="0.4" stroke="#2b8ae6" stroke-width="1.2"/>
<polyline points="322.3,460.8 333.1,469.3 343.9,470.0 354.6,461.5 365.4,466.3 376.2,465.9 387.0,462.2 397.8,457.8 408.5,464.6 419.3,469.7 430.1,453.7 440.9,464.2 451.7,461.5 462.4,458.8 473.2,455.7 484.0,449.6 494.8,458.4 505.6,455.1 516.3,450.6 527.1,466.6 537.9,443.8" fill="none" stroke="#f59a1a" stroke-width="1.5" stroke-linejoin="round"/>
<circle cx="322.3" cy="460.8" r="2.2" fill="#f59a1a" fill-opacity="0.4" stroke="#f59a1a" stroke-width="1.2"/>
<circle cx="333.1" cy="469.3" r="2.2" fill="#f59a1a" fill-opacity="0.4" stroke="#f59a1a" stroke-width="1.2"/>
<circle cx="343.9" cy="470.0" r="2.2" fill="#f59a1a" fill-opacity="0.4" stroke="#f59a1a" stroke-width="1.2"/>
<circle cx="354.6" cy="461.5" r="2.2" fill="#f59a1a" fill-opacity="0.4" stroke="#f59a1a" stroke-width="1.2"/>
<circle cx="365.4" cy="466.3" r="2.2" fill="#f59a1a" fill-opacity="0.4" stroke="#f59a1a" stroke-width="1.2"/>
<circle cx="376.2" cy="465.9" r="2.2" fill="#f59a1a" fill-opacity="0.4" stroke="#f59a1a" stroke-width="1.2"/>
<circle cx="387.0" cy="462.2" r="2.2" fill="#f59a1a" fill-opacity="0.4" stroke="#f59a1a" stroke-width="1.2"/>
<circle cx="397.8" cy="457.8" r="2.2" fill="#f59a1a" fill-opacity="0.4" stroke="#f59a1a" stroke-width="1.2"/>
<circle cx="408.5" cy="464.6" r="2.2" fill="#f59a1a" fill-opacity="0.4" stroke="#f59a1a" stroke-width="1.2"/>
<circle cx="419.3" cy="469.7" r="2.2" fill="#f59a1a" fill-opacity="0.4" stroke="#f59a1a" stroke-width="1.2"/>
<circle cx="430.1" cy="453.7" r="2.2" fill="#f59a1a" fill-opacity="0.4" stroke="#f59a1a" stroke-width="1.2"/>
<circle cx="440.9" cy="464.2" r="2.2" fill="#f59a1a" fill-opacity="0.4" stroke="#f59a1a" stroke-width="1.2"/>
<circle cx="451.7" cy="461.5" r="2.2" fill="#f59a1a" fill-opacity="0.4" stroke="#f59a1a" stroke-width="1.2"/>
<circle cx="462.4" cy="458.8" r="2.2" fill="#f59a1a" fill-opacity="0.4" stroke="#f59a1a" stroke-width="1.2"/>
<circle cx="473.2" cy="455.7" r="2.2" fill="#f59a1a" fill-opacity="0.4" stroke="#f59a1a" stroke-width="1.2"/>
<circle cx="484.0" cy="449.6" r="2.2" fill="#f59a1a" fill-opacity="0.4" stroke="#f59a1a" stroke-width="1.2"/>
<circle cx="494.8" cy="458.4" r="2.2" fill="#f59a1a" fill-opacity="0.4" stroke="#f59a1a" stroke-width="1.2"/>
<circle cx="505.6" cy="455.1" r="2.2" fill="#f59a1a" fill-opacity="0.4" stroke="#f59a1a" stroke-width="1.2"/>
<circle cx="516.3" cy="450.6" r="2.2" fill="#f59a1a" fill-opacity="0.4" stroke="#f59a1a" stroke-width="1.2"/>
<circle cx="527.1" cy="466.6" r="2.2" fill="#f59a1a" fill-opacity="0.4" stroke="#f59a1a" stroke-width="1.2"/>
<circle cx="537.9" cy="443.8" r="2.2" fill="#f59a1a" fill-opacity="0.4" stroke="#f59a1a" stroke-width="1.2"/>
<polyline points="322.3,439.8 333.1,431.9 343.9,427.5 354.6,446.9 365.4,444.5 376.2,418.0 387.0,427.5 397.8,436.7 408.5,405.1 419.3,424.8 430.1,403.4 440.9,406.8 451.7,408.5 462.4,407.5 473.2,413.3 484.0,404.8 494.8,412.2 505.6,405.1 516.3,409.5 527.1,406.8 537.9,406.8" fill="none" stroke="#ee2020" stroke-width="1.5" stroke-linejoin="round"/>
<circle cx="322.3" cy="439.8" r="2.2" fill="#ee2020" fill-opacity="0.4" stroke="#ee2020" stroke-width="1.2"/>
<circle cx="333.1" cy="431.9" r="2.2" fill="#ee2020" fill-opacity="0.4" stroke="#ee2020" stroke-width="1.2"/>
<circle cx="343.9" cy="427.5" r="2.2" fill="#ee2020" fill-opacity="0.4" stroke="#ee2020" stroke-width="1.2"/>
<circle cx="354.6" cy="446.9" r="2.2" fill="#ee2020" fill-opacity="0.4" stroke="#ee2020" stroke-width="1.2"/>
<circle cx="365.4" cy="444.5" r="2.2" fill="#ee2020" fill-opacity="0.4" stroke="#ee2020" stroke-width="1.2"/>
<circle cx="376.2" cy="418.0" r="2.2" fill="#ee2020" fill-opacity="0.4" stroke="#ee2020" stroke-width="1.2"/>
<circle cx="387.0" cy="427.5" r="2.2" fill="#ee2020" fill-opacity="0.4" stroke="#ee2020" stroke-width="1.2"/>
<circle cx="397.8" cy="436.7" r="2.2" fill="#ee2020" fill-opacity="0.4" stroke="#ee2020" stroke-width="1.2"/>
<circle cx="408.5" cy="405.1" r="2.2" fill="#ee2020" fill-opacity="0.4" stroke="#ee2020" stroke-width="1.2"/>
<circle cx="419.3" cy="424.8" r="2.2" fill="#ee2020" fill-opacity="0.4" stroke="#ee2020" stroke-width="1.2"/>
<circle cx="430.1" cy="403.4" r="2.2" fill="#ee2020" fill-opacity="0.4" stroke="#ee2020" stroke-width="1.2"/>
<circle cx="440.9" cy="406.8" r="2.2" fill="#ee2020" fill-opacity="0.4" stroke="#ee2020" stroke-width="1.2"/>
<circle cx="451.7" cy="408.5" r="2.2" fill="#ee2020" fill-opacity="0.4" stroke="#ee2020" stroke-width="1.2"/>
<circle cx="462.4" cy="407.5" r="2.2" fill="#ee2020" fill-opacity="0.4" stroke="#ee2020" stroke-width="1.2"/>
<circle cx="473.2" cy="413.3" r="2.2" fill="#ee2020" fill-opacity="0.4" stroke="#ee2020" stroke-width="1.2"/>
<circle cx="484.0" cy="404.8" r="2.2" fill="#ee2020" fill-opacity="0.4" stroke="#ee2020" stroke-width="1.2"/>
<circle cx="494.8" cy="412.2" r="2.2" fill="#ee2020" fill-opacity="0.4" stroke="#ee2020" stroke-width="1.2"/>
<circle cx="505.6" cy="405.1" r="2.2" fill="#ee2020" fill-opacity="0.4" stroke="#ee2020" stroke-width="1.2"/>
<circle cx="516.3" cy="409.5" r="2.2" fill="#ee2020" fill-opacity="0.4" stroke="#ee2020" stroke-width="1.2"/>
<circle cx="527.1" cy="406.8" r="2.2" fill="#ee2020" fill-opacity="0.4" stroke="#ee2020" stroke-width="1.2"/>
<circle cx="537.9" cy="406.8" r="2.2" fill="#ee2020" fill-opacity="0.4" stroke="#ee2020" stroke-width="1.2"/>
<polyline points="322.3,443.5 333.1,439.4 343.9,434.0 354.6,423.1 365.4,432.3 376.2,413.3 387.0,420.1 397.8,410.2 408.5,413.6 419.3,403.7 430.1,399.7 440.9,402.7 451.7,404.4 462.4,398.3 473.2,393.9 484.0,402.4 494.8,393.2 505.6,390.5 516.3,385.1 527.1,378.3 537.9,383.0" fill="none" stroke="#1c3a9e" stroke-width="1.5" stroke-linejoin="round"/>
<circle cx="322.3" cy="443.5" r="2.2" fill="#1c3a9e" fill-opacity="0.4" stroke="#1c3a9e" stroke-width="1.2"/>
<circle cx="333.1" cy="439.4" r="2.2" fill="#1c3a9e" fill-opacity="0.4" stroke="#1c3a9e" stroke-width="1.2"/>
<circle cx="343.9" cy="434.0" r="2.2" fill="#1c3a9e" fill-opacity="0.4" stroke="#1c3a9e" stroke-width="1.2"/>
<circle cx="354.6" cy="423.1" r="2.2" fill="#1c3a9e" fill-opacity="0.4" stroke="#1c3a9e" stroke-width="1.2"/>
<circle cx="365.4" cy="432.3" r="2.2" fill="#1c3a9e" fill-opacity="0.4" stroke="#1c3a9e" stroke-width="1.2"/>
<circle cx="376.2" cy="413.3" r="2.2" fill="#1c3a9e" fill-opacity="0.4" stroke="#1c3a9e" stroke-width="1.2"/>
<circle cx="387.0" cy="420.1" r="2.2" fill="#1c3a9e" fill-opacity="0.4" stroke="#1c3a9e" stroke-width="1.2"/>
<circle cx="397.8" cy="410.2" r="2.2" fill="#1c3a9e" fill-opacity="0.4" stroke="#1c3a9e" stroke-width="1.2"/>
<circle cx="408.5" cy="413.6" r="2.2" fill="#1c3a9e" fill-opacity="0.4" stroke="#1c3a9e" stroke-width="1.2"/>
<circle cx="419.3" cy="403.7" r="2.2" fill="#1c3a9e" fill-opacity="0.4" stroke="#1c3a9e" stroke-width="1.2"/>
<circle cx="430.1" cy="399.7" r="2.2" fill="#1c3a9e" fill-opacity="0.4" stroke="#1c3a9e" stroke-width="1.2"/>
<circle cx="440.9" cy="402.7" r="2.2" fill="#1c3a9e" fill-opacity="0.4" stroke="#1c3a9e" stroke-width="1.2"/>
<circle cx="451.7" cy="404.4" r="2.2" fill="#1c3a9e" fill-opacity="0.4" stroke="#1c3a9e" stroke-width="1.2"/>
<circle cx="462.4" cy="398.3" r="2.2" fill="#1c3a9e" fill-opacity="0.4" stroke="#1c3a9e" stroke-width="1.2"/>
<circle cx="473.2" cy="393.9" r="2.2" fill="#1c3a9e" fill-opacity="0.4" stroke="#1c3a9e" stroke-width="1.2"/>
<circle cx="484.0" cy="402.4" r="2.2" fill="#1c3a9e" fill-opacity="0.4" stroke="#1c3a9e" stroke-width="1.2"/>
<circle cx="494.8" cy="393.2" r="2.2" fill="#1c3a9e" fill-opacity="0.4" stroke="#1c3a9e" stroke-width="1.2"/>
<circle cx="505.6" cy="390.5" r="2.2" fill="#1c3a9e" fill-opacity="0.4" stroke="#1c3a9e" stroke-width="1.2"/>
<circle cx="516.3" cy="385.1" r="2.2" fill="#1c3a9e" fill-opacity="0.4" stroke="#1c3a9e" stroke-width="1.2"/>
<circle cx="527.1" cy="378.3" r="2.2" fill="#1c3a9e" fill-opacity="0.4" stroke="#1c3a9e" stroke-width="1.2"/>
<circle cx="537.9" cy="383.0" r="2.2" fill="#1c3a9e" fill-opacity="0.4" stroke="#1c3a9e" stroke-width="1.2"/>
<polyline points="322.3,489.0 333.1,479.9 343.9,469.7 354.6,469.7 365.4,470.7 376.2,472.7 387.0,469.7 397.8,470.3 408.5,469.0 419.3,471.0 430.1,465.2 440.9,466.3 451.7,463.9 462.4,464.6 473.2,465.6 484.0,464.2 494.8,462.9 505.6,460.1 516.3,461.2 527.1,460.8 537.9,460.8" fill="none" stroke="#1f8f2f" stroke-width="1.5" stroke-linejoin="round"/>
<circle cx="322.3" cy="489.0" r="2.2" fill="#1f8f2f" fill-opacity="0.4" stroke="#1f8f2f" stroke-width="1.2"/>
<circle cx="333.1" cy="479.9" r="2.2" fill="#1f8f2f" fill-opacity="0.4" stroke="#1f8f2f" stroke-width="1.2"/>
<circle cx="343.9" cy="469.7" r="2.2" fill="#1f8f2f" fill-opacity="0.4" stroke="#1f8f2f" stroke-width="1.2"/>
<circle cx="354.6" cy="469.7" r="2.2" fill="#1f8f2f" fill-opacity="0.4" stroke="#1f8f2f" stroke-width="1.2"/>
<circle cx="365.4" cy="470.7" r="2.2" fill="#1f8f2f" fill-opacity="0.4" stroke="#1f8f2f" stroke-width="1.2"/>
<circle cx="376.2" cy="472.7" r="2.2" fill="#1f8f2f" fill-opacity="0.4" stroke="#1f8f2f" stroke-width="1.2"/>
<circle cx="387.0" cy="469.7" r="2.2" fill="#1f8f2f" fill-opacity="0.4" stroke="#1f8f2f" stroke-width="1.2"/>
<circle cx="397.8" cy="470.3" r="2.2" fill="#1f8f2f" fill-opacity="0.4" stroke="#1f8f2f" stroke-width="1.2"/>
<circle cx="408.5" cy="469.0" r="2.2" fill="#1f8f2f" fill-opacity="0.4" stroke="#1f8f2f" stroke-width="1.2"/>
<circle cx="419.3" cy="471.0" r="2.2" fill="#1f8f2f" fill-opacity="0.4" stroke="#1f8f2f" stroke-width="1.2"/>
<circle cx="430.1" cy="465.2" r="2.2" fill="#1f8f2f" fill-opacity="0.4" stroke="#1f8f2f" stroke-width="1.2"/>
<circle cx="440.9" cy="466.3" r="2.2" fill="#1f8f2f" fill-opacity="0.4" stroke="#1f8f2f" stroke-width="1.2"/>
<circle cx="451.7" cy="463.9" r="2.2" fill="#1f8f2f" fill-opacity="0.4" stroke="#1f8f2f" stroke-width="1.2"/>
<circle cx="462.4" cy="464.6" r="2.2" fill="#1f8f2f" fill-opacity="0.4" stroke="#1f8f2f" stroke-width="1.2"/>
<circle cx="473.2" cy="465.6" r="2.2" fill="#1f8f2f" fill-opacity="0.4" stroke="#1f8f2f" stroke-width="1.2"/>
<circle cx="484.0" cy="464.2" r="2.2" fill="#1f8f2f" fill-opacity="0.4" stroke="#1f8f2f" stroke-width="1.2"/>
<circle cx="494.8" cy="462.9" r="2.2" fill="#1f8f2f" fill-opacity="0.4" stroke="#1f8f2f" stroke-width="1.2"/>
<circle cx="505.6" cy="460.1" r="2.2" fill="#1f8f2f" fill-opacity="0.4" stroke="#1f8f2f" stroke-width="1.2"/>
<circle cx="516.3" cy="461.2" r="2.2" fill="#1f8f2f" fill-opacity="0.4" stroke="#1f8f2f" stroke-width="1.2"/>
<circle cx="527.1" cy="460.8" r="2.2" fill="#1f8f2f" fill-opacity="0.4" stroke="#1f8f2f" stroke-width="1.2"/>
<circle cx="537.9" cy="460.8" r="2.2" fill="#1f8f2f" fill-opacity="0.4" stroke="#1f8f2f" stroke-width="1.2"/>
<line x1="335.8" y1="369.3" x2="343.8" y2="369.3" stroke="#1f8f2f" stroke-width="1.3"/>
<circle cx="339.8" cy="369.3" r="2.1" fill="#1f8f2f" stroke="#1f8f2f" stroke-width="0.8"/>
<text x="346.4" y="372.5" font-size="9.0" text-anchor="start" font-weight="normal" fill="#000" font-family="'Liberation Serif', 'Times New Roman', serif" textLength="21.8" lengthAdjust="spacingAndGlyphs" >Tarim</text>
<line x1="388.2" y1="369.3" x2="396.2" y2="369.3" stroke="#2b8ae6" stroke-width="1.3"/>
<circle cx="392.2" cy="369.3" r="2.1" fill="#2b8ae6" stroke="#2b8ae6" stroke-width="0.8"/>
<text x="398.2" y="372.5" font-size="9.0" text-anchor="start" font-weight="normal" fill="#000" font-family="'Liberation Serif', 'Times New Roman', serif" textLength="26.0" lengthAdjust="spacingAndGlyphs" >Bosten</text>
<line x1="439.4" y1="369.3" x2="447.4" y2="369.3" stroke="#1c3a9e" stroke-width="1.3"/>
<circle cx="443.4" cy="369.3" r="2.1" fill="#1c3a9e" stroke="#1c3a9e" stroke-width="0.8"/>
<text x="450.0" y="372.5" font-size="9.0" text-anchor="start" font-weight="normal" fill="#000" font-family="'Liberation Serif', 'Times New Roman', serif" textLength="19.2" lengthAdjust="spacingAndGlyphs" >Aksu</text>
<line x1="335.8" y1="384.6" x2="343.8" y2="384.6" stroke="#ee2020" stroke-width="1.3"/>
<circle cx="339.8" cy="384.6" r="2.1" fill="#ee2020" stroke="#ee2020" stroke-width="0.8"/>
<text x="347.0" y="387.8" font-size="9.0" text-anchor="start" font-weight="normal" fill="#000" font-family="'Liberation Serif', 'Times New Roman', serif" textLength="30.0" lengthAdjust="spacingAndGlyphs" >Yarkand</text>
<line x1="388.2" y1="384.6" x2="396.2" y2="384.6" stroke="#f59a1a" stroke-width="1.3"/>
<circle cx="392.2" cy="384.6" r="2.1" fill="#f59a1a" stroke="#f59a1a" stroke-width="0.8"/>
<text x="398.2" y="387.8" font-size="9.0" text-anchor="start" font-weight="normal" fill="#000" font-family="'Liberation Serif', 'Times New Roman', serif" textLength="22.3" lengthAdjust="spacingAndGlyphs" >Hotan</text>
</svg>
</body></html>
